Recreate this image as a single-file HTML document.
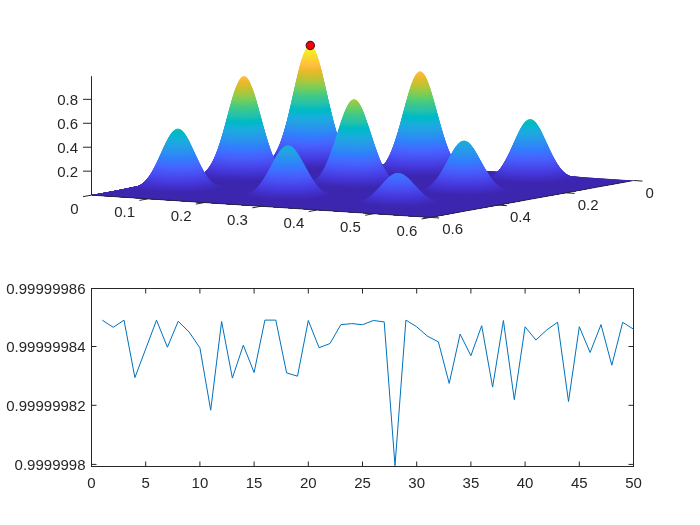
<!DOCTYPE html>
<html><head><meta charset="utf-8"><style>
html,body{margin:0;padding:0;background:#fff;}
svg{display:block;will-change:transform;}
text{font-family:"Liberation Sans",sans-serif;font-size:15px;fill:#262626;}
</style></head><body>
<svg width="700" height="525" viewBox="0 0 700 525">
<defs><linearGradient id="pg" gradientUnits="userSpaceOnUse" x1="0" y1="0" x2="7.842" y2="-119.101"><stop offset="0.0078" stop-color="#3c26b0"/><stop offset="0.0234" stop-color="#3e2abb"/><stop offset="0.0391" stop-color="#402ec5"/><stop offset="0.0547" stop-color="#4232cf"/><stop offset="0.0703" stop-color="#4437d8"/><stop offset="0.0859" stop-color="#463cdf"/><stop offset="0.1016" stop-color="#4741e5"/><stop offset="0.1172" stop-color="#4747eb"/><stop offset="0.1328" stop-color="#484df0"/><stop offset="0.1484" stop-color="#4852f4"/><stop offset="0.1641" stop-color="#4758f8"/><stop offset="0.1797" stop-color="#465efb"/><stop offset="0.1953" stop-color="#4563fd"/><stop offset="0.2109" stop-color="#4269fe"/><stop offset="0.2266" stop-color="#3e6fff"/><stop offset="0.2422" stop-color="#3875fe"/><stop offset="0.2578" stop-color="#327cfc"/><stop offset="0.2734" stop-color="#2f81fa"/><stop offset="0.2891" stop-color="#2e87f7"/><stop offset="0.3047" stop-color="#2d8cf3"/><stop offset="0.3203" stop-color="#2b91ef"/><stop offset="0.3359" stop-color="#2797eb"/><stop offset="0.3516" stop-color="#259be8"/><stop offset="0.3672" stop-color="#23a0e5"/><stop offset="0.3828" stop-color="#20a5e3"/><stop offset="0.3984" stop-color="#1ca9df"/><stop offset="0.4141" stop-color="#18addb"/><stop offset="0.4297" stop-color="#12b1d6"/><stop offset="0.4453" stop-color="#08b5d0"/><stop offset="0.4609" stop-color="#01b8ca"/><stop offset="0.4766" stop-color="#02bac3"/><stop offset="0.4922" stop-color="#0bbdbb"/><stop offset="0.5078" stop-color="#19bfb4"/><stop offset="0.5234" stop-color="#24c1ac"/><stop offset="0.5391" stop-color="#2cc3a3"/><stop offset="0.5547" stop-color="#31c59a"/><stop offset="0.5703" stop-color="#37c791"/><stop offset="0.5859" stop-color="#3fc987"/><stop offset="0.6016" stop-color="#4acb7d"/><stop offset="0.6172" stop-color="#57cc72"/><stop offset="0.6328" stop-color="#64cd68"/><stop offset="0.6484" stop-color="#72cd5e"/><stop offset="0.6641" stop-color="#81cc55"/><stop offset="0.6797" stop-color="#8fcb4d"/><stop offset="0.6953" stop-color="#9dc945"/><stop offset="0.7109" stop-color="#abc73e"/><stop offset="0.7266" stop-color="#b9c437"/><stop offset="0.7422" stop-color="#c5c231"/><stop offset="0.7578" stop-color="#d1bf2d"/><stop offset="0.7734" stop-color="#dcbd2a"/><stop offset="0.7891" stop-color="#e6bb29"/><stop offset="0.8047" stop-color="#f0ba2d"/><stop offset="0.8203" stop-color="#f8ba3d"/><stop offset="0.8359" stop-color="#febe3c"/><stop offset="0.8516" stop-color="#fec338"/><stop offset="0.8672" stop-color="#fec934"/><stop offset="0.8828" stop-color="#fccf30"/><stop offset="0.8984" stop-color="#fad62d"/><stop offset="0.9141" stop-color="#f7dc2a"/><stop offset="0.9297" stop-color="#f5e327"/><stop offset="0.9453" stop-color="#f5e924"/><stop offset="0.9609" stop-color="#f6ef20"/><stop offset="0.9766" stop-color="#f7f51b"/><stop offset="0.9922" stop-color="#f9fb15"/></linearGradient></defs>
<rect width="700" height="525" fill="#fff"/>
<g fill="url(#pg)" stroke="none"><path transform="translate(295,158.2)" d="M0,0 11.3,0.5 31,0.8 38.1,1.1 45.2,1.7 63.5,3.9 76.2,5 117.1,7.6 141.1,8.2 148.2,8.6 155.2,9.2 173.6,11.2 184.9,12.2 227.2,14.9 258.3,16.3 289.3,19 338.7,22.3L318.4,26 -20.3,3.7Z"/><path transform="translate(294.15,158.35)" d="M0,0 11.3,0.4 31,0.1 38.1,0.3 45.2,1.1 63.5,3.8 76.2,5 117.1,7.6 125.6,7.8 141.1,7.7 148.2,7.9 155.2,8.6 173.6,11.1 184.9,12.1 227.2,14.9 251.2,15.6 258.3,15.9 289.3,19 338.7,22.3L318.4,26 -20.3,3.7Z"/><path transform="translate(293.31,158.51)" d="M0,0 11.3,0.3 31,-0.8 38.1,-0.7 45.2,0.2 63.5,3.6 76.2,5 107.3,7.1 117.1,7.5 125.6,7.5 141.1,6.9 148.2,7.1 155.2,7.9 173.6,11 184.9,12.1 227.2,14.9 235.7,15.1 251.2,15.1 258.3,15.4 265.3,16.1 280.8,18.1 289.3,18.9 338.7,22.2L318.4,26 -20.3,3.7Z"/><path transform="translate(292.46,158.66)" d="M0,-0.1 5.6,0.1 11.3,0.1 16.9,-0.4 31,-2 35.3,-2.2 38.1,-2 45.2,-1 57.9,2.2 63.5,3.4 69.2,4.3 76.2,5 107.3,7 117.1,7.4 125.6,7.2 141.1,5.9 148.2,5.9 155.2,6.9 167.9,9.7 173.6,10.8 184.9,12.1 215.9,14.2 227.2,14.8 235.7,14.9 251.2,14.5 258.3,14.7 265.3,15.5 280.8,17.9 289.3,18.9 302,19.9 338.7,22.2L318.4,26 -20.3,3.7Z"/><path transform="translate(291.61,158.82)" d="M0,-0.1 5.6,0 11.3,-0.2 16.9,-0.9 31,-3.6 35.3,-3.9 38.1,-3.8 40.9,-3.4 45.2,-2.5 57.9,1.6 63.5,3.1 69.2,4.2 76.2,5 107.3,7 117.1,7.3 125.6,6.8 141.1,4.5 145.4,4.4 148.2,4.5 151,4.8 155.2,5.6 167.9,9.2 173.6,10.5 179.2,11.5 184.9,12.1 215.9,14.2 227.2,14.7 235.7,14.7 251.2,13.7 258.3,13.9 265.3,14.7 280.8,17.7 289.3,18.8 302,19.9 338.7,22.2L318.4,26 -20.3,3.7Z"/><path transform="translate(290.76,158.97)" d="M0,-0.1 5.6,-0.1 11.3,-0.5 16.9,-1.7 26.8,-4.5 31,-5.5 35.3,-6 38.1,-5.9 40.9,-5.6 45.2,-4.4 57.9,0.8 63.5,2.8 69.2,4 76.2,4.9 107.3,7 117.1,7.2 121.4,6.9 125.6,6.3 136.9,3.7 141.1,2.9 145.4,2.5 148.2,2.6 151,3 155.2,4 167.9,8.5 173.6,10.2 179.2,11.4 184.9,12.1 215.9,14.2 227.2,14.7 235.7,14.4 251.2,12.7 258.3,12.8 265.3,13.8 280.8,17.4 289.3,18.8 302,19.9 338.7,22.1L318.4,26 -20.3,3.7Z"/><path transform="translate(289.92,159.12)" d="M0,-0.1 5.6,-0.2 11.3,-0.9 16.9,-2.5 26.8,-6.5 31,-7.9 35.3,-8.7 38.1,-8.6 40.9,-8.2 45.2,-6.8 49.4,-4.7 57.9,-0.1 63.5,2.3 69.2,3.9 76.2,4.9 107.3,7 112.9,7.2 117.1,7.1 121.4,6.6 125.6,5.7 136.9,2 141.1,0.9 145.4,0.3 148.2,0.4 151,0.8 155.2,2 167.9,7.7 173.6,9.8 179.2,11.2 184.9,12 215.9,14.2 227.2,14.6 231.4,14.4 235.7,14 251.2,11.5 255.4,11.3 258.3,11.4 261.1,11.7 265.3,12.6 280.8,17.1 289.3,18.7 302,19.9 328.8,21.6 338.7,22.1L318.4,26 -20.3,3.7Z"/><path transform="translate(289.07,159.28)" d="M0,-0.2 5.6,-0.4 8.5,-0.8 11.3,-1.4 14.1,-2.4 16.9,-3.6 26.8,-8.9 31,-10.8 35.3,-11.8 38.1,-11.8 40.9,-11.3 45.2,-9.6 49.4,-7 57.9,-1.2 63.5,1.8 66.3,2.9 69.2,3.7 76.2,4.9 107.3,7 112.9,7.1 117.1,6.9 121.4,6.2 125.6,5 129.8,3.2 136.9,0 141.1,-1.6 145.4,-2.3 148.2,-2.3 151,-1.8 155.2,-0.3 159.5,1.9 167.9,6.8 173.6,9.4 179.2,11 184.9,12 191.9,12.6 215.9,14.2 223,14.5 227.2,14.5 231.4,14.2 235.7,13.6 247,10.9 251.2,10.1 255.4,9.7 258.3,9.8 261.1,10.2 265.3,11.2 280.8,16.7 285.1,17.8 289.3,18.6 295,19.3 302,19.9 328.8,21.6 338.7,22L318.4,26 -20.3,3.7Z"/><path transform="translate(288.22,159.43)" d="M0,-0.2 5.6,-0.6 8.5,-1.1 11.3,-2 14.1,-3.2 16.9,-4.8 26.8,-11.8 31,-14.2 33.9,-15.3 35.3,-15.6 38.1,-15.6 40.9,-15 42.3,-14.4 45.2,-12.9 49.4,-9.7 57.9,-2.6 60.7,-0.6 63.5,1.1 66.3,2.5 69.2,3.5 72,4.2 76.2,4.8 83.3,5.5 107.3,7 112.9,7 117.1,6.7 121.4,5.7 125.6,4.1 129.8,1.8 136.9,-2.4 141.1,-4.4 143.9,-5.3 145.4,-5.5 148.2,-5.5 151,-5 155.2,-3.1 159.5,-0.4 167.9,5.7 170.8,7.4 173.6,8.8 176.4,10 179.2,10.8 184.9,11.9 191.9,12.6 215.9,14.2 223,14.5 227.2,14.4 231.4,13.9 235.7,13 247,9.5 251.2,8.4 255.4,7.8 258.3,7.9 261.1,8.3 265.3,9.5 280.8,16.2 285.1,17.5 289.3,18.5 295,19.3 302,19.9 328.8,21.6 338.7,22L318.4,26 -20.3,3.7Z"/><path transform="translate(287.37,159.58)" d="M0,-0.3 2.8,-0.4 5.6,-0.8 8.5,-1.5 11.3,-2.7 14.1,-4.3 16.9,-6.3 26.8,-15 31,-18.2 33.9,-19.5 35.3,-19.9 38.1,-20 40.9,-19.3 42.3,-18.6 45.2,-16.7 49.4,-12.8 57.9,-4.1 60.7,-1.7 63.5,0.4 66.3,2 69.2,3.2 72,4 76.2,4.8 83.3,5.5 107.3,7 112.9,7 117.1,6.4 121.4,5.2 125.6,3.1 129.8,0.2 136.9,-5.1 141.1,-7.7 143.9,-8.8 145.4,-9.1 148.2,-9.2 151,-8.6 152.4,-8 155.2,-6.3 159.5,-3 167.9,4.4 170.8,6.5 173.6,8.2 176.4,9.6 179.2,10.6 184.9,11.9 191.9,12.6 215.9,14.2 223,14.4 227.2,14.2 231.4,13.6 235.7,12.4 239.9,10.8 247,7.8 251.2,6.4 255.4,5.7 258.3,5.7 261.1,6.2 265.3,7.6 269.5,9.7 276.6,13.6 280.8,15.6 285.1,17.2 289.3,18.3 295,19.2 302,19.9 328.8,21.6 338.7,21.9L318.4,26 -20.3,3.7Z"/><path transform="translate(286.53,159.74)" d="M0,-0.3 2.8,-0.5 5.6,-1.1 8.5,-2 11.3,-3.4 14.1,-5.4 16.9,-7.9 19.8,-10.8 26.8,-18.7 31,-22.6 33.9,-24.3 35.3,-24.8 36.7,-25 38.1,-25 39.5,-24.7 40.9,-24.1 42.3,-23.3 45.2,-21.1 49.4,-16.4 57.9,-5.9 60.7,-2.9 63.5,-0.4 66.3,1.5 69.2,2.9 72,3.9 76.2,4.8 83.3,5.5 107.3,7 112.9,6.8 117.1,6.1 121.4,4.5 125.6,1.9 129.8,-1.6 136.9,-8.3 141.1,-11.5 143.9,-12.9 145.4,-13.3 148.2,-13.4 151,-12.6 152.4,-11.9 155.2,-10 159.5,-6 167.9,2.9 170.8,5.4 173.6,7.5 176.4,9.1 179.2,10.4 182.1,11.2 184.9,11.8 191.9,12.6 215.9,14.2 223,14.4 227.2,14 231.4,13.2 235.7,11.8 239.9,9.8 247,6 251.2,4.1 255.4,3.2 258.3,3.2 261.1,3.7 265.3,5.4 269.5,7.9 276.6,12.5 280.8,15 285.1,16.9 289.3,18.2 295,19.2 302,19.9 328.8,21.6 338.7,21.8L318.4,26 -20.3,3.7Z"/><path transform="translate(285.68,159.89)" d="M0,-0.4 2.8,-0.7 5.6,-1.4 8.5,-2.5 11.3,-4.3 14.1,-6.7 16.9,-9.7 19.8,-13.2 26.8,-22.9 29.6,-26.2 31,-27.6 33.9,-29.7 35.3,-30.3 36.7,-30.6 38.1,-30.5 39.5,-30.2 40.9,-29.6 42.3,-28.6 45.2,-25.9 49.4,-20.3 57.9,-7.8 60.7,-4.3 63.5,-1.4 66.3,0.9 69.2,2.6 72,3.7 76.2,4.7 83.3,5.5 107.3,6.9 112.9,6.7 117.1,5.8 120,4.6 121.4,3.8 125.6,0.6 129.8,-3.7 136.9,-11.7 141.1,-15.7 143.9,-17.4 145.4,-17.9 146.8,-18.1 148.2,-18.1 149.6,-17.8 151,-17.2 152.4,-16.4 155.2,-14.1 159.5,-9.4 167.9,1.2 170.8,4.2 173.6,6.7 176.4,8.6 179.2,10.1 182.1,11.1 184.9,11.7 191.9,12.6 215.9,14.2 223,14.3 227.2,13.9 231.4,12.8 235.7,11 239.9,8.5 247,3.9 251.2,1.6 254,0.7 255.4,0.4 258.3,0.4 261.1,1 265.3,3 269.5,5.9 276.6,11.4 280.8,14.3 285.1,16.5 289.3,18 295,19.1 302,19.9 328.8,21.6 334.5,21.8 338.7,21.7L318.4,26 -20.3,3.7Z"/><path transform="translate(284.83,160.05)" d="M0,-0.5 2.8,-0.9 5.6,-1.7 8.5,-3.1 11.3,-5.2 14.1,-8.1 16.9,-11.7 19.8,-15.9 26.8,-27.4 29.6,-31.4 31,-33.1 33.9,-35.5 35.3,-36.3 36.7,-36.6 38.1,-36.6 39.5,-36.2 40.9,-35.5 42.3,-34.4 45.2,-31.2 49.4,-24.7 57.9,-10 60.7,-5.8 63.5,-2.4 66.3,0.3 69.2,2.2 72,3.5 76.2,4.7 83.3,5.5 107.3,6.9 112.9,6.6 117.1,5.4 120,4 121.4,3.1 122.8,2 125.6,-0.8 129.8,-5.9 136.9,-15.6 139.7,-18.9 141.1,-20.3 143.9,-22.3 145.4,-22.9 146.8,-23.2 148.2,-23.2 149.6,-22.8 151,-22.2 152.4,-21.2 155.2,-18.5 159.5,-13 167.9,-0.6 170.8,2.9 173.6,5.8 176.4,8.1 179.2,9.7 182.1,10.9 184.9,11.7 191.9,12.6 215.9,14.2 223,14.2 227.2,13.7 231.4,12.4 235.7,10.2 239.9,7.2 247,1.6 251.2,-1.1 254,-2.3 255.4,-2.6 258.3,-2.6 261.1,-2 262.5,-1.4 265.3,0.3 269.5,3.7 276.6,10.1 280.8,13.5 285.1,16.1 289.3,17.8 295,19.1 302,19.9 328.8,21.6 334.5,21.7 338.7,21.6L318.4,26 -20.3,3.7Z"/><path transform="translate(283.98,160.2)" d="M0,-0.5 2.8,-1 5.6,-2 8.5,-3.7 11.3,-6.2 14.1,-9.6 16.9,-13.8 19.8,-18.8 26.8,-32.3 29.6,-37 31,-38.9 32.5,-40.6 33.9,-41.8 35.3,-42.7 36.7,-43.2 38.1,-43.2 39.5,-42.7 40.9,-41.9 42.3,-40.6 45.2,-36.9 49.4,-29.4 57.9,-12.3 60.7,-7.5 63.5,-3.5 66.3,-0.4 69.2,1.8 72,3.3 76.2,4.6 83.3,5.5 107.3,6.9 110.1,6.8 112.9,6.5 115.7,5.7 117.1,5.1 120,3.4 121.4,2.2 122.8,0.9 125.6,-2.3 129.8,-8.3 136.9,-19.7 139.7,-23.6 141.1,-25.2 143.9,-27.6 145.4,-28.4 146.8,-28.7 148.2,-28.7 149.6,-28.3 151,-27.6 152.4,-26.5 155.2,-23.3 159.5,-16.9 167.9,-2.5 170.8,1.5 173.6,4.9 176.4,7.5 179.2,9.4 182.1,10.7 184.9,11.6 187.7,12.1 191.9,12.6 215.9,14.2 223,14.1 227.2,13.4 231.4,11.9 235.7,9.3 239.9,5.8 247,-0.9 251.2,-4.1 254,-5.4 255.4,-5.8 258.3,-5.9 261.1,-5.2 262.5,-4.5 265.3,-2.5 269.5,1.4 276.6,8.8 280.8,12.7 285.1,15.6 289.3,17.6 292.1,18.4 295,19 302,19.9 328.8,21.6 334.5,21.7 338.7,21.5L318.4,26 -20.3,3.7Z"/><path transform="translate(283.14,160.35)" d="M0,-0.6 2.8,-1.2 5.6,-2.4 8.5,-4.3 11.3,-7.2 14.1,-11.2 16.9,-16.1 19.8,-21.9 26.8,-37.5 29.6,-42.9 31,-45.2 32.5,-47.1 33.9,-48.5 35.3,-49.6 36.7,-50.1 38.1,-50.1 39.5,-49.6 40.9,-48.7 42.3,-47.2 45.2,-43 49.4,-34.3 57.9,-14.7 60.7,-9.2 63.5,-4.7 66.3,-1.2 69.2,1.4 72,3.1 76.2,4.5 79,5 83.3,5.5 101.6,6.7 107.3,6.9 110.1,6.8 112.9,6.3 115.7,5.4 117.1,4.7 120,2.7 121.4,1.4 122.8,-0.2 125.6,-3.9 129.8,-10.9 136.9,-24 139.7,-28.6 141.1,-30.5 142.5,-32.1 143.9,-33.3 145.4,-34.1 146.8,-34.6 148.2,-34.5 149.6,-34.1 151,-33.3 152.4,-32 155.2,-28.5 159.5,-21.1 167.9,-4.6 170.8,0 173.6,3.9 176.4,6.9 179.2,9 182.1,10.5 184.9,11.5 187.7,12.1 191.9,12.6 215.9,14.2 220.2,14.2 223,14 227.2,13.2 231.4,11.4 235.7,8.3 239.9,4.2 247,-3.5 251.2,-7.2 254,-8.8 255.4,-9.3 256.8,-9.5 258.3,-9.4 261.1,-8.6 262.5,-7.8 265.3,-5.6 269.5,-1.1 276.6,7.4 280.8,11.8 285.1,15.1 289.3,17.4 292.1,18.3 295,19 302,19.9 328.8,21.6 334.5,21.7 338.7,21.3L318.4,26 -20.3,3.7Z"/><path transform="translate(282.29,160.51)" d="M0,-0.7 2.8,-1.4 5.6,-2.8 8.5,-5 11.3,-8.3 14.1,-12.8 16.9,-18.5 19.8,-25 26.8,-42.9 29.6,-49.1 31,-51.7 32.5,-53.8 33.9,-55.5 35.3,-56.7 36.7,-57.3 38.1,-57.4 39.5,-56.8 40.9,-55.7 42.3,-54.1 45.2,-49.3 49.4,-39.5 57.9,-17.3 60.7,-11 63.5,-5.9 66.3,-1.9 69.2,0.9 72,2.9 73.4,3.5 76.2,4.5 79,5 83.3,5.5 101.6,6.7 107.3,6.9 110.1,6.7 112.9,6.2 115.7,5.1 117.1,4.3 120,2 121.4,0.5 122.8,-1.3 125.6,-5.6 129.8,-13.6 136.9,-28.6 139.7,-33.8 141.1,-36 142.5,-37.8 143.9,-39.2 145.4,-40.1 146.8,-40.6 148.2,-40.6 149.6,-40.2 151,-39.2 152.4,-37.8 155.2,-33.8 159.5,-25.5 167.9,-6.8 170.8,-1.5 173.6,2.9 176.4,6.2 179.2,8.7 182.1,10.3 184.9,11.4 187.7,12 191.9,12.6 215.9,14.2 220.2,14.2 223,14 227.2,13 230,11.7 231.4,10.8 235.7,7.3 239.9,2.6 247,-6.2 249.8,-9.2 251.2,-10.5 254,-12.3 255.4,-12.9 256.8,-13.1 258.3,-13.1 259.7,-12.7 261.1,-12.1 262.5,-11.2 265.3,-8.8 269.5,-3.7 276.6,5.9 280.8,10.8 285.1,14.6 289.3,17.1 292.1,18.2 295,18.9 302,19.8 328.8,21.6 334.5,21.6 338.7,21.2L318.4,26 -20.3,3.7Z"/><path transform="translate(281.44,160.66)" d="M0,-0.8 2.8,-1.6 5.6,-3.2 8.5,-5.7 11.3,-9.5 14.1,-14.5 16.9,-20.9 19.8,-28.3 26.8,-48.4 29.6,-55.4 31,-58.3 32.5,-60.8 33.9,-62.7 35.3,-64 36.7,-64.7 38.1,-64.8 39.5,-64.2 40.9,-63 42.3,-61.1 45.2,-55.8 49.4,-44.8 57.9,-19.9 60.7,-12.9 63.5,-7.1 66.3,-2.7 69.2,0.5 72,2.6 73.4,3.4 76.2,4.4 79,5 83.3,5.5 101.6,6.7 107.3,6.8 110.1,6.6 112.9,6 115.7,4.8 117.1,3.8 120,1.2 121.4,-0.5 122.8,-2.5 125.6,-7.3 129.8,-16.3 136.9,-33.2 139.7,-39.1 141.1,-41.6 142.5,-43.6 143.9,-45.2 145.4,-46.3 146.8,-46.9 148.2,-46.9 149.6,-46.4 151,-45.3 152.4,-43.7 155.2,-39.2 159.5,-29.9 167.9,-9 170.8,-3.1 173.6,1.8 176.4,5.5 179.2,8.3 182.1,10.1 184.9,11.3 187.7,12 191.9,12.6 215.9,14.2 220.2,14.2 223,13.9 227.2,12.7 230,11.2 231.4,10.3 232.9,9.1 235.7,6.3 239.9,1 247,-9 249.8,-12.4 251.2,-13.8 254,-15.9 255.4,-16.5 256.8,-16.8 258.3,-16.8 259.7,-16.4 261.1,-15.8 262.5,-14.8 265.3,-12 269.5,-6.3 276.6,4.3 280.8,9.9 285.1,14.1 286.5,15.2 289.3,16.9 292.1,18.1 295,18.9 302,19.8 328.8,21.6 334.5,21.5 338.7,21.1L318.4,26 -20.3,3.7Z"/><path transform="translate(280.59,160.81)" d="M0,-0.9 2.8,-1.8 5.6,-3.5 8.5,-6.4 11.3,-10.6 14.1,-16.3 16.9,-23.3 19.8,-31.6 26.8,-53.9 29.6,-61.7 31,-65 32.5,-67.7 33.9,-69.9 35.3,-71.4 36.7,-72.2 38.1,-72.2 39.5,-71.6 40.9,-70.2 42.3,-68.2 43.7,-65.5 45.2,-62.3 46.6,-58.6 49.4,-50.1 57.9,-22.5 60.7,-14.8 63.5,-8.4 66.3,-3.5 69.2,0 72,2.4 73.4,3.2 76.2,4.3 79,5 83.3,5.5 101.6,6.7 107.3,6.8 110.1,6.6 112.9,5.8 115.7,4.4 117.1,3.4 120,0.5 121.4,-1.4 122.8,-3.6 125.6,-9 129.8,-19.1 136.9,-37.9 139.7,-44.5 141.1,-47.2 142.5,-49.5 143.9,-51.3 145.4,-52.5 146.8,-53.1 148.2,-53.2 149.6,-52.6 151,-51.4 152.4,-49.7 155.2,-44.7 159.5,-34.4 167.9,-11.2 170.8,-4.7 173.6,0.7 176.4,4.9 179.2,7.9 182.1,9.9 184.9,11.2 187.7,12 191.9,12.6 215.9,14.1 220.2,14.1 223,13.8 225.8,13 227.2,12.5 230,10.8 231.4,9.7 232.9,8.4 235.7,5.3 239.9,-0.6 247,-11.8 249.8,-15.6 251.2,-17.2 254,-19.5 255.4,-20.2 256.8,-20.6 258.3,-20.5 259.7,-20.1 261.1,-19.4 262.5,-18.3 265.3,-15.3 269.5,-9 276.6,2.8 280.8,8.9 283.7,12.2 285.1,13.6 286.5,14.8 289.3,16.6 292.1,17.9 295,18.8 297.8,19.3 302,19.8 328.8,21.6 334.5,21.5 338.7,20.9L318.4,26 -20.3,3.7Z"/><path transform="translate(279.75,160.97)" d="M0,-1 2.8,-2 5.6,-3.9 8.5,-7.1 11.3,-11.7 14.1,-17.9 16.9,-25.7 19.8,-34.8 26.8,-59.4 29.6,-68 31,-71.6 32.5,-74.6 33.9,-77 35.3,-78.6 36.7,-79.5 38.1,-79.6 39.5,-78.9 40.9,-77.4 42.3,-75.2 43.7,-72.3 45.2,-68.7 46.6,-64.7 49.4,-55.4 57.9,-25.1 60.7,-16.6 63.5,-9.6 66.3,-4.3 69.2,-0.4 72,2.1 73.4,3 76.2,4.3 79,4.9 83.3,5.4 101.6,6.7 107.3,6.8 110.1,6.5 112.9,5.7 115.7,4.1 117.1,3 120,-0.2 121.4,-2.3 122.8,-4.8 125.6,-10.7 129.8,-21.8 136.9,-42.5 139.7,-49.7 141.1,-52.7 142.5,-55.3 143.9,-57.2 145.4,-58.6 146.8,-59.3 148.2,-59.3 149.6,-58.7 151,-57.4 152.4,-55.5 155.2,-50.1 159.5,-38.8 167.9,-13.4 170.8,-6.2 173.6,-0.3 176.4,4.2 179.2,7.5 182.1,9.7 184.9,11.1 187.7,11.9 191.9,12.6 215.9,14.1 220.2,14.1 223,13.7 225.8,12.9 227.2,12.2 230,10.4 231.4,9.2 232.9,7.8 235.7,4.3 239.9,-2.2 247,-14.5 249.8,-18.7 251.2,-20.5 252.6,-22 254,-23.1 255.4,-23.9 256.8,-24.2 258.3,-24.2 259.7,-23.8 261.1,-23 262.5,-21.8 265.3,-18.5 269.5,-11.6 276.6,1.3 280.8,8 283.7,11.6 285.1,13.1 286.5,14.4 289.3,16.4 292.1,17.8 295,18.7 297.8,19.3 302,19.8 328.8,21.6 334.5,21.4 338.7,20.8L318.4,26 -20.3,3.7Z"/><path transform="translate(278.9,161.12)" d="M0,-1.1 2.8,-2.2 5.6,-4.3 8.5,-7.7 11.3,-12.8 14.1,-19.6 16.9,-28.1 19.8,-37.9 26.8,-64.7 29.6,-74 31,-77.9 32.5,-81.2 33.9,-83.8 35.3,-85.6 36.7,-86.5 38.1,-86.7 39.5,-85.9 40.9,-84.3 42.3,-81.9 43.7,-78.7 45.2,-74.9 46.6,-70.5 49.4,-60.4 57.9,-27.6 60.7,-18.4 63.5,-10.8 66.3,-5 69.2,-0.8 72,1.9 73.4,2.9 76.2,4.2 79,4.9 83.3,5.4 101.6,6.7 107.3,6.8 110.1,6.4 112.9,5.5 115.7,3.8 117.1,2.6 120,-0.9 121.4,-3.2 122.8,-5.9 125.6,-12.3 129.8,-24.4 136.9,-47 139.7,-54.8 141.1,-58.1 142.5,-60.8 143.9,-63 145.4,-64.5 146.8,-65.2 148.2,-65.3 149.6,-64.6 151,-63.3 152.4,-61.2 153.8,-58.5 155.2,-55.3 159.5,-43.1 167.9,-15.5 170.8,-7.7 173.6,-1.3 176.4,3.6 179.2,7.1 182.1,9.5 184.9,11 187.7,11.9 191.9,12.6 215.9,14.1 220.2,14 223,13.6 225.8,12.7 227.2,12 230,10 231.4,8.7 232.9,7.1 235.7,3.3 239.9,-3.8 247,-17.2 249.8,-21.8 251.2,-23.7 252.6,-25.3 254,-26.5 255.4,-27.4 256.8,-27.8 258.3,-27.8 259.7,-27.3 261.1,-26.5 262.5,-25.2 265.3,-21.6 269.5,-14.2 276.6,-0.2 280.8,7.1 283.7,11 285.1,12.6 286.5,14 289.3,16.2 292.1,17.7 295,18.7 297.8,19.3 302,19.8 328.8,21.5 334.5,21.4 338.7,20.7L318.4,26 -20.3,3.7Z"/><path transform="translate(278.05,161.28)" d="M0,-1.1 2.8,-2.4 4.2,-3.4 5.6,-4.7 7.1,-6.3 8.5,-8.4 11.3,-13.8 14.1,-21.1 16.9,-30.2 19.8,-40.9 26.8,-69.7 29.6,-79.7 31,-83.9 32.5,-87.4 33.9,-90.2 35.3,-92.1 36.7,-93.2 38.1,-93.3 39.5,-92.5 40.9,-90.8 42.3,-88.2 43.7,-84.8 45.2,-80.7 46.6,-76 49.4,-65.2 57.9,-29.9 60.7,-20 63.5,-11.9 66.3,-5.7 69.2,-1.2 72,1.7 73.4,2.7 76.2,4.1 79,4.9 83.3,5.4 101.6,6.7 107.3,6.7 110.1,6.4 112.9,5.4 115.7,3.5 117.1,2.2 120,-1.6 121.4,-4.1 122.8,-6.9 125.6,-13.9 129.8,-26.9 136.9,-51.1 139.7,-59.6 141.1,-63.1 142.5,-66.1 143.9,-68.4 145.4,-70 146.8,-70.8 148.2,-70.9 149.6,-70.2 151,-68.7 152.4,-66.5 153.8,-63.7 155.2,-60.2 159.5,-47.1 167.9,-17.5 170.8,-9.1 173.6,-2.3 176.4,3 179.2,6.8 182.1,9.3 184.9,10.9 187.7,11.9 191.9,12.5 215.9,14.1 220.2,14 223,13.5 225.8,12.5 227.2,11.8 230,9.6 231.4,8.2 232.9,6.5 235.7,2.4 239.9,-5.3 247,-19.7 249.8,-24.6 251.2,-26.7 252.6,-28.4 254,-29.8 255.4,-30.7 256.8,-31.1 258.3,-31.1 259.7,-30.7 261.1,-29.7 262.5,-28.4 265.3,-24.5 269.5,-16.6 276.6,-1.5 280.8,6.3 283.7,10.4 285.1,12.1 286.5,13.6 289.3,16 292.1,17.6 295,18.6 297.8,19.3 302,19.8 328.8,21.5 334.5,21.3 338.7,20.5L318.4,26 -20.3,3.7Z"/><path transform="translate(277.2,161.43)" d="M0,-1.2 2.8,-2.5 4.2,-3.6 5.6,-5 7.1,-6.7 8.5,-8.9 11.3,-14.7 14.1,-22.5 16.9,-32.2 19.8,-43.5 26.8,-74.2 29.6,-84.9 31,-89.4 32.5,-93.1 33.9,-96.1 35.3,-98.2 36.7,-99.3 38.1,-99.4 39.5,-98.6 40.9,-96.7 42.3,-94 43.7,-90.4 45.2,-86.1 46.6,-81.1 49.4,-69.5 57.9,-32.1 60.7,-21.6 63.5,-13 66.3,-6.3 69.2,-1.6 72,1.5 73.4,2.6 76.2,4.1 79,4.9 83.3,5.4 101.6,6.7 107.3,6.7 110.1,6.3 112.9,5.3 115.7,3.3 117.1,1.8 120,-2.2 121.4,-4.8 122.8,-7.9 125.6,-15.3 129.8,-29.1 136.9,-55 139.7,-64 141.1,-67.7 142.5,-70.9 143.9,-73.3 145.4,-75 146.8,-75.9 148.2,-76 149.6,-75.3 151,-73.7 152.4,-71.4 153.8,-68.3 155.2,-64.7 156.6,-60.4 159.5,-50.7 167.9,-19.3 170.8,-10.4 173.6,-3.2 176.4,2.4 179.2,6.5 182.1,9.2 184.9,10.8 187.7,11.8 191.9,12.5 215.9,14.1 220.2,14 223,13.5 225.8,12.4 227.2,11.6 230,9.2 231.4,7.7 232.9,5.9 235.7,1.6 239.9,-6.6 247,-21.9 249.8,-27.2 251.2,-29.5 252.6,-31.3 254,-32.7 255.4,-33.7 256.8,-34.2 258.3,-34.2 259.7,-33.7 261.1,-32.7 262.5,-31.3 265.3,-27.2 269.5,-18.7 276.6,-2.8 280.8,5.5 283.7,9.9 285.1,11.7 286.5,13.3 289.3,15.8 292.1,17.5 295,18.6 297.8,19.3 302,19.8 328.8,21.5 334.5,21.3 338.7,20.4L318.4,26 -20.3,3.7Z"/><path transform="translate(276.36,161.58)" d="M0,-1.3 2.8,-2.7 4.2,-3.8 5.6,-5.3 7.1,-7.1 8.5,-9.4 11.3,-15.5 14.1,-23.7 16.9,-34 19.8,-45.9 26.8,-78.2 29.6,-89.5 31,-94.2 32.5,-98.2 33.9,-101.3 35.3,-103.5 36.7,-104.6 38.1,-104.8 39.5,-103.9 40.9,-102 42.3,-99.1 43.7,-95.3 45.2,-90.8 46.6,-85.5 49.4,-73.4 57.9,-34 60.7,-22.9 63.5,-13.9 66.3,-6.9 69.2,-1.9 70.6,-0.1 72,1.4 73.4,2.5 76.2,4 79,4.8 83.3,5.4 101.6,6.7 107.3,6.7 110.1,6.3 112.9,5.1 115.7,3 117.1,1.5 120,-2.7 121.4,-5.5 122.8,-8.7 125.6,-16.5 129.8,-31.1 136.9,-58.4 139.7,-67.8 141.1,-71.8 142.5,-75.1 143.9,-77.7 145.4,-79.5 146.8,-80.5 148.2,-80.6 149.6,-79.8 151,-78.1 152.4,-75.7 153.8,-72.5 155.2,-68.6 156.6,-64.2 159.5,-53.9 167.9,-20.9 170.8,-11.6 173.6,-3.9 176.4,1.9 179.2,6.2 182.1,9 184.9,10.8 187.7,11.8 191.9,12.5 215.9,14.1 220.2,13.9 223,13.4 225.8,12.2 227.2,11.4 230,8.9 231.4,7.3 232.9,5.4 235.7,0.9 239.9,-7.8 247,-24 249.8,-29.5 251.2,-31.9 252.6,-33.8 254,-35.3 255.4,-36.4 256.8,-36.9 258.3,-36.9 259.7,-36.4 261.1,-35.3 262.5,-33.8 265.3,-29.5 269.5,-20.7 276.6,-3.9 280.8,4.8 283.7,9.4 285.1,11.3 286.5,13 289.3,15.6 292.1,17.4 295,18.5 297.8,19.2 302,19.8 328.8,21.5 334.5,21.3 338.7,20.3L318.4,26 -20.3,3.7Z"/><path transform="translate(275.51,161.74)" d="M0,-1.3 2.8,-2.8 4.2,-4 5.6,-5.5 7.1,-7.4 8.5,-9.9 11.3,-16.2 14.1,-24.8 16.9,-35.5 19.8,-47.9 26.8,-81.6 29.6,-93.3 31,-98.3 32.5,-102.4 33.9,-105.7 35.3,-107.9 36.7,-109.2 38.1,-109.3 39.5,-108.4 40.9,-106.4 42.3,-103.4 43.7,-99.5 45.2,-94.7 46.6,-89.2 49.4,-76.6 57.9,-35.6 60.7,-24.1 63.5,-14.6 66.3,-7.4 69.2,-2.2 70.6,-0.3 72,1.2 73.4,2.4 76.2,4 79,4.8 83.3,5.4 101.6,6.7 107.3,6.7 110.1,6.2 112.9,5.1 114.3,4.1 115.7,2.9 117.1,1.2 120,-3.2 121.4,-6.1 122.8,-9.4 125.6,-17.6 129.8,-32.8 136.9,-61.2 139.7,-71.1 141.1,-75.2 142.5,-78.7 143.9,-81.4 145.4,-83.3 146.8,-84.3 148.2,-84.4 149.6,-83.6 151,-81.9 152.4,-79.3 153.8,-76 155.2,-71.9 156.6,-67.3 159.5,-56.7 167.9,-22.2 170.8,-12.5 173.6,-4.6 176.4,1.5 179.2,5.9 182.1,8.9 184.9,10.7 187.7,11.8 191.9,12.5 215.9,14.1 220.2,13.9 223,13.3 225.8,12.1 227.2,11.2 230,8.7 231.4,7 232.9,5 235.7,0.2 239.9,-8.8 247,-25.7 249.8,-31.5 251.2,-33.9 252.6,-36 254,-37.5 255.4,-38.6 256.8,-39.2 258.3,-39.2 259.7,-38.6 261.1,-37.6 262.5,-36 265.3,-31.5 269.5,-22.3 276.6,-4.8 280.8,4.2 283.7,9 285.1,11 286.5,12.7 289.3,15.5 292.1,17.3 295,18.5 297.8,19.2 302,19.8 328.8,21.5 334.5,21.2 338.7,20.3L318.4,26 -20.3,3.7Z"/><path transform="translate(274.66,161.89)" d="M0,-1.4 2.8,-2.9 4.2,-4.1 5.6,-5.7 7.1,-7.7 8.5,-10.2 11.3,-16.8 14.1,-25.6 16.9,-36.6 19.8,-49.5 26.8,-84.3 29.6,-96.4 31,-101.5 32.5,-105.7 33.9,-109.1 35.3,-111.5 36.7,-112.7 38.1,-112.9 39.5,-111.9 40.9,-109.9 42.3,-106.8 43.7,-102.8 45.2,-97.9 46.6,-92.2 49.4,-79.2 57.9,-36.8 60.7,-25 63.5,-15.2 66.3,-7.8 69.2,-2.4 70.6,-0.5 72,1.1 73.4,2.3 76.2,3.9 79,4.8 83.3,5.4 101.6,6.7 107.3,6.7 110.1,6.2 112.9,5 114.3,4 115.7,2.7 117.1,1 120,-3.5 121.4,-6.5 122.8,-10 125.6,-18.4 129.8,-34.1 136.9,-63.4 139.7,-73.6 141.1,-77.9 142.5,-81.5 143.9,-84.3 145.4,-86.2 146.8,-87.3 148.2,-87.4 149.6,-86.5 151,-84.8 152.4,-82.2 153.8,-78.7 155.2,-74.6 156.6,-69.8 159.5,-58.8 167.9,-23.3 170.8,-13.3 173.6,-5.1 176.4,1.2 179.2,5.8 182.1,8.8 184.9,10.7 187.7,11.7 191.9,12.5 215.9,14.1 220.2,13.9 223,13.3 225.8,12 227.2,11.1 230,8.5 231.4,6.7 232.9,4.7 235.7,-0.3 239.9,-9.6 247,-27 249.8,-33 251.2,-35.5 252.6,-37.6 254,-39.3 255.4,-40.4 256.8,-40.9 258.3,-41 259.7,-40.4 261.1,-39.3 262.5,-37.7 265.3,-33.1 269.5,-23.6 276.6,-5.6 280.8,3.7 283.7,8.7 285.1,10.8 286.5,12.5 289.3,15.3 292.1,17.2 295,18.5 297.8,19.2 302,19.8 328.8,21.5 334.5,21.2 338.7,20.2L318.4,26 -20.3,3.7Z"/><path transform="translate(273.81,162.04)" d="M0,-1.4 2.8,-3 4.2,-4.2 5.6,-5.8 7.1,-7.9 8.5,-10.4 11.3,-17.1 14.1,-26.2 16.9,-37.5 19.8,-50.6 26.8,-86.1 29.6,-98.5 31,-103.7 32.5,-108.1 33.9,-111.5 35.3,-113.9 36.7,-115.2 38.1,-115.4 39.5,-114.5 40.9,-112.4 42.3,-109.2 43.7,-105.1 45.2,-100.1 46.6,-94.3 49.4,-81 57.9,-37.7 60.7,-25.6 63.5,-15.6 66.3,-8 69.2,-2.6 70.6,-0.6 72,1 73.4,2.3 76.2,3.9 79,4.8 83.3,5.4 101.6,6.7 107.3,6.7 110.1,6.2 112.9,4.9 114.3,3.9 115.7,2.6 117.1,0.9 120,-3.8 121.4,-6.8 122.8,-10.4 125.6,-19 129.8,-35 136.9,-65 139.7,-75.5 141.1,-79.8 142.5,-83.5 143.9,-86.4 145.4,-88.3 146.8,-89.4 148.2,-89.5 149.6,-88.7 151,-86.9 152.4,-84.2 153.8,-80.7 155.2,-76.4 156.6,-71.5 159.5,-60.3 167.9,-24 170.8,-13.8 173.6,-5.5 176.4,1 179.2,5.6 182.1,8.7 184.9,10.6 187.7,11.7 191.9,12.5 215.9,14.1 220.2,13.9 223,13.3 225.8,12 227.2,11 230,8.3 231.4,6.5 232.9,4.5 235.7,-0.6 239.9,-10.1 247,-27.9 249.8,-34.1 251.2,-36.7 252.6,-38.8 254,-40.5 255.4,-41.6 256.8,-42.2 258.3,-42.2 259.7,-41.7 261.1,-40.6 262.5,-38.9 265.3,-34.2 269.5,-24.5 276.6,-6.1 280.8,3.4 283.7,8.5 285.1,10.6 286.5,12.4 289.3,15.3 292.1,17.2 295,18.4 297.8,19.2 302,19.8 328.8,21.5 334.5,21.2 338.7,20.1L318.4,26 -20.3,3.7Z"/><path transform="translate(272.97,162.2)" d="M0,-1.4 2.8,-3 4.2,-4.2 5.6,-5.9 7.1,-8 8.5,-10.6 11.3,-17.4 14.1,-26.5 16.9,-37.9 19.8,-51.2 26.8,-87.2 29.6,-99.7 31,-105 32.5,-109.4 33.9,-112.9 35.3,-115.3 36.7,-116.7 38.1,-116.8 39.5,-115.9 40.9,-113.8 42.3,-110.6 43.7,-106.4 45.2,-101.3 46.6,-95.4 49.4,-82 57.9,-38.2 60.7,-25.9 63.5,-15.9 66.3,-8.2 69.2,-2.7 70.6,-0.6 72,1 73.4,2.2 76.2,3.9 79,4.8 83.3,5.4 101.6,6.7 107.3,6.7 110.1,6.1 112.9,4.9 114.3,3.9 115.7,2.5 117.1,0.8 120,-3.9 121.4,-7 122.8,-10.6 125.6,-19.3 129.8,-35.6 136.9,-65.9 139.7,-76.5 141.1,-80.9 142.5,-84.6 143.9,-87.5 145.4,-89.5 146.8,-90.6 148.2,-90.7 149.6,-89.8 151,-88 152.4,-85.3 153.8,-81.8 155.2,-77.5 156.6,-72.5 159.5,-61.2 167.9,-24.5 170.8,-14.1 173.6,-5.7 176.4,0.9 179.2,5.5 182.1,8.7 184.9,10.6 187.7,11.7 191.9,12.5 215.9,14.1 220.2,13.9 223,13.2 225.8,11.9 227.2,11 230,8.2 231.4,6.4 232.9,4.3 235.7,-0.8 239.9,-10.4 247,-28.5 249.8,-34.7 251.2,-37.3 252.6,-39.5 254,-41.2 255.4,-42.3 256.8,-42.9 258.3,-42.9 259.7,-42.4 261.1,-41.2 262.5,-39.6 265.3,-34.8 269.5,-25 276.6,-6.4 280.8,3.2 283.7,8.4 285.1,10.5 286.5,12.3 289.3,15.2 292.1,17.2 295,18.4 297.8,19.2 302,19.8 321.8,21.2 328.8,21.5 334.5,21.2 338.7,20.1L318.4,26 -20.3,3.7Z"/><path transform="translate(272.12,162.35)" d="M0,-1.4 2.8,-3 4.2,-4.3 5.6,-5.9 7.1,-8 8.5,-10.6 11.3,-17.4 14.1,-26.6 16.9,-38 19.8,-51.3 26.8,-87.4 29.6,-100 31,-105.2 32.5,-109.7 33.9,-113.2 35.3,-115.6 36.7,-116.9 38.1,-117.1 39.5,-116.1 40.9,-114 42.3,-110.8 43.7,-106.6 45.2,-101.5 46.6,-95.7 49.4,-82.2 57.9,-38.3 60.7,-26 63.5,-15.9 66.3,-8.2 69.2,-2.7 70.6,-0.6 72,1 73.4,2.2 76.2,3.9 79,4.8 83.3,5.4 101.6,6.7 107.3,6.7 110.1,6.1 112.9,4.9 114.3,3.9 115.7,2.5 117.1,0.8 120,-4 121.4,-7.1 122.8,-10.7 125.6,-19.4 129.8,-35.7 136.9,-66.1 139.7,-76.7 141.1,-81.1 142.5,-84.8 143.9,-87.7 145.4,-89.7 146.8,-90.8 148.2,-90.9 149.6,-90.1 151,-88.3 152.4,-85.5 153.8,-82 155.2,-77.7 156.6,-72.7 159.5,-61.3 167.9,-24.5 170.8,-14.2 173.6,-5.7 176.4,0.8 179.2,5.5 182.1,8.7 184.9,10.6 187.7,11.7 191.9,12.5 215.9,14.1 220.2,13.9 223,13.2 225.8,11.9 227.2,11 230,8.2 231.4,6.4 232.9,4.3 235.7,-0.8 239.9,-10.5 247,-28.6 249.8,-34.8 251.2,-37.4 252.6,-39.6 254,-41.3 255.4,-42.5 256.8,-43.1 258.3,-43.1 259.7,-42.5 261.1,-41.4 262.5,-39.7 265.3,-34.9 269.5,-25.1 276.6,-6.4 280.8,3.2 283.7,8.3 285.1,10.5 286.5,12.3 289.3,15.2 292.1,17.2 295,18.4 297.8,19.2 302,19.8 321.8,21.2 328.8,21.5 334.5,21.2 338.7,20.1L318.4,26 -20.3,3.7Z"/><path transform="translate(271.27,162.51)" d="M0,-1.4 2.8,-3 4.2,-4.2 5.6,-5.9 7.1,-7.9 8.5,-10.5 11.3,-17.3 14.1,-26.4 16.9,-37.7 19.8,-50.9 26.8,-86.7 29.6,-99.2 31,-104.5 32.5,-108.9 33.9,-112.3 35.3,-114.7 36.7,-116 38.1,-116.2 39.5,-115.3 40.9,-113.2 42.3,-110 43.7,-105.8 45.2,-100.8 46.6,-94.9 49.4,-81.5 57.9,-38 60.7,-25.8 63.5,-15.8 66.3,-8.1 69.2,-2.6 70.6,-0.6 72,1 73.4,2.2 76.2,3.9 79,4.8 83.3,5.4 101.6,6.7 107.3,6.7 110.1,6.1 112.9,4.9 114.3,3.9 115.7,2.6 117.1,0.8 120,-3.9 121.4,-6.9 122.8,-10.5 125.6,-19.1 129.8,-35.3 136.9,-65.5 139.7,-76 141.1,-80.4 142.5,-84.1 143.9,-87 145.4,-89 146.8,-90.1 148.2,-90.2 149.6,-89.3 151,-87.5 152.4,-84.8 153.8,-81.3 155.2,-77 156.6,-72.1 159.5,-60.8 167.9,-24.3 170.8,-14 173.6,-5.6 176.4,0.9 179.2,5.6 182.1,8.7 184.9,10.6 187.7,11.7 191.9,12.5 215.9,14.1 220.2,13.9 223,13.3 225.8,12 227.2,11 230,8.3 231.4,6.5 232.9,4.4 235.7,-0.7 239.9,-10.3 247,-28.2 249.8,-34.5 251.2,-37 252.6,-39.2 254,-40.9 255.4,-42 256.8,-42.6 258.3,-42.6 259.7,-42.1 261.1,-40.9 262.5,-39.3 265.3,-34.5 269.5,-24.8 276.6,-6.3 280.8,3.3 283.7,8.4 285.1,10.5 286.5,12.4 289.3,15.2 292.1,17.2 295,18.4 297.8,19.2 302,19.8 328.8,21.5 334.5,21.2 338.7,20.1L318.4,26 -20.3,3.7Z"/><path transform="translate(270.42,162.66)" d="M0,-1.4 2.8,-2.9 4.2,-4.1 5.6,-5.8 7.1,-7.8 8.5,-10.3 11.3,-17 14.1,-25.9 16.9,-37.1 19.8,-50.1 26.8,-85.2 29.6,-97.5 31,-102.6 32.5,-107 33.9,-110.4 35.3,-112.7 36.7,-114 38.1,-114.2 39.5,-113.2 40.9,-111.2 42.3,-108.1 43.7,-104 45.2,-99 46.6,-93.3 49.4,-80.1 57.9,-37.3 60.7,-25.3 63.5,-15.4 66.3,-7.9 69.2,-2.5 70.6,-0.5 72,1.1 73.4,2.3 76.2,3.9 79,4.8 83.3,5.4 101.6,6.7 107.3,6.7 110.1,6.2 112.9,4.9 114.3,4 115.7,2.6 117.1,1 120,-3.7 121.4,-6.7 122.8,-10.2 125.6,-18.7 129.8,-34.6 136.9,-64.3 139.7,-74.6 141.1,-78.9 142.5,-82.5 143.9,-85.4 145.4,-87.3 146.8,-88.4 148.2,-88.5 149.6,-87.6 151,-85.9 152.4,-83.2 153.8,-79.7 155.2,-75.5 156.6,-70.7 159.5,-59.6 167.9,-23.7 170.8,-13.6 173.6,-5.3 176.4,1.1 179.2,5.7 182.1,8.7 184.9,10.6 187.7,11.7 191.9,12.5 215.9,14.1 220.2,13.9 223,13.3 225.8,12 227.2,11.1 230,8.4 231.4,6.6 232.9,4.6 235.7,-0.4 239.9,-9.9 247,-27.5 249.8,-33.6 251.2,-36.1 252.6,-38.3 254,-39.9 255.4,-41 256.8,-41.6 258.3,-41.6 259.7,-41.1 261.1,-40 262.5,-38.3 265.3,-33.7 269.5,-24 276.6,-5.8 280.8,3.6 283.7,8.6 285.1,10.7 286.5,12.5 289.3,15.3 292.1,17.2 295,18.5 297.8,19.2 302,19.8 328.8,21.5 334.5,21.2 338.7,20.2L318.4,26 -20.3,3.7Z"/><path transform="translate(269.58,162.81)" d="M0,-1.4 2.8,-2.8 4.2,-4 5.6,-5.6 7.1,-7.6 8.5,-10 11.3,-16.5 14.1,-25.2 16.9,-36.1 19.8,-48.7 26.8,-82.9 29.6,-94.8 31,-99.9 32.5,-104.1 33.9,-107.4 35.3,-109.7 36.7,-110.9 38.1,-111.1 39.5,-110.2 40.9,-108.2 42.3,-105.1 43.7,-101.1 45.2,-96.3 46.6,-90.7 49.4,-77.9 57.9,-36.2 60.7,-24.5 63.5,-14.9 66.3,-7.6 69.2,-2.3 70.6,-0.4 72,1.2 73.4,2.4 76.2,4 79,4.8 83.3,5.4 101.6,6.7 107.3,6.7 110.1,6.2 112.9,5 114.3,4 115.7,2.8 117.1,1.1 120,-3.4 121.4,-6.3 122.8,-9.7 125.6,-18 129.8,-33.4 136.9,-62.3 139.7,-72.4 141.1,-76.6 142.5,-80.1 143.9,-82.8 145.4,-84.8 146.8,-85.8 148.2,-85.9 149.6,-85.1 151,-83.3 152.4,-80.7 153.8,-77.4 155.2,-73.3 156.6,-68.6 159.5,-57.7 167.9,-22.7 170.8,-12.9 173.6,-4.8 176.4,1.4 179.2,5.8 182.1,8.8 184.9,10.7 187.7,11.8 191.9,12.5 215.9,14.1 220.2,13.9 223,13.3 225.8,12.1 227.2,11.2 230,8.6 231.4,6.9 232.9,4.9 235.7,0 239.9,-9.2 247,-26.3 249.8,-32.3 251.2,-34.7 252.6,-36.8 254,-38.4 255.4,-39.5 256.8,-40.1 258.3,-40.1 259.7,-39.5 261.1,-38.4 262.5,-36.8 265.3,-32.3 269.5,-22.9 276.6,-5.2 280.8,4 283.7,8.9 285.1,10.9 286.5,12.6 289.3,15.4 292.1,17.3 295,18.5 297.8,19.2 302,19.8 328.8,21.5 334.5,21.2 338.7,20.2L318.4,26 -20.3,3.7Z"/><path transform="translate(268.73,162.97)" d="M0,-1.3 2.8,-2.7 4.2,-3.9 5.6,-5.4 7.1,-7.3 8.5,-9.6 11.3,-15.9 14.1,-24.2 16.9,-34.7 19.8,-46.9 26.8,-79.9 29.6,-91.4 31,-96.2 32.5,-100.2 33.9,-103.4 35.3,-105.6 36.7,-106.9 38.1,-107 39.5,-106.1 40.9,-104.2 42.3,-101.2 43.7,-97.4 45.2,-92.7 46.6,-87.3 49.4,-74.9 57.9,-34.8 60.7,-23.5 63.5,-14.2 66.3,-7.1 69.2,-2.1 70.6,-0.2 72,1.3 73.4,2.4 76.2,4 79,4.8 83.3,5.4 101.6,6.7 107.3,6.7 110.1,6.2 112.9,5.1 115.7,3 117.1,1.4 120,-3 121.4,-5.8 122.8,-9.1 125.6,-17 129.8,-31.9 136.9,-59.7 139.7,-69.4 141.1,-73.5 142.5,-76.9 143.9,-79.5 145.4,-81.4 146.8,-82.3 148.2,-82.4 149.6,-81.6 151,-80 152.4,-77.5 153.8,-74.2 155.2,-70.2 156.6,-65.7 159.5,-55.3 167.9,-21.5 170.8,-12.1 173.6,-4.3 176.4,1.7 179.2,6.1 182.1,8.9 184.9,10.7 187.7,11.8 191.9,12.5 215.9,14.1 220.2,13.9 223,13.4 225.8,12.2 227.2,11.3 230,8.8 231.4,7.2 232.9,5.2 235.7,0.5 239.9,-8.3 247,-24.8 249.8,-30.5 251.2,-32.9 252.6,-34.9 254,-36.4 255.4,-37.5 256.8,-38 258.3,-38 259.7,-37.5 261.1,-36.4 262.5,-34.9 265.3,-30.5 269.5,-21.5 276.6,-4.4 280.8,4.5 283.7,9.2 285.1,11.2 286.5,12.9 289.3,15.5 292.1,17.3 295,18.5 297.8,19.2 302,19.8 328.8,21.5 334.5,21.3 338.7,20.3L318.4,26 -20.3,3.7Z"/><path transform="translate(267.88,163.12)" d="M0,-1.2 2.8,-2.6 4.2,-3.7 5.6,-5.1 7.1,-6.9 8.5,-9.2 11.3,-15.1 14.1,-23.1 16.9,-33.1 19.8,-44.7 26.8,-76.1 29.6,-87.1 31,-91.7 32.5,-95.6 33.9,-98.6 35.3,-100.7 36.7,-101.9 38.1,-102 39.5,-101.1 40.9,-99.3 42.3,-96.5 43.7,-92.8 45.2,-88.3 46.6,-83.2 49.4,-71.4 57.9,-33 60.7,-22.2 63.5,-13.4 66.3,-6.6 69.2,-1.8 72,1.4 73.4,2.6 76.2,4 79,4.9 83.3,5.4 101.6,6.7 107.3,6.7 110.1,6.3 112.9,5.2 115.7,3.2 117.1,1.7 120,-2.5 121.4,-5.2 122.8,-8.3 125.6,-15.9 129.8,-30.1 136.9,-56.6 139.7,-65.8 141.1,-69.7 142.5,-72.9 143.9,-75.4 145.4,-77.2 146.8,-78.1 148.2,-78.2 149.6,-77.5 151,-75.9 152.4,-73.5 153.8,-70.3 155.2,-66.6 156.6,-62.2 159.5,-52.3 167.9,-20 170.8,-11 173.6,-3.5 176.4,2.2 179.2,6.3 182.1,9.1 184.9,10.8 187.7,11.8 191.9,12.5 215.9,14.1 220.2,14 223,13.4 225.8,12.3 227.2,11.5 230,9.1 231.4,7.5 232.9,5.7 235.7,1.2 239.9,-7.2 247,-22.9 249.8,-28.4 251.2,-30.6 252.6,-32.5 254,-34 255.4,-35 256.8,-35.5 258.3,-35.5 259.7,-35 261.1,-34 262.5,-32.5 265.3,-28.3 269.5,-19.7 276.6,-3.3 280.8,5.1 283.7,9.6 285.1,11.5 286.5,13.1 289.3,15.7 292.1,17.4 295,18.6 297.8,19.2 302,19.8 328.8,21.5 334.5,21.3 338.7,20.4L318.4,26 -20.3,3.7Z"/><path transform="translate(267.03,163.27)" d="M0,-1.2 2.8,-2.4 4.2,-3.5 5.6,-4.8 7.1,-6.5 8.5,-8.6 11.3,-14.2 14.1,-21.8 16.9,-31.2 19.8,-42.1 26.8,-71.8 29.6,-82.2 31,-86.5 32.5,-90.2 33.9,-93 35.3,-95 36.7,-96.1 38.1,-96.2 39.5,-95.4 40.9,-93.6 42.3,-91 43.7,-87.5 45.2,-83.3 46.6,-78.4 49.4,-67.3 57.9,-31 60.7,-20.8 63.5,-12.4 66.3,-6 69.2,-1.4 72,1.6 73.4,2.7 76.2,4.1 79,4.9 83.3,5.4 101.6,6.7 107.3,6.7 110.1,6.3 112.9,5.3 115.7,3.4 117.1,2 120,-1.9 121.4,-4.4 122.8,-7.4 125.6,-14.5 129.8,-27.9 136.9,-53 139.7,-61.7 141.1,-65.3 142.5,-68.4 143.9,-70.8 145.4,-72.4 146.8,-73.3 148.2,-73.4 149.6,-72.6 151,-71.1 152.4,-68.9 153.8,-65.9 155.2,-62.3 156.6,-58.2 159.5,-48.8 167.9,-18.3 170.8,-9.8 173.6,-2.7 176.4,2.7 179.2,6.6 182.1,9.2 184.9,10.9 187.7,11.8 191.9,12.5 215.9,14.1 220.2,14 223,13.5 225.8,12.4 227.2,11.7 230,9.4 231.4,8 232.9,6.2 235.7,2 239.9,-5.9 247,-20.7 249.8,-25.9 251.2,-28 252.6,-29.8 254,-31.2 255.4,-32.1 256.8,-32.6 258.3,-32.6 259.7,-32.1 261.1,-31.2 262.5,-29.8 265.3,-25.8 269.5,-17.6 276.6,-2.1 280.8,5.9 283.7,10.1 285.1,11.9 286.5,13.5 289.3,15.9 292.1,17.5 295,18.6 297.8,19.3 302,19.8 328.8,21.5 334.5,21.3 338.7,20.5L318.4,26 -20.3,3.7Z"/><path transform="translate(266.19,163.43)" d="M0,-1.1 2.8,-2.3 5.6,-4.5 8.5,-8 11.3,-13.3 14.1,-20.3 16.9,-29.1 19.8,-39.3 26.8,-67 29.6,-76.7 31,-80.8 32.5,-84.2 33.9,-86.8 35.3,-88.7 36.7,-89.7 38.1,-89.8 39.5,-89 40.9,-87.4 42.3,-84.9 43.7,-81.6 45.2,-77.7 46.6,-73.1 49.4,-62.7 57.9,-28.7 60.7,-19.2 63.5,-11.3 66.3,-5.3 69.2,-1 72,1.8 73.4,2.8 76.2,4.2 79,4.9 83.3,5.4 101.6,6.7 107.3,6.7 110.1,6.4 112.9,5.5 115.7,3.7 117.1,2.4 120,-1.3 121.4,-3.6 122.8,-6.4 125.6,-13 129.8,-25.6 136.9,-49 139.7,-57.1 141.1,-60.5 142.5,-63.3 143.9,-65.5 145.4,-67.1 146.8,-67.9 148.2,-68 149.6,-67.3 151,-65.8 152.4,-63.7 153.8,-61 155.2,-57.6 159.5,-45 167.9,-16.4 170.8,-8.4 173.6,-1.8 176.4,3.3 179.2,7 182.1,9.4 184.9,11 187.7,11.9 191.9,12.6 215.9,14.1 220.2,14 223,13.6 225.8,12.6 227.2,11.9 230,9.8 231.4,8.4 232.9,6.8 235.7,2.9 239.9,-4.5 247,-18.3 249.8,-23.1 251.2,-25.1 252.6,-26.8 254,-28.1 255.4,-28.9 256.8,-29.4 258.3,-29.4 259.7,-28.9 261.1,-28 262.5,-26.7 265.3,-23 269.5,-15.3 276.6,-0.8 280.8,6.7 283.7,10.7 285.1,12.4 286.5,13.8 289.3,16.1 292.1,17.6 295,18.7 297.8,19.3 302,19.8 328.8,21.5 334.5,21.4 338.7,20.6L318.4,26 -20.3,3.7Z"/><path transform="translate(265.34,163.58)" d="M0,-1 2.8,-2.1 5.6,-4.1 8.5,-7.4 11.3,-12.2 14.1,-18.7 16.9,-26.8 19.8,-36.3 26.8,-61.9 29.6,-70.8 31,-74.6 32.5,-77.7 33.9,-80.2 35.3,-81.9 36.7,-82.8 38.1,-82.9 39.5,-82.2 40.9,-80.6 42.3,-78.3 43.7,-75.3 45.2,-71.7 46.6,-67.4 49.4,-57.7 57.9,-26.3 60.7,-17.4 63.5,-10.2 66.3,-4.6 69.2,-0.6 72,2 73.4,3 76.2,4.2 79,4.9 83.3,5.4 101.6,6.7 107.3,6.8 110.1,6.5 112.9,5.6 115.7,4 117.1,2.8 120,-0.6 121.4,-2.8 122.8,-5.3 125.6,-11.5 129.8,-23 136.9,-44.6 139.7,-52.1 141.1,-55.3 142.5,-57.9 143.9,-59.9 145.4,-61.3 146.8,-62.1 148.2,-62.1 149.6,-61.5 151,-60.2 152.4,-58.2 155.2,-52.5 159.5,-40.8 167.9,-14.4 170.8,-6.9 173.6,-0.8 176.4,3.9 179.2,7.3 182.1,9.6 184.9,11.1 187.7,11.9 191.9,12.6 215.9,14.1 220.2,14.1 223,13.7 225.8,12.8 227.2,12.1 230,10.2 231.4,8.9 232.9,7.5 235.7,3.8 239.9,-3 247,-15.8 249.8,-20.2 251.2,-22 252.6,-23.5 254,-24.7 255.4,-25.5 256.8,-25.9 258.3,-25.9 259.7,-25.5 261.1,-24.6 262.5,-23.4 265.3,-19.9 269.5,-12.8 276.6,0.6 280.8,7.6 283.7,11.3 285.1,12.8 286.5,14.2 289.3,16.3 292.1,17.8 295,18.7 297.8,19.3 302,19.8 328.8,21.5 334.5,21.4 338.7,20.7L318.4,26 -20.3,3.7Z"/><path transform="translate(264.49,163.74)" d="M0,-0.9 2.8,-1.9 5.6,-3.7 8.5,-6.7 11.3,-11.1 14.1,-17 16.9,-24.5 19.8,-33.1 26.8,-56.5 29.6,-64.7 31,-68.1 32.5,-70.9 33.9,-73.2 35.3,-74.8 36.7,-75.6 38.1,-75.7 39.5,-75 40.9,-73.6 42.3,-71.5 43.7,-68.7 45.2,-65.3 46.6,-61.5 49.4,-52.6 57.9,-23.7 60.7,-15.6 63.5,-9 66.3,-3.8 69.2,-0.2 72,2.3 73.4,3.1 76.2,4.3 79,4.9 83.3,5.4 101.6,6.7 107.3,6.8 110.1,6.5 112.9,5.8 115.7,4.3 117.1,3.2 120,0.1 121.4,-1.8 122.8,-4.2 125.6,-9.8 129.8,-20.3 136.9,-40.1 139.7,-46.9 141.1,-49.8 142.5,-52.2 143.9,-54 145.4,-55.3 146.8,-56 148.2,-56 149.6,-55.5 151,-54.2 152.4,-52.4 155.2,-47.2 159.5,-36.5 167.9,-12.2 170.8,-5.4 173.6,0.2 176.4,4.6 179.2,7.7 182.1,9.8 184.9,11.2 187.7,11.9 191.9,12.6 215.9,14.1 220.2,14.1 223,13.7 225.8,13 227.2,12.3 230,10.6 231.4,9.5 232.9,8.1 235.7,4.8 239.9,-1.4 247,-13 249.8,-17.1 251.2,-18.7 252.6,-20.1 254,-21.2 255.4,-21.9 256.8,-22.3 258.3,-22.3 259.7,-21.9 261.1,-21.1 262.5,-20 265.3,-16.8 269.5,-10.2 276.6,2.1 280.8,8.5 283.7,11.9 285.1,13.3 286.5,14.6 289.3,16.5 292.1,17.9 295,18.8 297.8,19.3 302,19.8 328.8,21.6 334.5,21.5 338.7,20.9L318.4,26 -20.3,3.7Z"/><path transform="translate(263.64,163.89)" d="M0,-0.8 2.8,-1.7 5.6,-3.3 8.5,-6 11.3,-10 14.1,-15.3 16.9,-22 19.8,-29.8 26.8,-51 29.6,-58.3 31,-61.4 32.5,-64 33.9,-66 35.3,-67.4 36.7,-68.2 38.1,-68.3 39.5,-67.6 40.9,-66.3 42.3,-64.4 43.7,-61.9 45.2,-58.9 49.4,-47.3 57.9,-21.1 60.7,-13.8 63.5,-7.7 66.3,-3.1 69.2,0.3 72,2.5 73.4,3.3 76.2,4.4 79,5 83.3,5.5 101.6,6.7 107.3,6.8 110.1,6.6 112.9,5.9 115.7,4.6 117.1,3.6 120,0.9 121.4,-0.9 122.8,-3 125.6,-8.1 129.8,-17.6 136.9,-35.4 139.7,-41.6 141.1,-44.2 142.5,-46.3 143.9,-48 145.4,-49.2 146.8,-49.8 148.2,-49.8 149.6,-49.3 151,-48.1 152.4,-46.5 155.2,-41.8 159.5,-32 167.9,-10 170.8,-3.8 173.6,1.3 176.4,5.2 179.2,8.1 182.1,10 184.9,11.2 187.7,12 191.9,12.6 215.9,14.1 220.2,14.1 223,13.8 225.8,13.1 227.2,12.6 230,11 231.4,10 232.9,8.8 235.7,5.8 239.9,0.2 247,-10.3 249.8,-13.9 251.2,-15.4 254,-17.6 255.4,-18.3 256.8,-18.6 258.3,-18.5 259.7,-18.2 261.1,-17.5 262.5,-16.4 265.3,-13.5 269.5,-7.6 276.6,3.6 280.8,9.5 285.1,13.9 286.5,15 289.3,16.8 292.1,18 295,18.8 297.8,19.4 302,19.8 328.8,21.6 334.5,21.5 338.7,21L318.4,26 -20.3,3.7Z"/><path transform="translate(262.8,164.04)" d="M0,-0.8 2.8,-1.5 5.6,-2.9 8.5,-5.3 11.3,-8.9 14.1,-13.6 16.9,-19.6 19.8,-26.6 26.8,-45.4 29.6,-52 31,-54.7 32.5,-57.1 33.9,-58.9 35.3,-60.1 36.7,-60.8 38.1,-60.8 39.5,-60.2 40.9,-59.1 42.3,-57.3 45.2,-52.3 49.4,-42 57.9,-18.5 60.7,-11.9 63.5,-6.5 66.3,-2.3 69.2,0.7 72,2.7 73.4,3.5 76.2,4.4 79,5 83.3,5.5 101.6,6.7 107.3,6.8 110.1,6.7 112.9,6.1 115.7,4.9 117.1,4.1 120,1.6 121.4,0 122.8,-1.8 125.6,-6.4 129.8,-14.8 136.9,-30.7 139.7,-36.2 141.1,-38.6 142.5,-40.5 143.9,-42 145.4,-43 146.8,-43.5 148.2,-43.5 149.6,-43 151,-42 152.4,-40.5 155.2,-36.3 159.5,-27.5 167.9,-7.8 170.8,-2.2 173.6,2.4 176.4,5.9 179.2,8.5 182.1,10.2 184.9,11.3 187.7,12 191.9,12.6 215.9,14.2 220.2,14.2 223,13.9 227.2,12.8 230,11.5 231.4,10.6 232.9,9.5 235.7,6.9 239.9,1.9 247,-7.5 249.8,-10.7 251.2,-12 254,-14 255.4,-14.6 256.8,-14.8 258.3,-14.8 259.7,-14.5 261.1,-13.8 262.5,-12.9 265.3,-10.3 269.5,-4.9 276.6,5.2 280.8,10.4 285.1,14.4 289.3,17 292.1,18.1 295,18.9 302,19.8 328.8,21.6 334.5,21.6 338.7,21.1L318.4,26 -20.3,3.7Z"/><path transform="translate(261.95,164.2)" d="M0,-0.7 2.8,-1.3 5.6,-2.6 8.5,-4.7 11.3,-7.7 14.1,-11.9 16.9,-17.2 19.8,-23.3 26.8,-40 29.6,-45.7 31,-48.2 32.5,-50.2 33.9,-51.8 35.3,-52.9 36.7,-53.4 38.1,-53.5 39.5,-53 40.9,-51.9 42.3,-50.4 45.2,-45.9 49.4,-36.7 57.9,-15.9 60.7,-10 63.5,-5.2 66.3,-1.5 69.2,1.2 72,3 73.4,3.6 76.2,4.5 79,5 83.3,5.5 101.6,6.7 107.3,6.9 110.1,6.7 112.9,6.2 115.7,5.2 117.1,4.5 120,2.4 121.4,1 122.8,-0.7 125.6,-4.7 129.8,-12.1 136.9,-26.1 139.7,-31 141.1,-33 142.5,-34.7 143.9,-36 145.4,-36.9 146.8,-37.4 148.2,-37.4 149.6,-36.9 151,-36 152.4,-34.7 155.2,-30.9 159.5,-23.1 167.9,-5.6 170.8,-0.7 173.6,3.4 176.4,6.6 179.2,8.9 182.1,10.4 184.9,11.4 187.7,12.1 191.9,12.6 215.9,14.2 220.2,14.2 223,14 227.2,13.1 230,11.9 231.4,11.1 235.7,7.9 239.9,3.5 247,-4.7 251.2,-8.7 254,-10.4 255.4,-10.9 256.8,-11.2 258.3,-11.1 259.7,-10.8 261.1,-10.2 262.5,-9.4 265.3,-7.1 269.5,-2.3 276.6,6.7 280.8,11.3 285.1,14.9 289.3,17.2 292.1,18.3 295,19 302,19.8 328.8,21.6 334.5,21.6 338.7,21.3L318.4,26 -20.3,3.7Z"/><path transform="translate(261.1,164.35)" d="M0,-0.6 2.8,-1.1 5.6,-2.2 8.5,-4 11.3,-6.7 14.1,-10.3 16.9,-14.9 19.8,-20.2 26.8,-34.7 29.6,-39.7 31,-41.8 32.5,-43.6 33.9,-44.9 35.3,-45.9 36.7,-46.3 38.1,-46.4 39.5,-45.9 40.9,-45 42.3,-43.6 45.2,-39.7 49.4,-31.6 57.9,-13.4 60.7,-8.3 63.5,-4 66.3,-0.8 69.2,1.6 72,3.2 76.2,4.6 83.3,5.5 101.6,6.7 107.3,6.9 110.1,6.8 112.9,6.4 115.7,5.5 117.1,4.9 120,3.1 121.4,1.8 122.8,0.4 125.6,-3 129.8,-9.5 136.9,-21.7 139.7,-25.9 141.1,-27.6 142.5,-29.1 143.9,-30.2 145.4,-31 146.8,-31.4 148.2,-31.4 149.6,-31 151,-30.2 152.4,-29 155.2,-25.7 159.5,-18.9 167.9,-3.5 170.8,0.8 173.6,4.4 176.4,7.2 179.2,9.2 182.1,10.6 184.9,11.5 187.7,12.1 191.9,12.6 215.9,14.2 220.2,14.2 223,14.1 227.2,13.3 231.4,11.6 235.7,8.8 239.9,5.1 247,-2.1 251.2,-5.5 254,-7 255.4,-7.4 258.3,-7.5 261.1,-6.7 262.5,-6 265.3,-3.9 269.5,0.2 276.6,8.1 280.8,12.2 285.1,15.4 289.3,17.5 292.1,18.4 295,19 302,19.9 328.8,21.6 334.5,21.7 338.7,21.4L318.4,26 -20.3,3.7Z"/><path transform="translate(260.25,164.5)" d="M0,-0.5 2.8,-0.9 5.6,-1.8 8.5,-3.4 11.3,-5.6 14.1,-8.8 16.9,-12.7 19.8,-17.2 26.8,-29.6 29.6,-33.9 31,-35.7 32.5,-37.2 33.9,-38.4 35.3,-39.2 36.7,-39.6 38.1,-39.6 39.5,-39.2 40.9,-38.4 42.3,-37.2 45.2,-33.8 49.4,-26.8 57.9,-11 60.7,-6.6 63.5,-2.9 66.3,-0.1 69.2,2 72,3.4 76.2,4.6 83.3,5.5 107.3,6.9 110.1,6.9 112.9,6.5 115.7,5.8 117.1,5.3 120,3.7 121.4,2.7 122.8,1.5 125.6,-1.5 129.8,-7 136.9,-17.4 139.7,-21 141.1,-22.5 143.9,-24.8 145.4,-25.4 146.8,-25.7 148.2,-25.7 149.6,-25.3 151,-24.6 152.4,-23.6 155.2,-20.7 159.5,-14.8 167.9,-1.5 170.8,2.3 173.6,5.4 176.4,7.8 179.2,9.6 182.1,10.8 184.9,11.6 187.7,12.1 191.9,12.6 215.9,14.2 223,14.2 227.2,13.6 231.4,12.1 235.7,9.8 239.9,6.5 247,0.5 251.2,-2.5 254,-3.7 255.4,-4.1 258.3,-4.2 261.1,-3.4 262.5,-2.8 265.3,-1 269.5,2.7 276.6,9.5 280.8,13.1 285.1,15.8 289.3,17.7 292.1,18.5 295,19.1 302,19.9 328.8,21.6 334.5,21.7 338.7,21.5L318.4,26 -20.3,3.7Z"/><path transform="translate(259.41,164.66)" d="M0,-0.4 2.8,-0.8 5.6,-1.5 8.5,-2.8 11.3,-4.7 14.1,-7.3 16.9,-10.6 19.8,-14.5 26.8,-24.9 29.6,-28.6 31,-30.1 33.9,-32.3 35.3,-33 36.7,-33.3 38.1,-33.3 39.5,-32.9 40.9,-32.3 42.3,-31.2 45.2,-28.3 49.4,-22.3 57.9,-8.8 60.7,-5 63.5,-1.8 66.3,0.6 69.2,2.4 72,3.6 76.2,4.7 83.3,5.5 107.3,6.9 112.9,6.7 117.1,5.6 120,4.3 121.4,3.5 125.6,0 129.8,-4.7 136.9,-13.5 141.1,-17.8 143.9,-19.6 145.4,-20.2 146.8,-20.4 148.2,-20.4 149.6,-20.1 151,-19.5 152.4,-18.6 155.2,-16.1 159.5,-11 167.9,0.4 170.8,3.6 173.6,6.3 176.4,8.4 179.2,9.9 182.1,11 184.9,11.7 191.9,12.6 215.9,14.2 223,14.3 227.2,13.8 231.4,12.6 235.7,10.6 239.9,7.9 247,2.8 251.2,0.4 254,-0.7 255.4,-0.9 258.3,-1 261.1,-0.3 262.5,0.2 265.3,1.8 269.5,4.9 276.6,10.8 280.8,13.9 285.1,16.3 289.3,17.9 295,19.1 302,19.9 328.8,21.6 334.5,21.8 338.7,21.6L318.4,26 -20.3,3.7Z"/><path transform="translate(258.56,164.81)" d="M0,-0.4 2.8,-0.6 5.6,-1.2 8.5,-2.2 11.3,-3.8 14.1,-6 16.9,-8.7 19.8,-11.9 26.8,-20.6 31,-24.9 33.9,-26.7 35.3,-27.3 36.7,-27.5 38.1,-27.5 39.5,-27.2 40.9,-26.6 42.3,-25.7 45.2,-23.2 49.4,-18.2 57.9,-6.8 60.7,-3.5 63.5,-0.9 66.3,1.2 69.2,2.7 72,3.8 76.2,4.7 83.3,5.5 107.3,7 112.9,6.8 117.1,6 121.4,4.2 125.6,1.3 129.8,-2.5 136.9,-9.8 141.1,-13.4 143.9,-14.9 145.4,-15.3 146.8,-15.5 148.2,-15.5 151,-14.7 152.4,-13.9 155.2,-11.8 159.5,-7.5 167.9,2.1 170.8,4.9 173.6,7.1 176.4,8.9 179.2,10.2 182.1,11.2 184.9,11.8 191.9,12.6 215.9,14.2 223,14.3 227.2,14 231.4,13 235.7,11.4 239.9,9.2 247,5 251.2,3 254,2.2 255.4,1.9 258.3,1.9 261.1,2.5 265.3,4.3 269.5,7 276.6,12 280.8,14.7 285.1,16.7 289.3,18.1 295,19.2 302,19.9 328.8,21.6 338.7,21.8L318.4,26 -20.3,3.7Z"/><path transform="translate(257.71,164.97)" d="M0,-0.3 2.8,-0.5 5.6,-0.9 8.5,-1.7 11.3,-3 14.1,-4.8 16.9,-7 26.8,-16.7 31,-20.2 33.9,-21.7 35.3,-22.1 38.1,-22.3 40.9,-21.5 42.3,-20.7 45.2,-18.7 49.4,-14.4 57.9,-4.9 60.7,-2.2 63.5,0 66.3,1.8 69.2,3.1 72,4 76.2,4.8 83.3,5.5 107.3,7 112.9,6.9 117.1,6.3 121.4,4.9 125.6,2.5 129.8,-0.6 136.9,-6.5 141.1,-9.4 143.9,-10.6 145.4,-11 148.2,-11.1 151,-10.4 152.4,-9.8 155.2,-8 159.5,-4.4 167.9,3.7 170.8,6 173.6,7.9 176.4,9.4 179.2,10.5 182.1,11.3 184.9,11.8 191.9,12.6 215.9,14.2 223,14.4 227.2,14.1 231.4,13.4 235.7,12.1 239.9,10.4 247,7 251.2,5.4 255.4,4.5 258.3,4.6 261.1,5.1 265.3,6.6 269.5,8.9 276.6,13.1 280.8,15.3 285.1,17.1 289.3,18.3 295,19.2 302,19.9 328.8,21.6 338.7,21.8L318.4,26 -20.3,3.7Z"/><path transform="translate(256.86,165.12)" d="M0,-0.2 5.6,-0.7 8.5,-1.3 11.3,-2.3 14.1,-3.7 16.9,-5.5 26.8,-13.2 31,-16 33.9,-17.2 35.3,-17.5 38.1,-17.6 40.9,-16.9 42.3,-16.3 45.2,-14.6 49.4,-11.1 57.9,-3.3 60.7,-1.1 63.5,0.8 66.3,2.3 69.2,3.3 72,4.1 76.2,4.8 83.3,5.5 107.3,7 112.9,7 117.1,6.5 121.4,5.5 125.6,3.6 129.8,1.1 136.9,-3.6 141.1,-5.9 143.9,-6.9 145.4,-7.1 148.2,-7.2 151,-6.6 152.4,-6 155.2,-4.6 159.5,-1.6 167.9,5.1 170.8,7 173.6,8.5 176.4,9.8 179.2,10.7 184.9,11.9 191.9,12.6 215.9,14.2 223,14.4 227.2,14.3 231.4,13.8 235.7,12.8 247,8.7 251.2,7.5 255.4,6.9 258.3,6.9 261.1,7.3 265.3,8.7 280.8,15.9 285.1,17.4 289.3,18.4 295,19.3 302,19.9 328.8,21.6 338.7,21.9L318.4,26 -20.3,3.7Z"/><path transform="translate(256.02,165.27)" d="M0,-0.2 5.6,-0.5 8.5,-0.9 11.3,-1.7 14.1,-2.8 16.9,-4.1 26.8,-10.2 31,-12.3 33.9,-13.3 35.3,-13.5 38.1,-13.5 40.9,-13 45.2,-11 49.4,-8.2 57.9,-1.8 60.7,0 63.5,1.5 66.3,2.7 69.2,3.6 72,4.2 76.2,4.9 83.3,5.5 107.3,7 112.9,7.1 117.1,6.8 121.4,6 125.6,4.6 129.8,2.6 136.9,-1.1 141.1,-2.8 145.4,-3.8 148.2,-3.8 151,-3.2 155.2,-1.6 159.5,0.9 167.9,6.3 173.6,9.1 179.2,11 184.9,12 191.9,12.6 215.9,14.2 223,14.5 227.2,14.4 231.4,14.1 235.7,13.3 247,10.2 251.2,9.3 255.4,8.9 258.3,8.9 261.1,9.3 265.3,10.4 280.8,16.4 285.1,17.7 289.3,18.5 295,19.3 302,19.9 328.8,21.6 338.7,22L318.4,26 -20.3,3.7Z"/><path transform="translate(255.17,165.43)" d="M0,-0.1 5.6,-0.3 11.3,-1.2 16.9,-3 26.8,-7.6 31,-9.2 35.3,-10.1 38.1,-10.1 40.9,-9.6 45.2,-8 49.4,-5.7 57.9,-0.6 63.5,2.1 69.2,3.8 76.2,4.9 107.3,7 112.9,7.2 117.1,7 121.4,6.4 125.6,5.4 129.8,3.9 136.9,1.1 141.1,-0.2 145.4,-0.9 148.2,-0.8 151,-0.4 155.2,1 159.5,3 167.9,7.3 173.6,9.6 179.2,11.1 184.9,12 215.9,14.2 227.2,14.5 231.4,14.3 235.7,13.8 251.2,10.9 255.4,10.6 258.3,10.7 261.1,11 265.3,12 280.8,16.9 285.1,17.9 289.3,18.6 295,19.3 302,19.9 328.8,21.6 338.7,22.1L318.4,26 -20.3,3.7Z"/><path transform="translate(254.32,165.58)" d="M0,-0.1 5.6,-0.1 11.3,-0.7 16.9,-2 26.8,-5.4 31,-6.6 35.3,-7.2 38.1,-7.1 40.9,-6.7 45.2,-5.4 49.4,-3.6 57.9,0.4 63.5,2.6 69.2,4 76.2,4.9 107.3,7 112.9,7.2 117.1,7.2 121.4,6.8 125.6,6 136.9,3 141.1,2 145.4,1.6 148.2,1.6 151,2 155.2,3.1 167.9,8.2 173.6,10 179.2,11.3 184.9,12 215.9,14.2 227.2,14.6 235.7,14.2 251.2,12.2 255.4,12 258.3,12.2 261.1,12.5 265.3,13.2 280.8,17.3 289.3,18.7 302,19.9 338.7,22.1L318.4,26 -20.3,3.7Z"/><path transform="translate(253.47,165.73)" d="M0,-0.1 5.6,0 11.3,-0.4 16.9,-1.3 26.8,-3.6 31,-4.4 35.3,-4.8 38.1,-4.7 40.9,-4.4 45.2,-3.3 57.9,1.3 63.5,3 69.2,4.1 76.2,4.9 107.3,7 117.1,7.3 121.4,7.1 125.6,6.6 141.1,3.8 145.4,3.6 148.2,3.7 151,4 155.2,4.9 167.9,8.9 173.6,10.4 179.2,11.4 184.9,12.1 215.9,14.2 227.2,14.7 235.7,14.5 251.2,13.3 258.3,13.4 265.3,14.3 280.8,17.6 289.3,18.8 302,19.9 338.7,22.2L318.4,26 -20.3,3.7Z"/><path transform="translate(252.63,165.89)" d="M0,-0.1 5.6,0.1 11.3,-0.1 16.9,-0.6 31,-2.7 35.3,-2.9 38.1,-2.8 40.9,-2.5 45.2,-1.7 57.9,1.9 63.5,3.3 69.2,4.2 76.2,5 107.3,7 117.1,7.4 125.6,7 141.1,5.3 145.4,5.2 148.2,5.3 155.2,6.3 167.9,9.5 173.6,10.7 179.2,11.5 184.9,12.1 215.9,14.2 227.2,14.8 235.7,14.8 251.2,14.1 258.3,14.3 265.3,15.1 280.8,17.8 289.3,18.9 302,19.9 338.7,22.2L318.4,26 -20.3,3.7Z"/><path transform="translate(251.78,166.04)" d="M0,0 11.3,0.2 16.9,-0.1 31,-1.3 38.1,-1.3 45.2,-0.3 57.9,2.5 63.5,3.5 69.2,4.3 76.2,5 107.3,7 117.1,7.5 125.6,7.4 141.1,6.4 148.2,6.6 155.2,7.4 173.6,10.9 184.9,12.1 227.2,14.8 235.7,15 251.2,14.8 258.3,15.1 265.3,15.8 280.8,18 289.3,18.9 338.7,22.2L318.4,26 -20.3,3.7Z"/><path transform="translate(250.93,166.2)" d="M0,0 11.3,0.3 31,-0.3 38.1,-0.1 45.2,0.7 63.5,3.7 76.2,5 117.1,7.6 125.6,7.7 141.1,7.3 148.2,7.6 155.2,8.3 173.6,11.1 184.9,12.1 227.2,14.9 251.2,15.4 258.3,15.7 289.3,19 338.7,22.3L318.4,26 -20.3,3.7Z"/><path transform="translate(250.08,166.35)" d="M0,0 11.3,0.5 31,0.5 38.1,0.8 45.2,1.5 63.5,3.9 76.2,5 117.1,7.6 125.6,7.9 141.1,8 148.2,8.3 155.2,8.9 173.6,11.2 184.9,12.1 227.2,14.9 258.3,16.1 289.3,19 338.7,22.3L318.4,26 -20.3,3.7Z"/><path transform="translate(249.24,166.5)" d="M0,0 11.3,0.6 31,1 38.1,1.4 63.5,4 76.2,5 117.1,7.6 148.2,8.8 173.6,11.3 184.9,12.2 227.2,14.9 258.3,16.4 289.3,19 338.7,22.3L318.4,26 -20.3,3.7Z"/><path transform="translate(248.39,166.66)" d="M0,0 38.1,1.8 76.2,5 117.1,7.7 148.2,9.2 184.9,12.2 227.2,14.9 258.3,16.7 289.3,19 338.7,22.3L318.4,26 -20.3,3.7Z"/><path transform="translate(247.54,166.81)" d="M0,0 38.1,2.1 76.2,5 117.1,7.7 148.2,9.4 184.9,12.2 258.3,16.8 338.7,22.3L318.4,26 -20.3,3.7Z"/><path transform="translate(246.69,166.96)" d="M0,0 38.1,2.3 76.2,5 148.2,9.6 184.9,12.2 338.7,22.3L318.4,26 -20.3,3.7Z"/><path transform="translate(245.85,167.12)" d="M0,0 338.7,22.3L318.4,26 -20.3,3.7Z"/><path transform="translate(245,167.27)" d="M0,0 338.7,22.3L318.4,26 -20.3,3.7Z"/><path transform="translate(244.15,167.43)" d="M0,0 338.7,22.3L318.4,26 -20.3,3.7Z"/><path transform="translate(243.3,167.58)" d="M0,0 338.7,22.3L318.4,26 -20.3,3.7Z"/><path transform="translate(242.46,167.73)" d="M0,0 338.7,22.3L318.4,26 -20.3,3.7Z"/><path transform="translate(241.61,167.89)" d="M0,0 338.7,22.3L318.4,26 -20.3,3.7Z"/><path transform="translate(240.76,168.04)" d="M0,0 338.7,22.3L318.4,26 -20.3,3.7Z"/><path transform="translate(239.91,168.19)" d="M0,0 338.7,22.3L318.4,26 -20.3,3.7Z"/><path transform="translate(239.07,168.35)" d="M0,0 338.7,22.3L318.4,26 -20.3,3.7Z"/><path transform="translate(238.22,168.5)" d="M0,0 338.7,22.3L318.4,26 -20.3,3.7Z"/><path transform="translate(237.37,168.66)" d="M0,0 338.7,22.3L318.4,26 -20.3,3.7Z"/><path transform="translate(236.52,168.81)" d="M0,0 338.7,22.3L318.4,26 -20.3,3.7Z"/><path transform="translate(235.68,168.96)" d="M0,0 338.7,22.3L318.4,26 -20.3,3.7Z"/><path transform="translate(234.83,169.12)" d="M0,0 338.7,22.3L318.4,26 -20.3,3.7Z"/><path transform="translate(233.98,169.27)" d="M0,0 338.7,22.3L318.4,26 -20.3,3.7Z"/><path transform="translate(233.13,169.42)" d="M0,0 338.7,22.3L318.4,26 -20.3,3.7Z"/><path transform="translate(232.29,169.58)" d="M0,0 338.7,22.3L318.4,26 -20.3,3.7Z"/><path transform="translate(231.44,169.73)" d="M0,0 38.1,2.3 76.2,5 148.2,9.6 184.9,12.2 338.7,22.3L318.4,26 -20.3,3.7Z"/><path transform="translate(230.59,169.89)" d="M0,0 38.1,2.1 76.2,5 117.1,7.7 148.2,9.4 184.9,12.2 258.3,16.8 338.7,22.3L318.4,26 -20.3,3.7Z"/><path transform="translate(229.74,170.04)" d="M0,0 38.1,1.8 76.2,5 117.1,7.7 148.2,9.2 184.9,12.2 227.2,14.9 258.3,16.7 289.3,19 338.7,22.3L318.4,26 -20.3,3.7Z"/><path transform="translate(228.9,170.19)" d="M0,0 11.3,0.6 31,1 38.1,1.4 63.5,4 76.2,5 117.1,7.6 148.2,8.8 173.6,11.3 184.9,12.2 227.2,14.9 258.3,16.4 289.3,19 338.7,22.3L318.4,26 -20.3,3.7Z"/><path transform="translate(228.05,170.35)" d="M0,0 11.3,0.5 31,0.5 38.1,0.8 45.2,1.5 63.5,3.9 76.2,5 117.1,7.6 125.6,7.9 141.1,8 148.2,8.3 155.2,9 173.6,11.2 184.9,12.1 227.2,14.9 258.3,16.1 289.3,19 338.7,22.3L318.4,26 -20.3,3.7Z"/><path transform="translate(227.2,170.5)" d="M0,0 11.3,0.4 31,-0.2 38.1,0 45.2,0.7 63.5,3.8 76.2,5 117.1,7.6 125.6,7.7 141.1,7.4 148.2,7.6 155.2,8.3 173.6,11.1 184.9,12.1 227.2,14.9 251.2,15.4 258.3,15.7 289.3,19 338.7,22.3L318.4,26 -20.3,3.7Z"/><path transform="translate(226.35,170.65)" d="M0,0 11.3,0.2 16.9,-0.1 31,-1.2 38.1,-1.2 45.2,-0.2 63.5,3.6 69.2,4.3 76.2,5 107.3,7 117.1,7.5 125.6,7.4 141.1,6.5 148.2,6.7 155.2,7.5 173.6,10.9 184.9,12.1 227.2,14.8 235.7,15 251.2,14.9 258.3,15.2 265.3,15.9 280.8,18 289.3,18.9 338.7,22.2L318.4,26 -20.3,3.7Z"/><path transform="translate(225.51,170.81)" d="M0,-0.1 5.6,0.1 11.3,0 16.9,-0.6 31,-2.5 35.3,-2.7 38.1,-2.6 40.9,-2.3 45.2,-1.5 57.9,2 63.5,3.3 69.2,4.2 76.2,5 107.3,7 117.1,7.4 125.6,7.1 141.1,5.4 148.2,5.5 155.2,6.5 167.9,9.5 173.6,10.7 179.2,11.5 184.9,12.1 215.9,14.2 227.2,14.8 235.7,14.8 251.2,14.2 258.3,14.4 265.3,15.2 280.8,17.8 289.3,18.9 302,19.9 338.7,22.2L318.4,26 -20.3,3.7Z"/><path transform="translate(224.66,170.96)" d="M0,-0.1 5.6,0 11.3,-0.3 16.9,-1.1 26.8,-3.4 31,-4.2 35.3,-4.5 38.1,-4.4 40.9,-4.1 45.2,-3.1 57.9,1.4 63.5,3 69.2,4.1 76.2,5 107.3,7 117.1,7.3 121.4,7.1 125.6,6.7 141.1,4.1 145.4,3.8 148.2,3.9 151,4.3 155.2,5.1 167.9,9 173.6,10.4 179.2,11.4 184.9,12.1 215.9,14.2 227.2,14.7 235.7,14.6 251.2,13.4 258.3,13.5 265.3,14.4 280.8,17.6 289.3,18.8 302,19.9 338.7,22.2L318.4,26 -20.3,3.7Z"/><path transform="translate(223.81,171.12)" d="M0,-0.1 5.6,-0.1 11.3,-0.6 16.9,-1.9 26.8,-5.1 31,-6.2 35.3,-6.7 38.1,-6.6 40.9,-6.2 45.2,-5 57.9,0.6 63.5,2.6 69.2,4 76.2,4.9 107.3,7 112.9,7.2 117.1,7.2 121.4,6.8 125.6,6.2 136.9,3.3 141.1,2.4 145.4,2 148.2,2 151,2.4 155.2,3.5 167.9,8.3 173.6,10.1 179.2,11.3 184.9,12.1 215.9,14.2 227.2,14.7 235.7,14.3 251.2,12.4 255.4,12.3 258.3,12.4 265.3,13.5 280.8,17.3 289.3,18.8 302,19.9 338.7,22.1L318.4,26 -20.3,3.7Z"/><path transform="translate(222.96,171.27)" d="M0,-0.1 5.6,-0.3 11.3,-1.1 16.9,-2.8 26.8,-7.1 31,-8.6 35.3,-9.4 38.1,-9.3 40.9,-8.9 45.2,-7.4 49.4,-5.2 57.9,-0.4 63.5,2.2 69.2,3.8 76.2,4.9 107.3,7 112.9,7.2 117.1,7 121.4,6.5 125.6,5.5 136.9,1.6 141.1,0.3 145.4,-0.3 148.2,-0.2 151,0.2 155.2,1.5 159.5,3.4 167.9,7.5 173.6,9.7 179.2,11.2 184.9,12 215.9,14.2 227.2,14.6 231.4,14.4 235.7,13.9 251.2,11.2 255.4,10.9 258.3,11 261.1,11.4 265.3,12.3 280.8,17 285.1,17.9 289.3,18.7 302,19.9 328.8,21.6 338.7,22.1L318.4,26 -20.3,3.7Z"/><path transform="translate(222.12,171.42)" d="M0,-0.2 5.6,-0.4 8.5,-0.8 11.3,-1.5 14.1,-2.5 16.9,-3.8 26.8,-9.4 31,-11.4 33.9,-12.3 35.3,-12.5 38.1,-12.5 40.9,-12 45.2,-10.2 49.4,-7.5 57.9,-1.5 60.7,0.2 63.5,1.7 66.3,2.8 69.2,3.6 72,4.3 76.2,4.9 107.3,7 112.9,7.1 117.1,6.8 121.4,6.1 125.6,4.8 129.8,3 136.9,-0.4 141.1,-2.1 145.4,-2.9 148.2,-2.9 151,-2.4 155.2,-0.8 159.5,1.5 167.9,6.6 173.6,9.3 179.2,11 184.9,12 191.9,12.6 215.9,14.2 223,14.5 227.2,14.5 231.4,14.1 235.7,13.5 247,10.6 251.2,9.8 255.4,9.4 258.3,9.4 261.1,9.8 265.3,10.9 280.8,16.6 285.1,17.7 289.3,18.6 295,19.3 302,19.9 328.8,21.6 338.7,22L318.4,26 -20.3,3.7Z"/><path transform="translate(221.27,171.58)" d="M0,-0.2 5.6,-0.6 8.5,-1.2 11.3,-2.1 14.1,-3.4 16.9,-5 26.8,-12.2 31,-14.8 33.9,-15.8 35.3,-16.1 38.1,-16.2 40.9,-15.6 42.3,-15 45.2,-13.4 49.4,-10.1 57.9,-2.8 60.7,-0.7 63.5,1 66.3,2.4 69.2,3.4 72,4.1 76.2,4.8 83.3,5.5 107.3,7 112.9,7 117.1,6.6 121.4,5.6 125.6,3.9 129.8,1.6 136.9,-2.8 141.1,-4.9 143.9,-5.7 145.4,-6 148.2,-6 151,-5.4 155.2,-3.5 159.5,-0.8 167.9,5.5 170.8,7.3 173.6,8.7 176.4,9.9 179.2,10.8 184.9,11.9 191.9,12.6 215.9,14.2 223,14.5 227.2,14.3 231.4,13.9 235.7,13 247,9.2 251.2,8.1 255.4,7.5 258.3,7.6 261.1,8 265.3,9.3 280.8,16.1 285.1,17.5 289.3,18.4 295,19.3 302,19.9 328.8,21.6 338.7,22L318.4,26 -20.3,3.7Z"/><path transform="translate(220.42,171.73)" d="M0,-0.3 2.8,-0.4 5.6,-0.8 8.5,-1.6 11.3,-2.7 14.1,-4.3 16.9,-6.4 26.8,-15.3 31,-18.5 33.9,-19.9 35.3,-20.3 38.1,-20.4 40.9,-19.7 42.3,-19 45.2,-17.1 49.4,-13.1 57.9,-4.3 60.7,-1.8 63.5,0.3 66.3,2 69.2,3.2 72,4 76.2,4.8 83.3,5.5 107.3,7 112.9,6.9 117.1,6.4 121.4,5.1 125.6,3 129.8,0.1 136.9,-5.4 141.1,-8 143.9,-9.2 145.4,-9.5 148.2,-9.5 151,-8.9 152.4,-8.3 155.2,-6.6 159.5,-3.3 167.9,4.2 170.8,6.4 173.6,8.1 176.4,9.5 179.2,10.6 184.9,11.9 191.9,12.6 215.9,14.2 223,14.4 227.2,14.2 231.4,13.5 235.7,12.4 239.9,10.8 247,7.7 251.2,6.2 255.4,5.5 258.3,5.5 261.1,6 265.3,7.4 269.5,9.5 276.6,13.5 280.8,15.6 285.1,17.2 289.3,18.3 295,19.2 302,19.9 328.8,21.6 338.7,21.9L318.4,26 -20.3,3.7Z"/><path transform="translate(219.57,171.88)" d="M0,-0.3 2.8,-0.6 5.6,-1.1 8.5,-2 11.3,-3.4 14.1,-5.4 16.9,-7.9 19.8,-10.9 26.8,-18.8 31,-22.7 33.9,-24.4 35.3,-24.9 36.7,-25.1 38.1,-25.1 39.5,-24.8 40.9,-24.3 42.3,-23.4 45.2,-21.2 49.4,-16.5 57.9,-5.9 60.7,-2.9 63.5,-0.5 66.3,1.5 69.2,2.9 72,3.9 76.2,4.8 83.3,5.5 107.3,7 112.9,6.8 117.1,6.1 121.4,4.5 125.6,1.9 129.8,-1.7 136.9,-8.3 141.1,-11.6 143.9,-13 145.4,-13.4 148.2,-13.5 151,-12.7 152.4,-12 155.2,-10.1 159.5,-6.1 167.9,2.8 170.8,5.4 173.6,7.5 176.4,9.1 179.2,10.4 182.1,11.2 184.9,11.8 191.9,12.6 215.9,14.2 223,14.3 227.2,14 231.4,13.2 235.7,11.7 239.9,9.7 247,5.9 251.2,4.1 255.4,3.1 258.3,3.1 261.1,3.7 265.3,5.4 269.5,7.9 276.6,12.5 280.8,15 285.1,16.9 289.3,18.2 295,19.2 302,19.9 328.8,21.6 338.7,21.8L318.4,26 -20.3,3.7Z"/><path transform="translate(218.73,172.04)" d="M0,-0.4 2.8,-0.7 5.6,-1.3 8.5,-2.5 11.3,-4.2 14.1,-6.6 16.9,-9.6 19.8,-13.1 26.8,-22.7 29.6,-26 31,-27.3 33.9,-29.4 35.3,-30 36.7,-30.3 38.1,-30.3 39.5,-29.9 40.9,-29.3 42.3,-28.3 45.2,-25.7 49.4,-20.1 57.9,-7.7 60.7,-4.2 63.5,-1.3 66.3,0.9 69.2,2.6 72,3.7 76.2,4.7 83.3,5.5 107.3,7 112.9,6.7 117.1,5.8 121.4,3.9 125.6,0.7 129.8,-3.6 136.9,-11.6 141.1,-15.5 143.9,-17.1 145.4,-17.6 146.8,-17.9 148.2,-17.8 149.6,-17.5 151,-17 152.4,-16.1 155.2,-13.9 159.5,-9.2 167.9,1.3 170.8,4.3 173.6,6.7 176.4,8.7 179.2,10.1 182.1,11.1 184.9,11.7 191.9,12.6 215.9,14.2 223,14.3 227.2,13.9 231.4,12.8 235.7,11 239.9,8.6 247,4 251.2,1.8 254,0.8 255.4,0.6 258.3,0.5 261.1,1.1 265.3,3.1 269.5,6 276.6,11.5 280.8,14.3 285.1,16.5 289.3,18 295,19.1 302,19.9 328.8,21.6 334.5,21.8 338.7,21.7L318.4,26 -20.3,3.7Z"/><path transform="translate(217.88,172.19)" d="M0,-0.5 2.8,-0.8 5.6,-1.6 8.5,-3 11.3,-5.1 14.1,-7.9 16.9,-11.4 19.8,-15.6 26.8,-26.8 29.6,-30.7 31,-32.3 33.9,-34.7 35.3,-35.5 36.7,-35.8 38.1,-35.8 39.5,-35.4 40.9,-34.7 42.3,-33.6 45.2,-30.5 49.4,-24.1 57.9,-9.7 60.7,-5.6 63.5,-2.3 66.3,0.3 69.2,2.2 72,3.5 76.2,4.7 83.3,5.5 107.3,6.9 112.9,6.6 117.1,5.5 120,4.1 121.4,3.2 125.6,-0.6 129.8,-5.6 136.9,-15 139.7,-18.3 141.1,-19.7 143.9,-21.7 145.4,-22.2 146.8,-22.5 148.2,-22.5 149.6,-22.2 151,-21.5 152.4,-20.6 155.2,-17.9 159.5,-12.5 167.9,-0.3 170.8,3.1 173.6,5.9 176.4,8.2 179.2,9.8 182.1,10.9 184.9,11.7 191.9,12.6 215.9,14.2 223,14.2 227.2,13.7 231.4,12.4 235.7,10.3 239.9,7.4 247,1.9 251.2,-0.8 254,-1.9 255.4,-2.2 258.3,-2.2 261.1,-1.6 262.5,-1 265.3,0.7 269.5,4 276.6,10.3 280.8,13.6 285.1,16.1 289.3,17.8 295,19.1 302,19.9 328.8,21.6 334.5,21.8 338.7,21.6L318.4,26 -20.3,3.7Z"/><path transform="translate(217.03,172.34)" d="M0,-0.5 2.8,-1 5.6,-1.9 8.5,-3.6 11.3,-6 14.1,-9.2 16.9,-13.3 19.8,-18.1 26.8,-31.2 29.6,-35.7 31,-37.6 32.5,-39.2 33.9,-40.4 35.3,-41.3 36.7,-41.7 38.1,-41.7 39.5,-41.3 40.9,-40.4 42.3,-39.2 45.2,-35.6 49.4,-28.3 57.9,-11.8 60.7,-7.1 63.5,-3.3 66.3,-0.3 69.2,1.9 72,3.3 76.2,4.6 83.3,5.5 107.3,6.9 110.1,6.8 112.9,6.5 115.7,5.7 117.1,5.2 120,3.5 121.4,2.4 122.8,1.2 125.6,-1.9 129.8,-7.8 136.9,-18.7 139.7,-22.5 141.1,-24.1 143.9,-26.4 145.4,-27.1 146.8,-27.5 148.2,-27.4 149.6,-27.1 151,-26.3 152.4,-25.3 155.2,-22.3 159.5,-16 167.9,-2.1 170.8,1.8 173.6,5.1 176.4,7.6 179.2,9.5 182.1,10.8 184.9,11.6 187.7,12.1 191.9,12.6 215.9,14.2 223,14.1 227.2,13.5 231.4,12 235.7,9.5 239.9,6.1 247,-0.3 251.2,-3.4 254,-4.7 255.4,-5.1 258.3,-5.2 261.1,-4.5 262.5,-3.8 265.3,-1.9 269.5,1.9 276.6,9.1 280.8,12.8 285.1,15.7 289.3,17.6 292.1,18.5 295,19.1 302,19.9 328.8,21.6 334.5,21.7 338.7,21.5L318.4,26 -20.3,3.7Z"/><path transform="translate(216.18,172.5)" d="M0,-0.6 2.8,-1.2 5.6,-2.3 8.5,-4.1 11.3,-6.9 14.1,-10.6 16.9,-15.3 19.8,-20.8 26.8,-35.7 29.6,-40.9 31,-43.1 32.5,-44.9 33.9,-46.3 35.3,-47.3 36.7,-47.8 38.1,-47.8 39.5,-47.4 40.9,-46.4 42.3,-45 45.2,-41 49.4,-32.7 57.9,-13.9 60.7,-8.6 63.5,-4.3 66.3,-0.9 69.2,1.5 72,3.2 76.2,4.5 79,5 83.3,5.5 101.6,6.7 107.3,6.9 110.1,6.8 112.9,6.4 115.7,5.5 117.1,4.8 120,2.9 121.4,1.7 122.8,0.2 125.6,-3.4 129.8,-10 136.9,-22.6 139.7,-26.9 141.1,-28.7 142.5,-30.3 143.9,-31.4 145.4,-32.2 146.8,-32.6 148.2,-32.6 149.6,-32.2 151,-31.4 152.4,-30.2 155.2,-26.8 159.5,-19.7 167.9,-3.9 170.8,0.5 173.6,4.2 176.4,7.1 179.2,9.2 182.1,10.6 184.9,11.5 187.7,12.1 191.9,12.6 215.9,14.2 220.2,14.2 223,14.1 227.2,13.3 231.4,11.5 235.7,8.6 239.9,4.7 247,-2.6 251.2,-6.2 254,-7.7 255.4,-8.1 256.8,-8.3 258.3,-8.3 261.1,-7.5 262.5,-6.7 265.3,-4.6 269.5,-0.3 276.6,7.8 280.8,12.1 285.1,15.3 289.3,17.4 292.1,18.4 295,19 302,19.9 328.8,21.6 334.5,21.7 338.7,21.4L318.4,26 -20.3,3.7Z"/><path transform="translate(215.34,172.65)" d="M0,-0.7 2.8,-1.3 5.6,-2.6 8.5,-4.7 11.3,-7.8 14.1,-12.1 16.9,-17.4 19.8,-23.6 26.8,-40.4 29.6,-46.3 31,-48.7 32.5,-50.8 33.9,-52.4 35.3,-53.5 36.7,-54.1 38.1,-54.1 39.5,-53.6 40.9,-52.5 42.3,-51 45.2,-46.5 49.4,-37.2 57.9,-16.1 60.7,-10.2 63.5,-5.3 66.3,-1.6 69.2,1.1 72,3 73.4,3.6 76.2,4.5 79,5 83.3,5.5 101.6,6.7 107.3,6.9 110.1,6.7 112.9,6.2 115.7,5.2 117.1,4.4 120,2.3 121.4,0.9 122.8,-0.8 125.6,-4.8 129.8,-12.4 136.9,-26.5 139.7,-31.4 141.1,-33.5 142.5,-35.2 143.9,-36.5 145.4,-37.4 146.8,-37.9 148.2,-37.9 149.6,-37.4 151,-36.5 152.4,-35.2 155.2,-31.4 159.5,-23.5 167.9,-5.8 170.8,-0.8 173.6,3.3 176.4,6.5 179.2,8.8 182.1,10.4 184.9,11.4 187.7,12.1 191.9,12.6 215.9,14.2 220.2,14.2 223,14 227.2,13.1 230,11.9 231.4,11.1 235.7,7.8 239.9,3.4 247,-5 251.2,-9 254,-10.7 255.4,-11.2 256.8,-11.5 258.3,-11.4 259.7,-11.1 261.1,-10.5 262.5,-9.7 265.3,-7.3 269.5,-2.5 276.6,6.5 280.8,11.3 285.1,14.8 289.3,17.2 292.1,18.3 295,19 302,19.8 328.8,21.6 334.5,21.6 338.7,21.3L318.4,26 -20.3,3.7Z"/><path transform="translate(214.49,172.81)" d="M0,-0.7 2.8,-1.5 5.6,-2.9 8.5,-5.3 11.3,-8.8 14.1,-13.5 16.9,-19.5 19.8,-26.4 26.8,-45.1 29.6,-51.6 31,-54.4 32.5,-56.7 33.9,-58.5 35.3,-59.7 36.7,-60.4 38.1,-60.4 39.5,-59.8 40.9,-58.7 42.3,-57 45.2,-52 49.4,-41.7 57.9,-18.3 60.7,-11.8 63.5,-6.4 66.3,-2.2 69.2,0.7 72,2.8 73.4,3.5 76.2,4.4 79,5 83.3,5.5 101.6,6.7 107.3,6.8 110.1,6.7 112.9,6.1 115.7,4.9 117.1,4.1 120,1.7 121.4,0.1 122.8,-1.8 125.6,-6.3 129.8,-14.7 136.9,-30.5 139.7,-36 141.1,-38.2 142.5,-40.2 143.9,-41.6 145.4,-42.7 146.8,-43.2 148.2,-43.2 149.6,-42.7 151,-41.7 152.4,-40.2 155.2,-36 159.5,-27.3 167.9,-7.7 170.8,-2.1 173.6,2.4 176.4,5.9 179.2,8.5 182.1,10.2 184.9,11.4 187.7,12 191.9,12.6 215.9,14.2 220.2,14.2 223,13.9 227.2,12.9 230,11.5 231.4,10.6 232.9,9.5 235.7,6.9 239.9,2 247,-7.3 249.8,-10.5 251.2,-11.9 254,-13.8 255.4,-14.4 256.8,-14.6 258.3,-14.6 259.7,-14.3 261.1,-13.6 262.5,-12.7 265.3,-10.1 269.5,-4.8 276.6,5.2 280.8,10.5 285.1,14.4 289.3,17 292.1,18.2 295,18.9 302,19.8 328.8,21.6 334.5,21.6 338.7,21.1L318.4,26 -20.3,3.7Z"/><path transform="translate(213.64,172.96)" d="M0,-0.8 2.8,-1.7 5.6,-3.3 8.5,-5.9 11.3,-9.7 14.1,-15 16.9,-21.5 19.8,-29.1 26.8,-49.8 29.6,-56.9 31,-60 32.5,-62.5 33.9,-64.5 35.3,-65.8 36.7,-66.5 38.1,-66.6 39.5,-66 40.9,-64.7 42.3,-62.9 45.2,-57.4 49.4,-46.1 57.9,-20.5 60.7,-13.3 63.5,-7.4 66.3,-2.9 69.2,0.4 72,2.6 73.4,3.3 76.2,4.4 79,5 83.3,5.5 101.6,6.7 107.3,6.8 110.1,6.6 112.9,6 115.7,4.7 117.1,3.7 120,1 121.4,-0.7 122.8,-2.7 125.6,-7.7 129.8,-17 136.9,-34.4 139.7,-40.4 141.1,-42.9 142.5,-45 143.9,-46.7 145.4,-47.8 146.8,-48.4 148.2,-48.4 149.6,-47.9 151,-46.8 152.4,-45.2 155.2,-40.6 159.5,-31 167.9,-9.5 170.8,-3.5 173.6,1.5 176.4,5.4 179.2,8.2 182.1,10.1 184.9,11.3 187.7,12 191.9,12.6 215.9,14.1 220.2,14.1 223,13.8 225.8,13.2 227.2,12.6 230,11.1 231.4,10.1 232.9,9 235.7,6.1 239.9,0.6 247,-9.6 249.8,-13.2 251.2,-14.7 254,-16.8 255.4,-17.4 256.8,-17.7 258.3,-17.7 259.7,-17.3 261.1,-16.7 262.5,-15.6 265.3,-12.8 269.5,-7 276.6,4 280.8,9.7 285.1,14 286.5,15.1 289.3,16.8 292.1,18 295,18.8 297.8,19.4 302,19.8 328.8,21.6 334.5,21.5 338.7,21L318.4,26 -20.3,3.7Z"/><path transform="translate(212.79,173.11)" d="M0,-0.9 2.8,-1.8 5.6,-3.6 8.5,-6.4 11.3,-10.6 14.1,-16.3 16.9,-23.5 19.8,-31.7 26.8,-54.2 29.6,-62 31,-65.3 32.5,-68.1 33.9,-70.2 35.3,-71.7 36.7,-72.5 38.1,-72.6 39.5,-71.9 40.9,-70.6 42.3,-68.5 43.7,-65.9 45.2,-62.6 46.6,-58.9 49.4,-50.4 57.9,-22.6 60.7,-14.8 63.5,-8.4 66.3,-3.5 69.2,0 72,2.4 73.4,3.2 76.2,4.3 79,5 83.3,5.5 101.6,6.7 107.3,6.8 110.1,6.5 112.9,5.8 115.7,4.4 117.1,3.4 120,0.5 121.4,-1.5 122.8,-3.7 125.6,-9.1 129.8,-19.2 136.9,-38.1 139.7,-44.7 141.1,-47.5 142.5,-49.8 143.9,-51.5 145.4,-52.8 146.8,-53.4 148.2,-53.5 149.6,-52.9 151,-51.7 152.4,-50 155.2,-45 159.5,-34.6 167.9,-11.3 170.8,-4.7 173.6,0.7 176.4,4.8 179.2,7.9 182.1,9.9 184.9,11.2 187.7,12 191.9,12.6 215.9,14.1 220.2,14.1 223,13.8 225.8,13 227.2,12.4 230,10.8 231.4,9.7 232.9,8.4 235.7,5.3 239.9,-0.7 247,-11.9 249.8,-15.7 251.2,-17.4 254,-19.7 255.4,-20.4 256.8,-20.7 258.3,-20.7 259.7,-20.3 261.1,-19.6 262.5,-18.5 265.3,-15.4 269.5,-9.1 276.6,2.7 280.8,8.9 283.7,12.2 285.1,13.6 286.5,14.8 289.3,16.6 292.1,17.9 295,18.8 297.8,19.3 302,19.8 328.8,21.6 334.5,21.5 338.7,20.9L318.4,26 -20.3,3.7Z"/><path transform="translate(211.95,173.27)" d="M0,-1 2.8,-2 5.6,-3.9 8.5,-7 11.3,-11.5 14.1,-17.6 16.9,-25.3 19.8,-34.2 26.8,-58.4 29.6,-66.8 31,-70.4 32.5,-73.3 33.9,-75.7 35.3,-77.3 36.7,-78.1 38.1,-78.2 39.5,-77.5 40.9,-76.1 42.3,-73.9 43.7,-71 45.2,-67.6 46.6,-63.6 49.4,-54.4 57.9,-24.6 60.7,-16.3 63.5,-9.4 66.3,-4.1 69.2,-0.3 72,2.2 73.4,3.1 76.2,4.3 79,4.9 83.3,5.4 101.6,6.7 107.3,6.8 110.1,6.5 112.9,5.7 115.7,4.2 117.1,3 120,-0.1 121.4,-2.2 122.8,-4.6 125.6,-10.4 129.8,-21.3 136.9,-41.7 139.7,-48.7 141.1,-51.7 142.5,-54.2 143.9,-56.1 145.4,-57.5 146.8,-58.1 148.2,-58.2 149.6,-57.6 151,-56.3 152.4,-54.5 155.2,-49.1 159.5,-38 167.9,-13 170.8,-5.9 173.6,-0.1 176.4,4.3 179.2,7.6 182.1,9.7 184.9,11.1 187.7,11.9 191.9,12.6 215.9,14.1 220.2,14.1 223,13.7 225.8,12.9 227.2,12.3 230,10.5 231.4,9.3 232.9,7.9 235.7,4.5 239.9,-2 247,-14 249.8,-18.2 251.2,-19.9 252.6,-21.3 254,-22.4 255.4,-23.2 256.8,-23.6 258.3,-23.5 259.7,-23.1 261.1,-22.3 262.5,-21.2 265.3,-17.9 269.5,-11.2 276.6,1.6 280.8,8.2 283.7,11.7 285.1,13.2 286.5,14.4 289.3,16.5 292.1,17.8 295,18.8 297.8,19.3 302,19.8 328.8,21.6 334.5,21.5 338.7,20.8L318.4,26 -20.3,3.7Z"/><path transform="translate(211.1,173.42)" d="M0,-1 2.8,-2.1 5.6,-4.1 8.5,-7.4 11.3,-12.3 14.1,-18.8 16.9,-27 19.8,-36.5 26.8,-62.2 29.6,-71.2 31,-75 32.5,-78.1 33.9,-80.6 35.3,-82.3 36.7,-83.3 38.1,-83.4 39.5,-82.6 40.9,-81.1 42.3,-78.8 43.7,-75.7 45.2,-72 46.6,-67.8 49.4,-58.1 57.9,-26.4 60.7,-17.5 63.5,-10.3 66.3,-4.7 69.2,-0.6 72,2 73.4,3 76.2,4.2 79,4.9 83.3,5.4 101.6,6.7 107.3,6.8 110.1,6.4 112.9,5.6 115.7,4 117.1,2.7 120,-0.6 121.4,-2.8 122.8,-5.4 125.6,-11.6 129.8,-23.2 136.9,-44.9 139.7,-52.4 141.1,-55.6 142.5,-58.2 143.9,-60.3 145.4,-61.7 146.8,-62.5 148.2,-62.5 149.6,-61.9 151,-60.5 152.4,-58.6 155.2,-52.9 159.5,-41.1 167.9,-14.5 170.8,-7 173.6,-0.9 176.4,3.9 179.2,7.3 182.1,9.6 184.9,11.1 187.7,11.9 191.9,12.6 215.9,14.1 220.2,14.1 223,13.6 225.8,12.8 227.2,12.1 230,10.2 231.4,8.9 232.9,7.4 235.7,3.8 239.9,-3.1 247,-15.9 249.8,-20.4 251.2,-22.2 252.6,-23.7 254,-24.9 255.4,-25.7 256.8,-26.1 258.3,-26.1 259.7,-25.7 261.1,-24.9 262.5,-23.6 265.3,-20.1 269.5,-13 276.6,0.5 280.8,7.5 283.7,11.3 285.1,12.8 286.5,14.2 289.3,16.3 292.1,17.8 295,18.7 297.8,19.3 302,19.8 328.8,21.5 334.5,21.4 338.7,20.7L318.4,26 -20.3,3.7Z"/><path transform="translate(210.25,173.58)" d="M0,-1.1 2.8,-2.2 5.6,-4.4 8.5,-7.9 11.3,-13 14.1,-19.9 16.9,-28.5 19.8,-38.5 26.8,-65.6 29.6,-75.1 31,-79 32.5,-82.4 33.9,-85 35.3,-86.8 36.7,-87.8 38.1,-87.9 39.5,-87.1 40.9,-85.5 42.3,-83.1 43.7,-79.9 45.2,-76 46.6,-71.5 49.4,-61.3 57.9,-28 60.7,-18.7 63.5,-11 66.3,-5.1 69.2,-0.9 72,1.9 73.4,2.9 76.2,4.2 79,4.9 83.3,5.4 101.6,6.7 107.3,6.8 110.1,6.4 112.9,5.5 115.7,3.8 117.1,2.5 120,-1.1 121.4,-3.4 122.8,-6.1 125.6,-12.6 129.8,-24.9 136.9,-47.7 139.7,-55.7 141.1,-59 142.5,-61.8 143.9,-64 145.4,-65.5 146.8,-66.3 148.2,-66.3 149.6,-65.7 151,-64.3 152.4,-62.2 153.8,-59.5 155.2,-56.2 159.5,-43.8 167.9,-15.8 170.8,-8 173.6,-1.5 176.4,3.5 179.2,7.1 182.1,9.5 184.9,11 187.7,11.9 191.9,12.6 215.9,14.1 220.2,14 223,13.6 225.8,12.7 227.2,11.9 230,9.9 231.4,8.6 232.9,7 235.7,3.2 239.9,-4.1 247,-17.6 249.8,-22.3 251.2,-24.3 252.6,-25.9 254,-27.1 255.4,-28 256.8,-28.4 258.3,-28.4 259.7,-27.9 261.1,-27.1 262.5,-25.8 265.3,-22.1 269.5,-14.6 276.6,-0.4 280.8,6.9 283.7,10.9 285.1,12.5 286.5,13.9 289.3,16.1 292.1,17.7 295,18.7 297.8,19.3 302,19.8 328.8,21.5 334.5,21.4 338.7,20.6L318.4,26 -20.3,3.7Z"/><path transform="translate(209.4,173.73)" d="M0,-1.1 2.8,-2.3 5.6,-4.6 8.5,-8.2 11.3,-13.5 14.1,-20.7 16.9,-29.7 19.8,-40.2 26.8,-68.5 29.6,-78.3 31,-82.5 32.5,-85.9 33.9,-88.7 35.3,-90.6 36.7,-91.6 38.1,-91.7 39.5,-90.9 40.9,-89.2 42.3,-86.7 43.7,-83.4 45.2,-79.3 46.6,-74.7 49.4,-64 57.9,-29.4 60.7,-19.6 63.5,-11.7 66.3,-5.5 69.2,-1.1 72,1.8 73.4,2.8 76.2,4.1 79,4.9 83.3,5.4 101.6,6.7 107.3,6.7 110.1,6.4 112.9,5.4 115.7,3.6 117.1,2.3 120,-1.4 121.4,-3.9 122.8,-6.7 125.6,-13.5 129.8,-26.3 136.9,-50.1 139.7,-58.4 141.1,-61.9 142.5,-64.8 143.9,-67.1 145.4,-68.6 146.8,-69.5 148.2,-69.5 149.6,-68.8 151,-67.4 152.4,-65.2 153.8,-62.4 155.2,-59 159.5,-46.1 167.9,-17 170.8,-8.8 173.6,-2.1 176.4,3.1 179.2,6.9 182.1,9.4 184.9,10.9 187.7,11.9 191.9,12.6 215.9,14.1 220.2,14 223,13.5 225.8,12.6 227.2,11.8 230,9.7 231.4,8.3 232.9,6.6 235.7,2.6 239.9,-4.9 247,-19 249.8,-23.9 251.2,-26 252.6,-27.7 254,-29 255.4,-29.9 256.8,-30.3 258.3,-30.3 259.7,-29.8 261.1,-28.9 262.5,-27.6 265.3,-23.8 269.5,-16 276.6,-1.2 280.8,6.5 283.7,10.5 285.1,12.2 286.5,13.7 289.3,16 292.1,17.6 295,18.6 297.8,19.3 302,19.8 328.8,21.5 334.5,21.4 338.7,20.6L318.4,26 -20.3,3.7Z"/><path transform="translate(208.56,173.88)" d="M0,-1.2 2.8,-2.4 4.2,-3.4 5.6,-4.7 7.1,-6.4 8.5,-8.5 11.3,-14 14.1,-21.4 16.9,-30.7 19.8,-41.5 26.8,-70.7 29.6,-80.9 31,-85.1 32.5,-88.7 33.9,-91.5 35.3,-93.5 36.7,-94.6 38.1,-94.7 39.5,-93.9 40.9,-92.1 42.3,-89.5 43.7,-86.1 45.2,-82 46.6,-77.2 49.4,-66.2 57.9,-30.4 60.7,-20.4 63.5,-12.2 66.3,-5.8 69.2,-1.3 72,1.7 73.4,2.7 76.2,4.1 79,4.9 83.3,5.4 101.6,6.7 107.3,6.7 110.1,6.3 112.9,5.4 115.7,3.5 117.1,2.1 120,-1.7 121.4,-4.2 122.8,-7.1 125.6,-14.2 129.8,-27.4 136.9,-52 139.7,-60.6 141.1,-64.2 142.5,-67.2 143.9,-69.5 145.4,-71.1 146.8,-72 148.2,-72.1 149.6,-71.3 151,-69.9 152.4,-67.6 153.8,-64.7 155.2,-61.2 156.6,-57.2 159.5,-47.9 167.9,-17.9 170.8,-9.4 173.6,-2.5 176.4,2.9 179.2,6.7 182.1,9.3 184.9,10.9 187.7,11.8 191.9,12.5 215.9,14.1 220.2,14 223,13.5 225.8,12.5 227.2,11.7 230,9.5 231.4,8.1 232.9,6.4 235.7,2.2 239.9,-5.6 247,-20.2 249.8,-25.2 251.2,-27.3 252.6,-29.1 254,-30.4 255.4,-31.4 256.8,-31.8 258.3,-31.8 259.7,-31.3 261.1,-30.4 262.5,-29 265.3,-25.1 269.5,-17.1 276.6,-1.8 280.8,6.1 283.7,10.3 285.1,12 286.5,13.5 289.3,15.9 292.1,17.6 295,18.6 297.8,19.3 302,19.8 328.8,21.5 334.5,21.3 338.7,20.5L318.4,26 -20.3,3.7Z"/><path transform="translate(207.71,174.04)" d="M0,-1.2 2.8,-2.5 4.2,-3.5 5.6,-4.8 7.1,-6.6 8.5,-8.7 11.3,-14.3 14.1,-21.9 16.9,-31.4 19.8,-42.4 26.8,-72.3 29.6,-82.7 31,-87 32.5,-90.7 33.9,-93.6 35.3,-95.6 36.7,-96.7 38.1,-96.8 39.5,-96 40.9,-94.2 42.3,-91.5 43.7,-88 45.2,-83.8 46.6,-78.9 49.4,-67.7 57.9,-31.2 60.7,-20.9 63.5,-12.5 66.3,-6.1 69.2,-1.5 72,1.6 73.4,2.7 76.2,4.1 79,4.9 83.3,5.4 101.6,6.7 107.3,6.7 110.1,6.3 112.9,5.3 115.7,3.4 117.1,2 120,-1.9 121.4,-4.5 122.8,-7.5 125.6,-14.7 129.8,-28.1 136.9,-53.3 139.7,-62.1 141.1,-65.8 142.5,-68.8 143.9,-71.2 145.4,-72.9 146.8,-73.8 148.2,-73.8 149.6,-73.1 151,-71.6 152.4,-69.3 153.8,-66.3 155.2,-62.8 156.6,-58.6 159.5,-49.2 167.9,-18.5 170.8,-9.9 173.6,-2.8 176.4,2.7 179.2,6.6 182.1,9.2 184.9,10.9 187.7,11.8 191.9,12.5 215.9,14.1 220.2,14 223,13.5 225.8,12.4 227.2,11.6 230,9.4 231.4,7.9 232.9,6.2 235.7,1.9 239.9,-6 247,-21 249.8,-26.1 251.2,-28.3 252.6,-30.1 254,-31.5 255.4,-32.4 256.8,-32.9 258.3,-32.9 259.7,-32.4 261.1,-31.4 262.5,-30 265.3,-26 269.5,-17.8 276.6,-2.3 280.8,5.8 283.7,10.1 285.1,11.9 286.5,13.4 289.3,15.9 292.1,17.5 295,18.6 297.8,19.3 302,19.8 328.8,21.5 334.5,21.3 338.7,20.5L318.4,26 -20.3,3.7Z"/><path transform="translate(206.86,174.19)" d="M0,-1.2 2.8,-2.5 4.2,-3.5 5.6,-4.9 7.1,-6.6 8.5,-8.8 11.3,-14.5 14.1,-22.2 16.9,-31.8 19.8,-42.9 26.8,-73.1 29.6,-83.7 31,-88.1 32.5,-91.8 33.9,-94.7 35.3,-96.7 36.7,-97.8 38.1,-98 39.5,-97.1 40.9,-95.3 42.3,-92.7 43.7,-89.1 45.2,-84.8 46.6,-79.9 49.4,-68.5 57.9,-31.6 60.7,-21.2 63.5,-12.7 66.3,-6.2 69.2,-1.5 72,1.6 73.4,2.6 76.2,4.1 79,4.9 83.3,5.4 101.6,6.7 107.3,6.7 110.1,6.3 112.9,5.3 115.7,3.3 117.1,1.9 120,-2.1 121.4,-4.6 122.8,-7.7 125.6,-14.9 129.8,-28.6 136.9,-54.1 139.7,-62.9 141.1,-66.6 142.5,-69.7 143.9,-72.2 145.4,-73.9 146.8,-74.7 148.2,-74.8 149.6,-74.1 151,-72.5 152.4,-70.2 153.8,-67.2 155.2,-63.6 156.6,-59.4 159.5,-49.9 167.9,-18.8 170.8,-10.1 173.6,-3 176.4,2.6 179.2,6.5 182.1,9.2 184.9,10.9 187.7,11.8 191.9,12.5 215.9,14.1 220.2,14 223,13.5 225.8,12.4 227.2,11.6 230,9.3 231.4,7.8 232.9,6.1 235.7,1.8 239.9,-6.3 247,-21.4 249.8,-26.6 251.2,-28.8 252.6,-30.6 254,-32 255.4,-33 256.8,-33.5 258.3,-33.5 259.7,-33 261.1,-32 262.5,-30.6 265.3,-26.5 269.5,-18.2 276.6,-2.5 280.8,5.7 283.7,10 285.1,11.8 286.5,13.4 289.3,15.8 292.1,17.5 295,18.6 297.8,19.3 302,19.8 328.8,21.5 334.5,21.3 338.7,20.5L318.4,26 -20.3,3.7Z"/><path transform="translate(206.01,174.34)" d="M0,-1.2 2.8,-2.5 4.2,-3.5 5.6,-4.9 7.1,-6.7 8.5,-8.8 11.3,-14.5 14.1,-22.2 16.9,-31.8 19.8,-43 26.8,-73.3 29.6,-83.8 31,-88.3 32.5,-92 33.9,-94.9 35.3,-96.9 36.7,-98 38.1,-98.2 39.5,-97.3 40.9,-95.5 42.3,-92.8 43.7,-89.3 45.2,-85 46.6,-80 49.4,-68.6 57.9,-31.6 60.7,-21.3 63.5,-12.7 66.3,-6.2 69.2,-1.5 72,1.6 73.4,2.6 76.2,4.1 79,4.9 83.3,5.4 101.6,6.7 107.3,6.7 110.1,6.3 112.9,5.3 115.7,3.3 117.1,1.9 120,-2.1 121.4,-4.7 122.8,-7.7 125.6,-15 129.8,-28.7 136.9,-54.2 139.7,-63.1 141.1,-66.8 142.5,-69.9 143.9,-72.3 145.4,-74 146.8,-74.9 148.2,-75 149.6,-74.3 151,-72.7 152.4,-70.4 153.8,-67.4 155.2,-63.8 156.6,-59.6 159.5,-50 167.9,-18.9 170.8,-10.2 173.6,-3 176.4,2.5 179.2,6.5 182.1,9.2 184.9,10.9 187.7,11.8 191.9,12.5 215.9,14.1 220.2,14 223,13.5 225.8,12.4 227.2,11.6 230,9.3 231.4,7.8 232.9,6 235.7,1.8 239.9,-6.3 247,-21.5 249.8,-26.7 251.2,-28.9 252.6,-30.7 254,-32.1 255.4,-33.1 256.8,-33.6 258.3,-33.6 259.7,-33.1 261.1,-32.1 262.5,-30.7 265.3,-26.6 269.5,-18.3 276.6,-2.5 280.8,5.6 283.7,10 285.1,11.8 286.5,13.3 289.3,15.8 292.1,17.5 295,18.6 297.8,19.3 302,19.8 328.8,21.5 334.5,21.3 338.7,20.5L318.4,26 -20.3,3.7Z"/><path transform="translate(205.17,174.5)" d="M0,-1.2 2.8,-2.5 4.2,-3.5 5.6,-4.9 7.1,-6.6 8.5,-8.7 11.3,-14.4 14.1,-22 16.9,-31.6 19.8,-42.7 26.8,-72.7 29.6,-83.2 31,-87.6 32.5,-91.3 33.9,-94.2 35.3,-96.2 36.7,-97.3 38.1,-97.4 39.5,-96.6 40.9,-94.8 42.3,-92.1 43.7,-88.6 45.2,-84.3 46.6,-79.4 49.4,-68.1 57.9,-31.4 60.7,-21.1 63.5,-12.6 66.3,-6.1 69.2,-1.5 72,1.6 73.4,2.7 76.2,4.1 79,4.9 83.3,5.4 101.6,6.7 107.3,6.7 110.1,6.3 112.9,5.3 115.7,3.4 117.1,1.9 120,-2 121.4,-4.6 122.8,-7.6 125.6,-14.8 129.8,-28.4 136.9,-53.7 139.7,-62.5 141.1,-66.2 142.5,-69.3 143.9,-71.7 145.4,-73.4 146.8,-74.3 148.2,-74.3 149.6,-73.6 151,-72.1 152.4,-69.8 153.8,-66.8 155.2,-63.2 156.6,-59 159.5,-49.5 167.9,-18.7 170.8,-10 173.6,-2.9 176.4,2.6 179.2,6.6 182.1,9.2 184.9,10.9 187.7,11.8 191.9,12.5 215.9,14.1 220.2,14 223,13.5 225.8,12.4 227.2,11.6 230,9.4 231.4,7.9 232.9,6.1 235.7,1.9 239.9,-6.2 247,-21.2 249.8,-26.4 251.2,-28.6 252.6,-30.4 254,-31.8 255.4,-32.7 256.8,-33.2 258.3,-33.2 259.7,-32.7 261.1,-31.7 262.5,-30.3 265.3,-26.3 269.5,-18 276.6,-2.4 280.8,5.7 283.7,10 285.1,11.8 286.5,13.4 289.3,15.8 292.1,17.5 295,18.6 297.8,19.3 302,19.8 328.8,21.5 334.5,21.3 338.7,20.5L318.4,26 -20.3,3.7Z"/><path transform="translate(204.32,174.65)" d="M0,-1.2 2.8,-2.4 4.2,-3.4 5.6,-4.8 7.1,-6.5 8.5,-8.6 11.3,-14.2 14.1,-21.6 16.9,-31 19.8,-41.9 26.8,-71.4 29.6,-81.7 31,-86 32.5,-89.7 33.9,-92.5 35.3,-94.5 36.7,-95.6 38.1,-95.7 39.5,-94.9 40.9,-93.1 42.3,-90.5 43.7,-87 45.2,-82.8 46.6,-78 49.4,-66.9 57.9,-30.8 60.7,-20.6 63.5,-12.3 66.3,-5.9 69.2,-1.4 72,1.6 73.4,2.7 76.2,4.1 79,4.9 83.3,5.4 101.6,6.7 107.3,6.7 110.1,6.3 112.9,5.3 115.7,3.4 117.1,2 120,-1.8 121.4,-4.4 122.8,-7.3 125.6,-14.4 129.8,-27.7 136.9,-52.6 139.7,-61.3 141.1,-64.9 142.5,-67.9 143.9,-70.3 145.4,-72 146.8,-72.8 148.2,-72.9 149.6,-72.2 151,-70.7 152.4,-68.4 153.8,-65.5 155.2,-61.9 156.6,-57.9 159.5,-48.5 167.9,-18.2 170.8,-9.6 173.6,-2.6 176.4,2.8 179.2,6.7 182.1,9.3 184.9,10.9 187.7,11.8 191.9,12.5 215.9,14.1 220.2,14 223,13.5 225.8,12.5 227.2,11.7 230,9.5 231.4,8 232.9,6.3 235.7,2.1 239.9,-5.8 247,-20.5 249.8,-25.6 251.2,-27.8 252.6,-29.5 254,-30.9 255.4,-31.9 256.8,-32.3 258.3,-32.3 259.7,-31.8 261.1,-30.9 262.5,-29.5 265.3,-25.5 269.5,-17.4 276.6,-2 280.8,5.9 283.7,10.2 285.1,12 286.5,13.5 289.3,15.9 292.1,17.5 295,18.6 297.8,19.3 302,19.8 328.8,21.5 334.5,21.3 338.7,20.5L318.4,26 -20.3,3.7Z"/><path transform="translate(203.47,174.81)" d="M0,-1.1 2.8,-2.4 4.2,-3.3 5.6,-4.6 7.1,-6.3 8.5,-8.3 11.3,-13.8 14.1,-21 16.9,-30.1 19.8,-40.8 26.8,-69.5 29.6,-79.5 31,-83.7 32.5,-87.2 33.9,-90 35.3,-91.9 36.7,-92.9 38.1,-93.1 39.5,-92.3 40.9,-90.6 42.3,-88 43.7,-84.6 45.2,-80.5 46.6,-75.8 49.4,-65 57.9,-29.8 60.7,-20 63.5,-11.9 66.3,-5.7 69.2,-1.2 72,1.7 73.4,2.7 76.2,4.1 79,4.9 83.3,5.4 101.6,6.7 107.3,6.7 110.1,6.4 112.9,5.4 115.7,3.5 117.1,2.2 120,-1.6 121.4,-4 122.8,-6.9 125.6,-13.8 129.8,-26.8 136.9,-51 139.7,-59.4 141.1,-62.9 142.5,-65.9 143.9,-68.2 145.4,-69.8 146.8,-70.6 148.2,-70.7 149.6,-70 151,-68.5 152.4,-66.3 153.8,-63.5 155.2,-60 159.5,-46.9 167.9,-17.4 170.8,-9.1 173.6,-2.3 176.4,3 179.2,6.8 182.1,9.3 184.9,10.9 187.7,11.9 191.9,12.5 215.9,14.1 220.2,14 223,13.5 225.8,12.5 227.2,11.8 230,9.6 231.4,8.2 232.9,6.5 235.7,2.5 239.9,-5.2 247,-19.6 249.8,-24.5 251.2,-26.6 252.6,-28.3 254,-29.6 255.4,-30.5 256.8,-31 258.3,-31 259.7,-30.5 261.1,-29.6 262.5,-28.3 265.3,-24.4 269.5,-16.5 276.6,-1.5 280.8,6.3 283.7,10.4 285.1,12.1 286.5,13.6 289.3,16 292.1,17.6 295,18.6 297.8,19.3 302,19.8 328.8,21.5 334.5,21.4 338.7,20.6L318.4,26 -20.3,3.7Z"/><path transform="translate(202.62,174.96)" d="M0,-1.1 2.8,-2.3 5.6,-4.5 8.5,-8 11.3,-13.2 14.1,-20.2 16.9,-29 19.8,-39.2 26.8,-66.9 29.6,-76.5 31,-80.6 32.5,-84 33.9,-86.6 35.3,-88.5 36.7,-89.5 38.1,-89.6 39.5,-88.8 40.9,-87.2 42.3,-84.7 43.7,-81.4 45.2,-77.5 46.6,-73 49.4,-62.5 57.9,-28.6 60.7,-19.1 63.5,-11.3 66.3,-5.3 69.2,-1 72,1.8 73.4,2.8 76.2,4.2 79,4.9 83.3,5.4 101.6,6.7 107.3,6.8 110.1,6.4 112.9,5.5 115.7,3.7 117.1,2.4 120,-1.2 121.4,-3.6 122.8,-6.3 125.6,-13 129.8,-25.5 136.9,-48.8 139.7,-56.9 141.1,-60.3 142.5,-63.2 143.9,-65.4 145.4,-66.9 146.8,-67.7 148.2,-67.8 149.6,-67.1 151,-65.7 152.4,-63.6 153.8,-60.8 155.2,-57.5 159.5,-44.8 167.9,-16.3 170.8,-8.4 173.6,-1.8 176.4,3.3 179.2,7 182.1,9.4 184.9,11 187.7,11.9 191.9,12.6 215.9,14.1 220.2,14 223,13.6 225.8,12.6 227.2,11.9 230,9.8 231.4,8.4 232.9,6.8 235.7,2.9 239.9,-4.5 247,-18.3 249.8,-23 251.2,-25 252.6,-26.7 254,-28 255.4,-28.8 256.8,-29.3 258.3,-29.3 259.7,-28.8 261.1,-27.9 262.5,-26.6 265.3,-22.9 269.5,-15.2 276.6,-0.8 280.8,6.7 283.7,10.7 285.1,12.4 286.5,13.8 289.3,16.1 292.1,17.6 295,18.7 297.8,19.3 302,19.8 328.8,21.5 334.5,21.4 338.7,20.6L318.4,26 -20.3,3.7Z"/><path transform="translate(201.78,175.11)" d="M0,-1 2.8,-2.2 5.6,-4.2 8.5,-7.6 11.3,-12.6 14.1,-19.3 16.9,-27.6 19.8,-37.4 26.8,-63.7 29.6,-72.9 31,-76.8 32.5,-80 33.9,-82.6 35.3,-84.3 36.7,-85.3 38.1,-85.4 39.5,-84.6 40.9,-83.1 42.3,-80.7 43.7,-77.6 45.2,-73.8 46.6,-69.5 49.4,-59.5 57.9,-27.1 60.7,-18.1 63.5,-10.6 66.3,-4.9 69.2,-0.8 72,2 73.4,2.9 76.2,4.2 79,4.9 83.3,5.4 101.6,6.7 107.3,6.8 110.1,6.4 112.9,5.6 115.7,3.9 117.1,2.6 120,-0.8 121.4,-3.1 122.8,-5.7 125.6,-12 129.8,-23.9 136.9,-46.2 139.7,-53.9 141.1,-57.1 142.5,-59.8 143.9,-61.9 145.4,-63.4 146.8,-64.2 148.2,-64.2 149.6,-63.6 151,-62.2 152.4,-60.2 153.8,-57.6 155.2,-54.4 159.5,-42.3 167.9,-15.1 170.8,-7.5 173.6,-1.2 176.4,3.7 179.2,7.2 182.1,9.5 184.9,11 187.7,11.9 191.9,12.6 215.9,14.1 220.2,14 223,13.6 225.8,12.7 227.2,12 230,10.1 231.4,8.8 232.9,7.2 235.7,3.5 239.9,-3.5 247,-16.7 249.8,-21.2 251.2,-23.1 252.6,-24.7 254,-25.9 255.4,-26.7 256.8,-27.2 258.3,-27.1 259.7,-26.7 261.1,-25.8 262.5,-24.6 265.3,-21 269.5,-13.7 276.6,0.1 280.8,7.3 283.7,11.1 285.1,12.7 286.5,14 289.3,16.2 292.1,17.7 295,18.7 297.8,19.3 302,19.8 328.8,21.5 334.5,21.4 338.7,20.7L318.4,26 -20.3,3.7Z"/><path transform="translate(200.93,175.27)" d="M0,-1 2.8,-2 5.6,-4 8.5,-7.2 11.3,-11.9 14.1,-18.2 16.9,-26 19.8,-35.2 26.8,-60.1 29.6,-68.8 31,-72.4 32.5,-75.5 33.9,-77.9 35.3,-79.5 36.7,-80.4 38.1,-80.5 39.5,-79.8 40.9,-78.3 42.3,-76.1 43.7,-73.1 45.2,-69.6 46.6,-65.5 49.4,-56 57.9,-25.4 60.7,-16.8 63.5,-9.8 66.3,-4.4 69.2,-0.5 72,2.1 73.4,3 76.2,4.2 79,4.9 83.3,5.4 101.6,6.7 107.3,6.8 110.1,6.5 112.9,5.7 115.7,4.1 117.1,2.9 120,-0.3 121.4,-2.5 122.8,-4.9 125.6,-10.9 129.8,-22.1 136.9,-43.1 139.7,-50.4 141.1,-53.5 142.5,-56 143.9,-58 145.4,-59.4 146.8,-60.1 148.2,-60.1 149.6,-59.5 151,-58.2 152.4,-56.3 155.2,-50.8 159.5,-39.4 167.9,-13.6 170.8,-6.4 173.6,-0.5 176.4,4.1 179.2,7.4 182.1,9.7 184.9,11.1 187.7,11.9 191.9,12.6 215.9,14.1 220.2,14.1 223,13.7 225.8,12.8 227.2,12.2 230,10.3 231.4,9.1 232.9,7.7 235.7,4.2 239.9,-2.5 247,-14.9 249.8,-19.1 251.2,-20.9 252.6,-22.4 254,-23.6 255.4,-24.3 256.8,-24.7 258.3,-24.7 259.7,-24.3 261.1,-23.5 262.5,-22.3 265.3,-18.9 269.5,-12 276.6,1.1 280.8,7.9 283.7,11.5 285.1,13 286.5,14.3 289.3,16.4 292.1,17.8 295,18.7 297.8,19.3 302,19.8 328.8,21.6 334.5,21.4 338.7,20.8L318.4,26 -20.3,3.7Z"/><path transform="translate(200.08,175.42)" d="M0,-0.9 2.8,-1.9 5.6,-3.7 8.5,-6.7 11.3,-11 14.1,-16.9 16.9,-24.3 19.8,-32.9 26.8,-56.1 29.6,-64.2 31,-67.6 32.5,-70.4 33.9,-72.7 35.3,-74.2 36.7,-75.1 38.1,-75.1 39.5,-74.5 40.9,-73.1 42.3,-71 43.7,-68.2 45.2,-64.9 46.6,-61 49.4,-52.2 57.9,-23.5 60.7,-15.5 63.5,-8.9 66.3,-3.8 69.2,-0.1 72,2.3 73.4,3.1 76.2,4.3 79,4.9 83.3,5.4 101.6,6.7 107.3,6.8 110.1,6.5 112.9,5.8 115.7,4.3 117.1,3.2 120,0.2 121.4,-1.8 122.8,-4.1 125.6,-9.7 129.8,-20.1 136.9,-39.7 139.7,-46.5 141.1,-49.4 142.5,-51.8 143.9,-53.6 145.4,-54.9 146.8,-55.6 148.2,-55.6 149.6,-55 151,-53.8 152.4,-52 155.2,-46.8 159.5,-36.1 167.9,-12 170.8,-5.3 173.6,0.3 176.4,4.6 179.2,7.7 182.1,9.8 184.9,11.2 187.7,11.9 191.9,12.6 215.9,14.1 220.2,14.1 223,13.7 225.8,13 227.2,12.4 230,10.6 231.4,9.5 232.9,8.2 235.7,4.9 239.9,-1.3 247,-12.8 249.8,-16.8 251.2,-18.5 254,-20.9 255.4,-21.7 256.8,-22 258.3,-22 259.7,-21.6 261.1,-20.8 262.5,-19.7 265.3,-16.5 269.5,-10.1 276.6,2.2 280.8,8.6 283.7,12 285.1,13.4 286.5,14.6 289.3,16.6 292.1,17.9 295,18.8 297.8,19.3 302,19.8 328.8,21.6 334.5,21.5 338.7,20.9L318.4,26 -20.3,3.7Z"/><path transform="translate(199.23,175.57)" d="M0,-0.9 2.8,-1.7 5.6,-3.4 8.5,-6.1 11.3,-10.2 14.1,-15.6 16.9,-22.4 19.8,-30.3 26.8,-51.8 29.6,-59.3 31,-62.4 32.5,-65 33.9,-67.1 35.3,-68.5 36.7,-69.3 38.1,-69.3 39.5,-68.7 40.9,-67.4 42.3,-65.5 43.7,-62.9 45.2,-59.8 49.4,-48.1 57.9,-21.5 60.7,-14 63.5,-7.9 66.3,-3.2 69.2,0.2 72,2.5 73.4,3.3 76.2,4.3 79,5 83.3,5.5 101.6,6.7 107.3,6.8 110.1,6.6 112.9,5.9 115.7,4.6 117.1,3.6 120,0.8 121.4,-1 122.8,-3.2 125.6,-8.3 129.8,-18 136.9,-36.1 139.7,-42.4 141.1,-45 142.5,-47.2 143.9,-48.9 145.4,-50.1 146.8,-50.7 148.2,-50.7 149.6,-50.2 151,-49 152.4,-47.4 155.2,-42.6 159.5,-32.7 167.9,-10.3 170.8,-4 173.6,1.1 176.4,5.1 179.2,8 182.1,10 184.9,11.2 187.7,12 191.9,12.6 215.9,14.1 220.2,14.1 223,13.8 225.8,13.1 227.2,12.6 230,11 231.4,9.9 232.9,8.7 235.7,5.7 239.9,0 247,-10.7 249.8,-14.4 251.2,-15.9 254,-18.1 255.4,-18.8 256.8,-19.1 258.3,-19.1 259.7,-18.7 261.1,-18 262.5,-16.9 265.3,-14 269.5,-8 276.6,3.4 280.8,9.3 285.1,13.8 286.5,14.9 289.3,16.7 292.1,18 295,18.8 297.8,19.4 302,19.8 328.8,21.6 334.5,21.5 338.7,21L318.4,26 -20.3,3.7Z"/><path transform="translate(198.39,175.73)" d="M0,-0.8 2.8,-1.6 5.6,-3.1 8.5,-5.6 11.3,-9.2 14.1,-14.2 16.9,-20.4 19.8,-27.6 26.8,-47.3 29.6,-54.1 31,-57 32.5,-59.4 33.9,-61.2 35.3,-62.5 36.7,-63.2 38.1,-63.3 39.5,-62.7 40.9,-61.5 42.3,-59.7 45.2,-54.5 49.4,-43.7 57.9,-19.4 60.7,-12.5 63.5,-6.9 66.3,-2.5 69.2,0.6 72,2.7 73.4,3.4 76.2,4.4 79,5 83.3,5.5 101.6,6.7 107.3,6.8 110.1,6.6 112.9,6 115.7,4.8 117.1,3.9 120,1.4 121.4,-0.3 122.8,-2.2 125.6,-6.9 129.8,-15.8 136.9,-32.3 139.7,-38 141.1,-40.4 142.5,-42.4 143.9,-44 145.4,-45 146.8,-45.6 148.2,-45.6 149.6,-45.1 151,-44.1 152.4,-42.5 155.2,-38.1 159.5,-29 167.9,-8.5 170.8,-2.8 173.6,2 176.4,5.7 179.2,8.4 182.1,10.2 184.9,11.3 187.7,12 191.9,12.6 215.9,14.2 220.2,14.2 223,13.9 227.2,12.8 230,11.3 231.4,10.4 232.9,9.3 235.7,6.5 239.9,1.3 247,-8.4 249.8,-11.8 251.2,-13.1 254,-15.2 255.4,-15.8 256.8,-16.1 258.3,-16 259.7,-15.7 261.1,-15 262.5,-14.1 265.3,-11.3 269.5,-5.8 276.6,4.7 280.8,10.1 285.1,14.2 286.5,15.3 289.3,16.9 292.1,18.1 295,18.9 302,19.8 328.8,21.6 334.5,21.6 338.7,21.1L318.4,26 -20.3,3.7Z"/><path transform="translate(197.54,175.88)" d="M0,-0.7 2.8,-1.4 5.6,-2.8 8.5,-5 11.3,-8.3 14.1,-12.8 16.9,-18.4 19.8,-24.9 26.8,-42.6 29.6,-48.8 31,-51.4 32.5,-53.5 33.9,-55.2 35.3,-56.4 36.7,-57 38.1,-57.1 39.5,-56.5 40.9,-55.4 42.3,-53.8 45.2,-49.1 49.4,-39.3 57.9,-17.2 60.7,-10.9 63.5,-5.8 66.3,-1.9 69.2,1 72,2.9 73.4,3.5 76.2,4.5 79,5 83.3,5.5 101.6,6.7 107.3,6.9 110.1,6.7 112.9,6.2 115.7,5.1 117.1,4.3 120,2 121.4,0.5 122.8,-1.2 125.6,-5.5 129.8,-13.5 136.9,-28.4 139.7,-33.6 141.1,-35.7 142.5,-37.5 143.9,-38.9 145.4,-39.9 146.8,-40.4 148.2,-40.4 149.6,-39.9 151,-39 152.4,-37.6 155.2,-33.5 159.5,-25.3 167.9,-6.7 170.8,-1.4 173.6,2.9 176.4,6.2 179.2,8.7 182.1,10.3 184.9,11.4 187.7,12 191.9,12.6 215.9,14.2 220.2,14.2 223,14 227.2,13 230,11.7 231.4,10.8 235.7,7.4 239.9,2.7 247,-6.1 249.8,-9.1 251.2,-10.3 254,-12.2 255.4,-12.7 256.8,-13 258.3,-12.9 259.7,-12.6 261.1,-12 262.5,-11.1 265.3,-8.6 269.5,-3.6 276.6,5.9 280.8,10.9 285.1,14.6 289.3,17.1 292.1,18.2 295,18.9 302,19.8 328.8,21.6 334.5,21.6 338.7,21.2L318.4,26 -20.3,3.7Z"/><path transform="translate(196.69,176.03)" d="M0,-0.6 2.8,-1.2 5.6,-2.4 8.5,-4.4 11.3,-7.3 14.1,-11.3 16.9,-16.3 19.8,-22.2 26.8,-38 29.6,-43.5 31,-45.8 32.5,-47.7 33.9,-49.2 35.3,-50.3 36.7,-50.8 38.1,-50.8 39.5,-50.3 40.9,-49.3 42.3,-47.9 45.2,-43.6 49.4,-34.8 57.9,-15 60.7,-9.4 63.5,-4.8 66.3,-1.2 69.2,1.3 72,3.1 76.2,4.5 79,5 83.3,5.5 101.6,6.7 107.3,6.9 110.1,6.8 112.9,6.3 115.7,5.3 117.1,4.6 120,2.6 121.4,1.3 122.8,-0.3 125.6,-4 129.8,-11.2 136.9,-24.5 139.7,-29.1 141.1,-31 142.5,-32.6 143.9,-33.9 145.4,-34.7 146.8,-35.1 148.2,-35.1 149.6,-34.7 151,-33.8 152.4,-32.6 155.2,-29 159.5,-21.5 167.9,-4.8 170.8,-0.1 173.6,3.8 176.4,6.8 179.2,9 182.1,10.5 184.9,11.5 187.7,12.1 191.9,12.6 215.9,14.2 220.2,14.2 223,14 227.2,13.2 231.4,11.3 235.7,8.2 239.9,4.1 247,-3.7 251.2,-7.5 254,-9.1 255.4,-9.6 256.8,-9.8 258.3,-9.8 259.7,-9.5 261.1,-8.9 262.5,-8.1 265.3,-5.9 269.5,-1.3 276.6,7.2 280.8,11.7 285.1,15.1 289.3,17.3 292.1,18.3 295,19 302,19.9 328.8,21.6 334.5,21.6 338.7,21.3L318.4,26 -20.3,3.7Z"/><path transform="translate(195.84,176.19)" d="M0,-0.6 2.8,-1.1 5.6,-2.1 8.5,-3.8 11.3,-6.4 14.1,-9.9 16.9,-14.3 19.8,-19.5 26.8,-33.4 29.6,-38.2 31,-40.3 32.5,-42 33.9,-43.3 35.3,-44.2 36.7,-44.7 38.1,-44.7 39.5,-44.2 40.9,-43.3 42.3,-42 45.2,-38.3 49.4,-30.4 57.9,-12.8 60.7,-7.8 63.5,-3.8 66.3,-0.6 69.2,1.7 72,3.3 76.2,4.6 83.3,5.5 107.3,6.9 110.1,6.8 112.9,6.4 115.7,5.6 117.1,5 120,3.2 121.4,2.1 122.8,0.7 125.6,-2.6 129.8,-8.9 136.9,-20.6 139.7,-24.7 141.1,-26.4 143.9,-28.9 145.4,-29.6 146.8,-30 148.2,-30 149.6,-29.6 151,-28.8 152.4,-27.7 155.2,-24.4 159.5,-17.8 167.9,-3 170.8,1.2 173.6,4.7 176.4,7.4 179.2,9.3 182.1,10.7 184.9,11.6 187.7,12.1 191.9,12.6 215.9,14.2 223,14.1 227.2,13.4 231.4,11.8 235.7,9.1 239.9,5.4 247,-1.4 251.2,-4.8 254,-6.2 255.4,-6.6 258.3,-6.7 261.1,-5.9 262.5,-5.2 265.3,-3.2 269.5,0.8 276.6,8.5 280.8,12.5 285.1,15.5 289.3,17.5 292.1,18.4 295,19 302,19.9 328.8,21.6 334.5,21.7 338.7,21.4L318.4,26 -20.3,3.7Z"/><path transform="translate(195,176.34)" d="M0,-0.5 2.8,-0.9 5.6,-1.8 8.5,-3.3 11.3,-5.5 14.1,-8.6 16.9,-12.4 19.8,-16.8 26.8,-29 29.6,-33.2 31,-34.9 32.5,-36.4 33.9,-37.6 35.3,-38.3 36.7,-38.7 38.1,-38.7 39.5,-38.3 40.9,-37.5 42.3,-36.4 45.2,-33.1 49.4,-26.2 57.9,-10.7 60.7,-6.4 63.5,-2.8 66.3,0 69.2,2.1 72,3.4 76.2,4.6 83.3,5.5 107.3,6.9 110.1,6.9 112.9,6.6 117.1,5.3 120,3.8 121.4,2.8 122.8,1.6 125.6,-1.3 129.8,-6.7 136.9,-16.9 139.7,-20.4 141.1,-21.9 143.9,-24 145.4,-24.7 146.8,-25 148.2,-25 149.6,-24.6 151,-23.9 152.4,-22.9 155.2,-20.1 159.5,-14.3 167.9,-1.2 170.8,2.5 173.6,5.5 176.4,7.9 179.2,9.6 182.1,10.8 184.9,11.6 191.9,12.6 215.9,14.2 223,14.2 227.2,13.6 231.4,12.2 235.7,9.9 239.9,6.7 247,0.8 251.2,-2.1 254,-3.3 255.4,-3.6 258.3,-3.7 261.1,-3 262.5,-2.4 265.3,-0.6 269.5,3 276.6,9.7 280.8,13.2 285.1,15.9 289.3,17.7 295,19.1 302,19.9 328.8,21.6 334.5,21.7 338.7,21.5L318.4,26 -20.3,3.7Z"/><path transform="translate(194.15,176.5)" d="M0,-0.4 2.8,-0.8 5.6,-1.5 8.5,-2.8 11.3,-4.7 14.1,-7.3 16.9,-10.5 19.8,-14.4 26.8,-24.8 29.6,-28.4 31,-29.9 33.9,-32.1 35.3,-32.8 36.7,-33.1 38.1,-33.1 39.5,-32.7 40.9,-32 42.3,-31 45.2,-28.1 49.4,-22.2 57.9,-8.7 60.7,-4.9 63.5,-1.8 66.3,0.6 69.2,2.4 72,3.6 76.2,4.7 83.3,5.5 107.3,6.9 112.9,6.7 117.1,5.7 120,4.4 121.4,3.5 125.6,0.1 129.8,-4.6 136.9,-13.3 141.1,-17.6 143.9,-19.4 145.4,-20 146.8,-20.2 148.2,-20.2 149.6,-19.9 151,-19.3 152.4,-18.4 155.2,-15.9 159.5,-10.9 167.9,0.5 170.8,3.7 173.6,6.3 176.4,8.4 179.2,9.9 182.1,11 184.9,11.7 191.9,12.6 215.9,14.2 223,14.3 227.2,13.8 231.4,12.6 235.7,10.7 239.9,8 247,2.9 251.2,0.5 254,-0.5 255.4,-0.8 258.3,-0.9 261.1,-0.2 262.5,0.3 265.3,1.9 269.5,5 276.6,10.9 280.8,13.9 285.1,16.3 289.3,17.9 295,19.1 302,19.9 328.8,21.6 334.5,21.8 338.7,21.6L318.4,26 -20.3,3.7Z"/><path transform="translate(193.3,176.65)" d="M0,-0.4 2.8,-0.6 5.6,-1.2 8.5,-2.3 11.3,-3.9 14.1,-6 16.9,-8.8 19.8,-12 26.8,-20.8 31,-25.1 33.9,-27 35.3,-27.6 36.7,-27.8 38.1,-27.8 39.5,-27.5 40.9,-26.9 42.3,-26 45.2,-23.5 49.4,-18.4 57.9,-6.9 60.7,-3.6 63.5,-0.9 66.3,1.2 69.2,2.7 72,3.8 76.2,4.7 83.3,5.5 107.3,7 112.9,6.8 117.1,6 121.4,4.2 125.6,1.3 129.8,-2.7 136.9,-10 141.1,-13.6 143.9,-15.1 145.4,-15.6 146.8,-15.8 148.2,-15.8 151,-14.9 152.4,-14.2 155.2,-12 159.5,-7.7 167.9,2 170.8,4.8 173.6,7.1 176.4,8.9 179.2,10.2 182.1,11.1 184.9,11.8 191.9,12.6 215.9,14.2 223,14.3 227.2,13.9 231.4,13 235.7,11.4 239.9,9.1 247,4.9 251.2,2.9 254,2 255.4,1.8 258.3,1.8 261.1,2.4 265.3,4.2 269.5,6.9 276.6,12 280.8,14.6 285.1,16.7 289.3,18.1 295,19.2 302,19.9 328.8,21.6 338.7,21.7L318.4,26 -20.3,3.7Z"/><path transform="translate(192.45,176.8)" d="M0,-0.3 2.8,-0.5 5.6,-1 8.5,-1.8 11.3,-3.1 14.1,-4.9 16.9,-7.2 26.8,-17.2 31,-20.8 33.9,-22.3 35.3,-22.8 36.7,-23 38.1,-22.9 40.9,-22.1 42.3,-21.4 45.2,-19.3 49.4,-14.9 57.9,-5.2 60.7,-2.4 63.5,-0.1 66.3,1.7 69.2,3 72,3.9 76.2,4.8 83.3,5.5 107.3,7 112.9,6.9 117.1,6.2 121.4,4.8 125.6,2.4 129.8,-0.9 136.9,-7 141.1,-9.9 143.9,-11.2 145.4,-11.6 148.2,-11.7 151,-10.9 152.4,-10.3 155.2,-8.5 159.5,-4.8 167.9,3.5 170.8,5.8 173.6,7.8 176.4,9.3 179.2,10.5 182.1,11.3 184.9,11.8 191.9,12.6 215.9,14.2 223,14.4 227.2,14.1 231.4,13.4 235.7,12 239.9,10.2 247,6.7 251.2,5.1 255.4,4.2 258.3,4.2 261.1,4.7 265.3,6.3 269.5,8.6 276.6,13 280.8,15.2 285.1,17 289.3,18.2 295,19.2 302,19.9 328.8,21.6 338.7,21.8L318.4,26 -20.3,3.7Z"/><path transform="translate(191.61,176.96)" d="M0,-0.3 5.6,-0.7 8.5,-1.4 11.3,-2.4 14.1,-3.9 16.9,-5.8 26.8,-13.9 31,-16.8 33.9,-18.1 35.3,-18.4 38.1,-18.5 40.9,-17.8 42.3,-17.2 45.2,-15.4 49.4,-11.8 57.9,-3.6 60.7,-1.3 63.5,0.6 66.3,2.2 69.2,3.3 72,4.1 76.2,4.8 83.3,5.5 107.3,7 112.9,7 117.1,6.5 121.4,5.3 125.6,3.4 129.8,0.8 136.9,-4.2 141.1,-6.6 143.9,-7.6 145.4,-7.9 148.2,-8 151,-7.3 152.4,-6.8 155.2,-5.2 159.5,-2.1 167.9,4.8 170.8,6.8 173.6,8.4 176.4,9.7 179.2,10.7 184.9,11.9 191.9,12.6 215.9,14.2 223,14.4 227.2,14.3 231.4,13.7 235.7,12.6 239.9,11.2 247,8.4 251.2,7 255.4,6.4 258.3,6.4 261.1,6.9 265.3,8.2 280.8,15.8 285.1,17.3 289.3,18.4 295,19.2 302,19.9 328.8,21.6 338.7,21.9L318.4,26 -20.3,3.7Z"/><path transform="translate(190.76,177.11)" d="M0,-0.2 5.6,-0.5 8.5,-1 11.3,-1.9 14.1,-3 16.9,-4.5 26.8,-11 31,-13.3 33.9,-14.3 35.3,-14.6 38.1,-14.6 40.9,-14 42.3,-13.5 45.2,-12 49.4,-9 57.9,-2.2 60.7,-0.3 63.5,1.3 66.3,2.6 69.2,3.5 72,4.2 76.2,4.9 83.3,5.5 107.3,7 112.9,7.1 117.1,6.7 121.4,5.8 125.6,4.3 129.8,2.2 136.9,-1.7 141.1,-3.7 143.9,-4.4 145.4,-4.7 148.2,-4.7 151,-4.1 155.2,-2.4 159.5,0.2 167.9,6 173.6,9 176.4,10.1 179.2,10.9 184.9,11.9 191.9,12.6 215.9,14.2 223,14.5 227.2,14.4 231.4,14 235.7,13.2 247,9.8 251.2,8.8 255.4,8.3 258.3,8.4 261.1,8.8 265.3,10 280.8,16.3 285.1,17.6 289.3,18.5 295,19.3 302,19.9 328.8,21.6 338.7,22L318.4,26 -20.3,3.7Z"/><path transform="translate(189.91,177.27)" d="M0,-0.2 5.6,-0.3 8.5,-0.7 11.3,-1.3 14.1,-2.2 16.9,-3.4 26.8,-8.5 31,-10.3 35.3,-11.2 38.1,-11.2 40.9,-10.7 45.2,-9 49.4,-6.5 57.9,-1 63.5,1.9 66.3,2.9 69.2,3.7 76.2,4.9 107.3,7 112.9,7.1 117.1,6.9 121.4,6.3 125.6,5.1 129.8,3.5 136.9,0.4 141.1,-1.1 145.4,-1.8 148.2,-1.8 151,-1.3 155.2,0.1 159.5,2.3 167.9,7 173.6,9.5 179.2,11.1 184.9,12 191.9,12.6 215.9,14.2 223,14.5 227.2,14.5 231.4,14.2 235.7,13.6 247,11.1 251.2,10.3 255.4,10 258.3,10.1 261.1,10.5 265.3,11.5 280.8,16.7 285.1,17.8 289.3,18.6 295,19.3 302,19.9 328.8,21.6 338.7,22L318.4,26 -20.3,3.7Z"/><path transform="translate(189.06,177.42)" d="M0,-0.1 5.6,-0.2 11.3,-0.9 16.9,-2.4 26.8,-6.3 31,-7.6 35.3,-8.3 38.1,-8.3 40.9,-7.8 45.2,-6.4 49.4,-4.4 57.9,0 63.5,2.4 69.2,3.9 76.2,4.9 107.3,7 112.9,7.2 117.1,7.1 121.4,6.6 125.6,5.8 136.9,2.2 141.1,1.1 145.4,0.6 148.2,0.7 151,1.1 155.2,2.3 167.9,7.8 173.6,9.9 179.2,11.2 184.9,12 215.9,14.2 227.2,14.6 231.4,14.4 235.7,14 251.2,11.7 255.4,11.5 258.3,11.6 261.1,11.9 265.3,12.7 280.8,17.1 289.3,18.7 302,19.9 328.8,21.6 338.7,22.1L318.4,26 -20.3,3.7Z"/><path transform="translate(188.22,177.57)" d="M0,-0.1 5.6,-0.1 11.3,-0.5 16.9,-1.6 26.8,-4.4 31,-5.4 35.3,-5.9 38.1,-5.8 40.9,-5.4 45.2,-4.3 57.9,0.9 63.5,2.8 69.2,4.1 76.2,4.9 107.3,7 117.1,7.2 121.4,6.9 125.6,6.4 136.9,3.8 141.1,3 145.4,2.7 148.2,2.8 151,3.1 155.2,4.1 167.9,8.6 173.6,10.2 179.2,11.4 184.9,12.1 215.9,14.2 227.2,14.7 235.7,14.4 251.2,12.8 258.3,12.8 265.3,13.8 280.8,17.4 289.3,18.8 302,19.9 338.7,22.1L318.4,26 -20.3,3.7Z"/><path transform="translate(187.37,177.73)" d="M0,-0.1 5.6,0 11.3,-0.2 16.9,-0.9 31,-3.6 35.3,-3.9 38.1,-3.8 40.9,-3.4 45.2,-2.5 57.9,1.6 63.5,3.1 69.2,4.2 76.2,5 107.3,7 117.1,7.3 125.6,6.8 141.1,4.6 145.4,4.4 148.2,4.5 151,4.8 155.2,5.6 167.9,9.2 173.6,10.5 179.2,11.5 184.9,12.1 215.9,14.2 227.2,14.7 235.7,14.7 251.2,13.7 258.3,13.9 265.3,14.7 280.8,17.7 289.3,18.8 302,19.9 338.7,22.2L318.4,26 -20.3,3.7Z"/><path transform="translate(186.52,177.88)" d="M0,-0.1 5.6,0.1 11.3,0 16.9,-0.4 31,-2.1 35.3,-2.2 38.1,-2.1 45.2,-1.1 57.9,2.2 63.5,3.4 69.2,4.3 76.2,5 107.3,7 117.1,7.4 125.6,7.2 141.1,5.8 148.2,5.9 155.2,6.8 167.9,9.7 173.6,10.8 184.9,12.1 215.9,14.2 227.2,14.8 235.7,14.9 251.2,14.5 258.3,14.7 265.3,15.4 280.8,17.9 289.3,18.9 302,19.9 338.7,22.2L318.4,26 -20.3,3.7Z"/><path transform="translate(185.67,178.03)" d="M0,0 11.3,0.2 16.9,0 31,-0.9 38.1,-0.8 45.2,0.1 63.5,3.6 69.2,4.4 76.2,5 107.3,7.1 117.1,7.5 125.6,7.5 141.1,6.8 148.2,7 155.2,7.8 173.6,11 184.9,12.1 227.2,14.8 235.7,15.1 251.2,15 258.3,15.3 265.3,16 280.8,18.1 289.3,18.9 338.7,22.2L318.4,26 -20.3,3.7Z"/><path transform="translate(184.83,178.19)" d="M0,0 11.3,0.4 31,0 38.1,0.2 45.2,1 63.5,3.8 76.2,5 117.1,7.6 125.6,7.7 141.1,7.5 148.2,7.8 155.2,8.5 173.6,11.1 184.9,12.1 227.2,14.9 251.2,15.5 258.3,15.8 289.3,19 338.7,22.3L318.4,26 -20.3,3.7Z"/><path transform="translate(183.98,178.34)" d="M0,0 11.3,0.5 31,0.6 38.1,0.9 45.2,1.6 63.5,3.9 76.2,5 117.1,7.6 141.1,8.1 148.2,8.4 155.2,9.1 173.6,11.2 184.9,12.2 227.2,14.9 258.3,16.2 289.3,19 338.7,22.3L318.4,26 -20.3,3.7Z"/><path transform="translate(183.13,178.5)" d="M0,0 11.3,0.6 31,1.1 38.1,1.5 63.5,4 76.2,5 117.1,7.7 148.2,8.9 173.6,11.3 184.9,12.2 227.2,14.9 258.3,16.5 289.3,19 338.7,22.3L318.4,26 -20.3,3.7Z"/><path transform="translate(182.28,178.65)" d="M0,0 38.1,1.9 76.2,5 117.1,7.7 148.2,9.2 184.9,12.2 227.2,14.9 258.3,16.7 289.3,19 338.7,22.3L318.4,26 -20.3,3.7Z"/><path transform="translate(181.44,178.8)" d="M0,0 38.1,2.1 76.2,5 117.1,7.7 148.2,9.4 184.9,12.2 258.3,16.8 338.7,22.3L318.4,26 -20.3,3.7Z"/><path transform="translate(180.59,178.96)" d="M0,0 38.1,2.3 76.2,5 148.2,9.6 184.9,12.2 338.7,22.3L318.4,26 -20.3,3.7Z"/><path transform="translate(179.74,179.11)" d="M0,0 338.7,22.3L318.4,26 -20.3,3.7Z"/><path transform="translate(178.89,179.26)" d="M0,0 338.7,22.3L318.4,26 -20.3,3.7Z"/><path transform="translate(178.05,179.42)" d="M0,0 338.7,22.3L318.4,26 -20.3,3.7Z"/><path transform="translate(177.2,179.57)" d="M0,0 338.7,22.3L318.4,26 -20.3,3.7Z"/><path transform="translate(176.35,179.72)" d="M0,0 338.7,22.3L318.4,26 -20.3,3.7Z"/><path transform="translate(175.5,179.88)" d="M0,0 338.7,22.3L318.4,26 -20.3,3.7Z"/><path transform="translate(174.66,180.03)" d="M0,0 338.7,22.3L318.4,26 -20.3,3.7Z"/><path transform="translate(173.81,180.19)" d="M0,0 338.7,22.3L318.4,26 -20.3,3.7Z"/><path transform="translate(172.96,180.34)" d="M0,0 338.7,22.3L318.4,26 -20.3,3.7Z"/><path transform="translate(172.11,180.49)" d="M0,0 338.7,22.3L318.4,26 -20.3,3.7Z"/><path transform="translate(171.27,180.65)" d="M0,0 338.7,22.3L318.4,26 -20.3,3.7Z"/><path transform="translate(170.42,180.8)" d="M0,0 338.7,22.3L318.4,26 -20.3,3.7Z"/><path transform="translate(169.57,180.96)" d="M0,0 338.7,22.3L318.4,26 -20.3,3.7Z"/><path transform="translate(168.72,181.11)" d="M0,0 338.7,22.3L318.4,26 -20.3,3.7Z"/><path transform="translate(167.88,181.26)" d="M0,0 338.7,22.3L318.4,26 -20.3,3.7Z"/><path transform="translate(167.03,181.42)" d="M0,0 338.7,22.3L318.4,26 -20.3,3.7Z"/><path transform="translate(166.18,181.57)" d="M0,0 338.7,22.3L318.4,26 -20.3,3.7Z"/><path transform="translate(165.33,181.72)" d="M0,0 338.7,22.3L318.4,26 -20.3,3.7Z"/><path transform="translate(164.49,181.88)" d="M0,0 38.1,2.3 76.2,5 148.2,9.6 184.9,12.2 338.7,22.3L318.4,26 -20.3,3.7Z"/><path transform="translate(163.64,182.03)" d="M0,0 38.1,2.1 76.2,5 117.1,7.7 148.2,9.4 184.9,12.2 258.3,16.8 338.7,22.3L318.4,26 -20.3,3.7Z"/><path transform="translate(162.79,182.19)" d="M0,0 38.1,1.9 76.2,5 117.1,7.7 148.2,9.2 184.9,12.2 227.2,14.9 258.3,16.7 289.3,19 338.7,22.3L318.4,26 -20.3,3.7Z"/><path transform="translate(161.94,182.34)" d="M0,0 11.3,0.6 38.1,1.6 63.5,4 76.2,5 117.1,7.7 148.2,9 184.9,12.2 227.2,14.9 258.3,16.5 289.3,19 338.7,22.3L318.4,26 -20.3,3.7Z"/><path transform="translate(161.09,182.49)" d="M0,0 11.3,0.5 31,0.8 38.1,1.1 45.2,1.7 63.5,3.9 76.2,5 117.1,7.6 141.1,8.2 148.2,8.5 155.2,9.2 173.6,11.2 184.9,12.2 227.2,14.9 258.3,16.3 289.3,19 338.7,22.3L318.4,26 -20.3,3.7Z"/><path transform="translate(160.25,182.65)" d="M0,0 11.3,0.4 31,0.2 38.1,0.4 45.2,1.2 63.5,3.8 76.2,5 117.1,7.6 125.6,7.8 141.1,7.7 148.2,8 155.2,8.7 173.6,11.1 184.9,12.1 227.2,14.9 258.3,16 289.3,19 338.7,22.3L318.4,26 -20.3,3.7Z"/><path transform="translate(159.4,182.8)" d="M0,0 11.3,0.3 31,-0.6 38.1,-0.4 45.2,0.4 63.5,3.7 76.2,5 107.3,7.1 117.1,7.5 125.6,7.6 141.1,7.1 148.2,7.3 155.2,8.1 173.6,11 184.9,12.1 227.2,14.9 235.7,15.1 251.2,15.2 258.3,15.5 265.3,16.2 280.8,18.1 289.3,19 338.7,22.2L318.4,26 -20.3,3.7Z"/><path transform="translate(158.55,182.95)" d="M0,0 11.3,0.1 16.9,-0.2 31,-1.5 38.1,-1.5 45.2,-0.5 57.9,2.4 63.5,3.5 69.2,4.3 76.2,5 107.3,7 117.1,7.5 125.6,7.3 141.1,6.3 148.2,6.4 155.2,7.3 173.6,10.9 184.9,12.1 227.2,14.8 235.7,15 251.2,14.7 258.3,15 265.3,15.7 280.8,18 289.3,18.9 338.7,22.2L318.4,26 -20.3,3.7Z"/><path transform="translate(157.71,183.11)" d="M0,-0.1 5.6,0.1 11.3,-0.1 16.9,-0.6 31,-2.7 35.3,-2.9 38.1,-2.8 40.9,-2.5 45.2,-1.7 57.9,1.9 63.5,3.3 69.2,4.2 76.2,5 107.3,7 117.1,7.4 125.6,7 141.1,5.3 145.4,5.2 148.2,5.3 155.2,6.3 167.9,9.5 173.6,10.7 179.2,11.5 184.9,12.1 215.9,14.2 227.2,14.8 235.7,14.8 251.2,14.1 258.3,14.3 265.3,15.1 280.8,17.8 289.3,18.9 302,19.9 338.7,22.2L318.4,26 -20.3,3.7Z"/><path transform="translate(156.86,183.26)" d="M0,-0.1 5.6,0 11.3,-0.3 16.9,-1.2 26.8,-3.4 31,-4.2 35.3,-4.5 38.1,-4.4 40.9,-4.1 45.2,-3.1 57.9,1.4 63.5,3 69.2,4.1 76.2,5 107.3,7 117.1,7.3 121.4,7.1 125.6,6.7 141.1,4.1 145.4,3.8 148.2,3.9 151,4.3 155.2,5.1 167.9,9 173.6,10.4 179.2,11.4 184.9,12.1 215.9,14.2 227.2,14.7 235.7,14.6 251.2,13.4 258.3,13.5 265.3,14.4 280.8,17.6 289.3,18.8 302,19.9 338.7,22.2L318.4,26 -20.3,3.7Z"/><path transform="translate(156.01,183.41)" d="M0,-0.1 5.6,-0.1 11.3,-0.6 16.9,-1.8 26.8,-4.8 31,-5.9 35.3,-6.4 38.1,-6.3 40.9,-5.9 45.2,-4.7 57.9,0.7 63.5,2.7 69.2,4 76.2,4.9 107.3,7 117.1,7.2 121.4,6.9 125.6,6.2 136.9,3.5 141.1,2.6 145.4,2.2 148.2,2.3 151,2.7 155.2,3.7 167.9,8.4 173.6,10.2 179.2,11.3 184.9,12.1 215.9,14.2 227.2,14.7 235.7,14.3 251.2,12.6 255.4,12.4 258.3,12.6 265.3,13.6 280.8,17.4 289.3,18.8 302,19.9 338.7,22.1L318.4,26 -20.3,3.7Z"/><path transform="translate(155.16,183.57)" d="M0,-0.1 5.6,-0.2 11.3,-0.9 16.9,-2.5 26.8,-6.5 31,-7.9 35.3,-8.6 38.1,-8.5 40.9,-8.1 45.2,-6.7 49.4,-4.6 57.9,-0.1 63.5,2.3 69.2,3.9 76.2,4.9 107.3,7 112.9,7.2 117.1,7.1 121.4,6.6 125.6,5.7 136.9,2.1 141.1,1 145.4,0.4 148.2,0.5 151,0.9 155.2,2.1 167.9,7.8 173.6,9.8 179.2,11.2 184.9,12 215.9,14.2 227.2,14.6 231.4,14.4 235.7,14 251.2,11.6 255.4,11.4 258.3,11.5 261.1,11.8 265.3,12.6 280.8,17.1 289.3,18.7 302,19.9 328.8,21.6 338.7,22.1L318.4,26 -20.3,3.7Z"/><path transform="translate(154.31,183.72)" d="M0,-0.2 5.6,-0.3 11.3,-1.3 14.1,-2.2 16.9,-3.3 26.8,-8.3 31,-10.1 35.3,-11 38.1,-11 40.9,-10.5 45.2,-8.9 49.4,-6.4 57.9,-1 63.5,1.9 69.2,3.7 76.2,4.9 107.3,7 112.9,7.1 117.1,6.9 121.4,6.3 125.6,5.1 129.8,3.5 136.9,0.5 141.1,-0.9 145.4,-1.7 148.2,-1.6 151,-1.2 155.2,0.3 159.5,2.4 167.9,7 173.6,9.5 179.2,11.1 184.9,12 191.9,12.6 215.9,14.2 223,14.5 227.2,14.5 231.4,14.2 235.7,13.7 247,11.2 251.2,10.4 255.4,10.1 258.3,10.2 261.1,10.6 265.3,11.5 280.8,16.8 285.1,17.8 289.3,18.6 295,19.3 302,19.9 328.8,21.6 338.7,22.1L318.4,26 -20.3,3.7Z"/><path transform="translate(153.47,183.88)" d="M0,-0.2 5.6,-0.5 8.5,-1 11.3,-1.7 14.1,-2.8 16.9,-4.2 26.8,-10.4 31,-12.6 33.9,-13.5 35.3,-13.8 38.1,-13.8 40.9,-13.3 42.3,-12.7 45.2,-11.3 49.4,-8.4 57.9,-1.9 60.7,-0.1 63.5,1.4 66.3,2.6 69.2,3.6 72,4.2 76.2,4.9 83.3,5.5 107.3,7 112.9,7.1 117.1,6.8 121.4,5.9 125.6,4.5 129.8,2.5 136.9,-1.3 141.1,-3.1 145.4,-4 148.2,-4 151,-3.5 155.2,-1.8 159.5,0.7 167.9,6.2 173.6,9.1 179.2,10.9 184.9,12 191.9,12.6 215.9,14.2 223,14.5 227.2,14.4 231.4,14 235.7,13.3 247,10.1 251.2,9.2 255.4,8.7 258.3,8.8 261.1,9.2 265.3,10.3 280.8,16.4 285.1,17.6 289.3,18.5 295,19.3 302,19.9 328.8,21.6 338.7,22L318.4,26 -20.3,3.7Z"/><path transform="translate(152.62,184.03)" d="M0,-0.2 5.6,-0.6 8.5,-1.3 11.3,-2.2 14.1,-3.5 16.9,-5.2 26.8,-12.7 31,-15.4 33.9,-16.5 35.3,-16.8 38.1,-16.9 40.9,-16.3 42.3,-15.7 45.2,-14 49.4,-10.6 57.9,-3 60.7,-0.9 63.5,0.9 66.3,2.3 69.2,3.4 72,4.1 76.2,4.8 83.3,5.5 107.3,7 112.9,7 117.1,6.6 121.4,5.5 125.6,3.8 129.8,1.4 136.9,-3.2 141.1,-5.4 143.9,-6.3 145.4,-6.6 148.2,-6.6 151,-6 155.2,-4.1 159.5,-1.2 167.9,5.3 170.8,7.1 173.6,8.6 176.4,9.9 179.2,10.8 184.9,11.9 191.9,12.6 215.9,14.2 223,14.4 227.2,14.3 231.4,13.8 235.7,12.9 247,9 251.2,7.8 255.4,7.2 258.3,7.2 261.1,7.7 265.3,9 280.8,16 285.1,17.4 289.3,18.4 295,19.3 302,19.9 328.8,21.6 338.7,21.9L318.4,26 -20.3,3.7Z"/><path transform="translate(151.77,184.18)" d="M0,-0.3 2.8,-0.4 5.6,-0.8 8.5,-1.6 11.3,-2.7 14.1,-4.3 16.9,-6.3 26.8,-15.2 31,-18.4 33.9,-19.7 35.3,-20.1 38.1,-20.3 40.9,-19.5 42.3,-18.8 45.2,-16.9 49.4,-13 57.9,-4.2 60.7,-1.7 63.5,0.4 66.3,2 69.2,3.2 72,4 76.2,4.8 83.3,5.5 107.3,7 112.9,6.9 117.1,6.4 121.4,5.1 125.6,3 129.8,0.1 136.9,-5.3 141.1,-7.9 143.9,-9 145.4,-9.3 148.2,-9.4 151,-8.7 152.4,-8.2 155.2,-6.5 159.5,-3.2 167.9,4.3 170.8,6.4 173.6,8.2 176.4,9.6 179.2,10.6 184.9,11.9 191.9,12.6 215.9,14.2 223,14.4 227.2,14.2 231.4,13.6 235.7,12.4 239.9,10.8 247,7.7 251.2,6.3 255.4,5.5 258.3,5.6 261.1,6 265.3,7.5 269.5,9.6 276.6,13.5 280.8,15.6 285.1,17.2 289.3,18.3 295,19.2 302,19.9 328.8,21.6 338.7,21.9L318.4,26 -20.3,3.7Z"/><path transform="translate(150.93,184.34)" d="M0,-0.3 2.8,-0.5 5.6,-1 8.5,-1.9 11.3,-3.2 14.1,-5.1 16.9,-7.5 26.8,-17.8 31,-21.5 33.9,-23.1 35.3,-23.6 36.7,-23.8 38.1,-23.8 40.9,-23 42.3,-22.2 45.2,-20 49.4,-15.5 57.9,-5.5 60.7,-2.6 63.5,-0.2 66.3,1.6 69.2,3 72,3.9 76.2,4.8 83.3,5.5 107.3,7 112.9,6.9 117.1,6.2 121.4,4.7 125.6,2.2 129.8,-1.2 136.9,-7.5 141.1,-10.6 143.9,-11.9 145.4,-12.3 148.2,-12.4 151,-11.6 152.4,-11 155.2,-9.1 159.5,-5.3 167.9,3.2 170.8,5.6 173.6,7.7 176.4,9.2 179.2,10.4 182.1,11.3 184.9,11.8 191.9,12.6 215.9,14.2 223,14.4 227.2,14.1 231.4,13.3 235.7,11.9 239.9,10 247,6.4 251.2,4.7 255.4,3.8 258.3,3.8 261.1,4.3 265.3,5.9 269.5,8.3 276.6,12.8 280.8,15.1 285.1,16.9 289.3,18.2 295,19.2 302,19.9 328.8,21.6 338.7,21.8L318.4,26 -20.3,3.7Z"/><path transform="translate(150.08,184.49)" d="M0,-0.4 2.8,-0.6 5.6,-1.2 8.5,-2.2 11.3,-3.8 14.1,-6 16.9,-8.7 19.8,-11.9 26.8,-20.6 31,-24.8 33.9,-26.7 35.3,-27.2 36.7,-27.5 38.1,-27.5 39.5,-27.2 40.9,-26.6 42.3,-25.7 45.2,-23.2 49.4,-18.2 57.9,-6.7 60.7,-3.5 63.5,-0.9 66.3,1.2 69.2,2.7 72,3.8 76.2,4.7 83.3,5.5 107.3,7 112.9,6.8 117.1,6 121.4,4.2 125.6,1.3 129.8,-2.5 136.9,-9.8 141.1,-13.4 143.9,-14.9 145.4,-15.3 146.8,-15.5 148.2,-15.5 151,-14.7 152.4,-13.9 155.2,-11.8 159.5,-7.5 167.9,2.1 170.8,4.9 173.6,7.1 176.4,8.9 179.2,10.2 182.1,11.2 184.9,11.8 191.9,12.6 215.9,14.2 223,14.3 227.2,14 231.4,13 235.7,11.4 239.9,9.2 247,5 251.2,3 254,2.2 255.4,2 258.3,1.9 261.1,2.5 265.3,4.3 269.5,7 276.6,12 280.8,14.7 285.1,16.7 289.3,18.1 295,19.2 302,19.9 328.8,21.6 338.7,21.8L318.4,26 -20.3,3.7Z"/><path transform="translate(149.23,184.65)" d="M0,-0.4 2.8,-0.7 5.6,-1.4 8.5,-2.6 11.3,-4.4 14.1,-6.8 16.9,-9.9 19.8,-13.5 26.8,-23.4 29.6,-26.8 31,-28.2 33.9,-30.3 35.3,-30.9 36.7,-31.3 38.1,-31.2 39.5,-30.9 40.9,-30.2 42.3,-29.3 45.2,-26.5 49.4,-20.8 57.9,-8.1 60.7,-4.5 63.5,-1.5 66.3,0.8 69.2,2.5 72,3.7 76.2,4.7 83.3,5.5 107.3,6.9 112.9,6.7 117.1,5.8 120,4.6 121.4,3.7 125.6,0.5 129.8,-3.9 136.9,-12.2 141.1,-16.2 143.9,-17.9 145.4,-18.4 146.8,-18.7 148.2,-18.6 149.6,-18.3 151,-17.8 152.4,-16.9 155.2,-14.6 159.5,-9.8 167.9,1 170.8,4.1 173.6,6.6 176.4,8.6 179.2,10 182.1,11.1 184.9,11.7 191.9,12.6 215.9,14.2 223,14.3 227.2,13.8 231.4,12.7 235.7,10.9 239.9,8.4 247,3.6 251.2,1.3 254,0.4 255.4,0.1 258.3,0.1 261.1,0.7 262.5,1.2 265.3,2.7 269.5,5.7 276.6,11.3 280.8,14.2 285.1,16.4 289.3,18 295,19.1 302,19.9 328.8,21.6 334.5,21.8 338.7,21.7L318.4,26 -20.3,3.7Z"/><path transform="translate(148.38,184.8)" d="M0,-0.4 2.8,-0.8 5.6,-1.6 8.5,-2.9 11.3,-4.9 14.1,-7.7 16.9,-11.2 19.8,-15.2 26.8,-26.2 29.6,-30 31,-31.6 33.9,-34 35.3,-34.7 36.7,-35 38.1,-35 39.5,-34.6 40.9,-33.9 42.3,-32.9 45.2,-29.8 49.4,-23.5 57.9,-9.4 60.7,-5.4 63.5,-2.1 66.3,0.4 69.2,2.3 72,3.6 76.2,4.7 83.3,5.5 107.3,6.9 112.9,6.6 117.1,5.5 120,4.2 121.4,3.3 125.6,-0.4 129.8,-5.3 136.9,-14.5 139.7,-17.7 141.1,-19.1 143.9,-21 145.4,-21.6 146.8,-21.9 148.2,-21.8 149.6,-21.5 151,-20.9 152.4,-19.9 155.2,-17.4 159.5,-12 167.9,-0.1 170.8,3.3 173.6,6.1 176.4,8.2 179.2,9.8 182.1,10.9 184.9,11.7 191.9,12.6 215.9,14.2 223,14.2 227.2,13.7 231.4,12.5 235.7,10.4 239.9,7.5 247,2.2 251.2,-0.4 254,-1.5 255.4,-1.8 258.3,-1.8 261.1,-1.2 262.5,-0.6 265.3,1 269.5,4.3 276.6,10.5 280.8,13.7 285.1,16.2 289.3,17.8 295,19.1 302,19.9 328.8,21.6 334.5,21.8 338.7,21.6L318.4,26 -20.3,3.7Z"/><path transform="translate(147.53,184.95)" d="M0,-0.5 2.8,-0.9 5.6,-1.8 8.5,-3.3 11.3,-5.5 14.1,-8.6 16.9,-12.4 19.8,-16.9 26.8,-29 29.6,-33.2 31,-35 32.5,-36.4 33.9,-37.6 35.3,-38.3 36.7,-38.7 38.1,-38.7 39.5,-38.3 40.9,-37.6 42.3,-36.4 45.2,-33.1 49.4,-26.2 57.9,-10.7 60.7,-6.4 63.5,-2.8 66.3,0 69.2,2.1 72,3.4 76.2,4.6 83.3,5.5 107.3,6.9 110.1,6.9 112.9,6.6 117.1,5.3 120,3.8 121.4,2.8 122.8,1.6 125.6,-1.3 129.8,-6.7 136.9,-16.9 139.7,-20.4 141.1,-21.9 143.9,-24 145.4,-24.7 146.8,-25 148.2,-25 149.6,-24.6 151,-23.9 152.4,-22.9 155.2,-20.1 159.5,-14.3 167.9,-1.2 170.8,2.5 173.6,5.5 176.4,7.9 179.2,9.6 182.1,10.8 184.9,11.6 191.9,12.6 215.9,14.2 223,14.2 227.2,13.6 231.4,12.2 235.7,9.9 239.9,6.7 247,0.8 251.2,-2.1 254,-3.3 255.4,-3.6 258.3,-3.7 261.1,-3 262.5,-2.4 265.3,-0.6 269.5,3 276.6,9.7 280.8,13.2 285.1,15.9 289.3,17.7 295,19.1 302,19.9 328.8,21.6 334.5,21.7 338.7,21.5L318.4,26 -20.3,3.7Z"/><path transform="translate(146.69,185.11)" d="M0,-0.5 2.8,-1 5.6,-2 8.5,-3.6 11.3,-6.1 14.1,-9.4 16.9,-13.6 19.8,-18.4 26.8,-31.7 29.6,-36.2 31,-38.2 32.5,-39.8 33.9,-41 35.3,-41.9 36.7,-42.3 38.1,-42.3 39.5,-41.9 40.9,-41.1 42.3,-39.8 45.2,-36.2 49.4,-28.8 57.9,-12 60.7,-7.3 63.5,-3.4 66.3,-0.3 69.2,1.8 72,3.3 76.2,4.6 83.3,5.5 107.3,6.9 110.1,6.8 112.9,6.5 115.7,5.7 117.1,5.1 120,3.5 121.4,2.4 122.8,1.1 125.6,-2.1 129.8,-8 136.9,-19.1 139.7,-23 141.1,-24.6 143.9,-27 145.4,-27.7 146.8,-28 148.2,-28 149.6,-27.6 151,-26.9 152.4,-25.8 155.2,-22.7 159.5,-16.4 167.9,-2.3 170.8,1.7 173.6,5 176.4,7.6 179.2,9.5 182.1,10.7 184.9,11.6 187.7,12.1 191.9,12.6 215.9,14.2 223,14.1 227.2,13.5 231.4,11.9 235.7,9.4 239.9,5.9 247,-0.5 251.2,-3.7 254,-5 255.4,-5.4 258.3,-5.5 261.1,-4.8 262.5,-4.1 265.3,-2.2 269.5,1.7 276.6,9 280.8,12.8 285.1,15.7 289.3,17.6 292.1,18.5 295,19 302,19.9 328.8,21.6 334.5,21.7 338.7,21.5L318.4,26 -20.3,3.7Z"/><path transform="translate(145.84,185.26)" d="M0,-0.6 2.8,-1.1 5.6,-2.2 8.5,-3.9 11.3,-6.6 14.1,-10.2 16.9,-14.7 19.8,-19.9 26.8,-34.2 29.6,-39.1 31,-41.2 32.5,-42.9 33.9,-44.3 35.3,-45.2 36.7,-45.7 38.1,-45.7 39.5,-45.2 40.9,-44.3 42.3,-43 45.2,-39.1 49.4,-31.2 57.9,-13.2 60.7,-8.1 63.5,-3.9 66.3,-0.7 69.2,1.6 72,3.2 76.2,4.6 83.3,5.5 101.6,6.7 107.3,6.9 110.1,6.8 112.9,6.4 115.7,5.6 117.1,4.9 120,3.1 121.4,1.9 122.8,0.5 125.6,-2.9 129.8,-9.3 136.9,-21.3 139.7,-25.4 141.1,-27.1 142.5,-28.6 143.9,-29.7 145.4,-30.5 146.8,-30.8 148.2,-30.8 149.6,-30.4 151,-29.6 152.4,-28.5 155.2,-25.2 159.5,-18.5 167.9,-3.3 170.8,1 173.6,4.5 176.4,7.3 179.2,9.3 182.1,10.6 184.9,11.5 187.7,12.1 191.9,12.6 215.9,14.2 223,14.1 227.2,13.3 231.4,11.7 235.7,8.9 239.9,5.2 247,-1.8 251.2,-5.2 254,-6.7 255.4,-7.1 258.3,-7.2 261.1,-6.4 262.5,-5.7 265.3,-3.6 269.5,0.5 276.6,8.3 280.8,12.3 285.1,15.4 289.3,17.5 292.1,18.4 295,19 302,19.9 328.8,21.6 334.5,21.7 338.7,21.4L318.4,26 -20.3,3.7Z"/><path transform="translate(144.99,185.41)" d="M0,-0.6 2.8,-1.2 5.6,-2.3 8.5,-4.2 11.3,-7 14.1,-10.9 16.9,-15.7 19.8,-21.3 26.8,-36.5 29.6,-41.7 31,-43.9 32.5,-45.8 33.9,-47.2 35.3,-48.2 36.7,-48.7 38.1,-48.8 39.5,-48.3 40.9,-47.3 42.3,-45.9 45.2,-41.8 49.4,-33.4 57.9,-14.2 60.7,-8.9 63.5,-4.4 66.3,-1 69.2,1.5 72,3.1 76.2,4.5 79,5 83.3,5.5 101.6,6.7 107.3,6.9 110.1,6.8 112.9,6.3 115.7,5.4 117.1,4.7 120,2.8 121.4,1.5 122.8,0.1 125.6,-3.6 129.8,-10.4 136.9,-23.2 139.7,-27.6 141.1,-29.5 142.5,-31 143.9,-32.2 145.4,-33 146.8,-33.4 148.2,-33.4 149.6,-33 151,-32.2 152.4,-30.9 155.2,-27.5 159.5,-20.3 167.9,-4.2 170.8,0.3 173.6,4.1 176.4,7 179.2,9.1 182.1,10.6 184.9,11.5 187.7,12.1 191.9,12.6 215.9,14.2 220.2,14.2 223,14.1 227.2,13.2 231.4,11.5 235.7,8.5 239.9,4.5 247,-3 251.2,-6.6 254,-8.2 255.4,-8.6 256.8,-8.8 258.3,-8.8 261.1,-7.9 262.5,-7.1 265.3,-5 269.5,-0.6 276.6,7.6 280.8,11.9 285.1,15.2 289.3,17.4 292.1,18.4 295,19 302,19.9 328.8,21.6 334.5,21.7 338.7,21.4L318.4,26 -20.3,3.7Z"/><path transform="translate(144.15,185.57)" d="M0,-0.6 2.8,-1.3 5.6,-2.5 8.5,-4.5 11.3,-7.4 14.1,-11.5 16.9,-16.5 19.8,-22.5 26.8,-38.5 29.6,-44 31,-46.4 32.5,-48.3 33.9,-49.8 35.3,-50.9 36.7,-51.4 38.1,-51.5 39.5,-51 40.9,-50 42.3,-48.5 45.2,-44.2 49.4,-35.3 57.9,-15.2 60.7,-9.5 63.5,-4.9 66.3,-1.3 69.2,1.3 72,3 76.2,4.5 79,5 83.3,5.5 101.6,6.7 107.3,6.9 110.1,6.7 112.9,6.3 115.7,5.3 117.1,4.6 120,2.5 121.4,1.2 122.8,-0.4 125.6,-4.2 129.8,-11.4 136.9,-24.9 139.7,-29.6 141.1,-31.5 142.5,-33.1 143.9,-34.4 145.4,-35.2 146.8,-35.7 148.2,-35.7 149.6,-35.2 151,-34.4 152.4,-33.1 155.2,-29.4 159.5,-21.9 167.9,-5 170.8,-0.2 173.6,3.7 176.4,6.7 179.2,9 182.1,10.5 184.9,11.5 187.7,12.1 191.9,12.6 215.9,14.2 220.2,14.2 223,14 227.2,13.2 231.4,11.3 235.7,8.1 239.9,3.9 247,-4 251.2,-7.8 254,-9.5 255.4,-9.9 256.8,-10.2 258.3,-10.1 259.7,-9.8 261.1,-9.2 262.5,-8.4 265.3,-6.2 269.5,-1.6 276.6,7.1 280.8,11.6 285.1,15 289.3,17.3 292.1,18.3 295,19 302,19.8 328.8,21.6 334.5,21.6 338.7,21.3L318.4,26 -20.3,3.7Z"/><path transform="translate(143.3,185.72)" d="M0,-0.7 2.8,-1.3 5.6,-2.6 8.5,-4.7 11.3,-7.8 14.1,-12 16.9,-17.3 19.8,-23.5 26.8,-40.2 29.6,-46 31,-48.4 32.5,-50.5 33.9,-52 35.3,-53.1 36.7,-53.7 38.1,-53.7 39.5,-53.2 40.9,-52.2 42.3,-50.6 45.2,-46.2 49.4,-36.9 57.9,-16 60.7,-10.1 63.5,-5.3 66.3,-1.5 69.2,1.2 72,3 73.4,3.6 76.2,4.5 79,5 83.3,5.5 101.6,6.7 107.3,6.9 110.1,6.7 112.9,6.2 115.7,5.2 117.1,4.5 120,2.3 121.4,0.9 122.8,-0.7 125.6,-4.7 129.8,-12.2 136.9,-26.3 139.7,-31.2 141.1,-33.2 142.5,-34.9 143.9,-36.2 145.4,-37.1 146.8,-37.6 148.2,-37.6 149.6,-37.1 151,-36.2 152.4,-34.9 155.2,-31.1 159.5,-23.3 167.9,-5.7 170.8,-0.7 173.6,3.4 176.4,6.5 179.2,8.9 182.1,10.4 184.9,11.4 187.7,12.1 191.9,12.6 215.9,14.2 220.2,14.2 223,14 227.2,13.1 230,11.9 231.4,11.1 235.7,7.8 239.9,3.4 247,-4.8 251.2,-8.8 254,-10.6 255.4,-11.1 256.8,-11.3 258.3,-11.3 259.7,-10.9 261.1,-10.4 262.5,-9.5 265.3,-7.2 269.5,-2.4 276.6,6.6 280.8,11.3 285.1,14.9 289.3,17.2 292.1,18.3 295,19 302,19.8 328.8,21.6 334.5,21.6 338.7,21.3L318.4,26 -20.3,3.7Z"/><path transform="translate(142.45,185.88)" d="M0,-0.7 2.8,-1.4 5.6,-2.7 8.5,-4.8 11.3,-8.1 14.1,-12.4 16.9,-17.9 19.8,-24.2 26.8,-41.5 29.6,-47.5 31,-50 32.5,-52.1 33.9,-53.8 35.3,-54.9 36.7,-55.5 38.1,-55.5 39.5,-55 40.9,-53.9 42.3,-52.3 45.2,-47.7 49.4,-38.2 57.9,-16.6 60.7,-10.6 63.5,-5.6 66.3,-1.7 69.2,1 72,2.9 73.4,3.6 76.2,4.5 79,5 83.3,5.5 101.6,6.7 107.3,6.9 110.1,6.7 112.9,6.2 115.7,5.1 117.1,4.4 120,2.1 121.4,0.7 122.8,-1 125.6,-5.1 129.8,-12.9 136.9,-27.4 139.7,-32.5 141.1,-34.6 142.5,-36.3 143.9,-37.7 145.4,-38.6 146.8,-39.1 148.2,-39.1 149.6,-38.6 151,-37.7 152.4,-36.3 155.2,-32.4 159.5,-24.4 167.9,-6.2 170.8,-1.1 173.6,3.1 176.4,6.4 179.2,8.8 182.1,10.4 184.9,11.4 187.7,12.1 191.9,12.6 215.9,14.2 220.2,14.2 223,14 227.2,13 230,11.8 231.4,11 235.7,7.6 239.9,3 247,-5.5 251.2,-9.7 254,-11.4 255.4,-11.9 256.8,-12.2 258.3,-12.1 259.7,-11.8 261.1,-11.2 262.5,-10.4 265.3,-8 269.5,-3 276.6,6.2 280.8,11.1 285.1,14.7 289.3,17.2 292.1,18.2 295,18.9 302,19.8 328.8,21.6 334.5,21.6 338.7,21.2L318.4,26 -20.3,3.7Z"/><path transform="translate(141.6,186.03)" d="M0,-0.7 2.8,-1.4 5.6,-2.7 8.5,-5 11.3,-8.3 14.1,-12.7 16.9,-18.3 19.8,-24.8 26.8,-42.4 29.6,-48.6 31,-51.1 32.5,-53.3 33.9,-55 35.3,-56.1 36.7,-56.7 38.1,-56.8 39.5,-56.2 40.9,-55.2 42.3,-53.5 45.2,-48.8 49.4,-39.1 57.9,-17.1 60.7,-10.9 63.5,-5.8 66.3,-1.9 69.2,1 72,2.9 73.4,3.5 76.2,4.5 79,5 83.3,5.5 101.6,6.7 107.3,6.9 110.1,6.7 112.9,6.2 115.7,5.1 117.1,4.3 120,2 121.4,0.5 122.8,-1.2 125.6,-5.4 129.8,-13.4 136.9,-28.2 139.7,-33.4 141.1,-35.5 142.5,-37.3 143.9,-38.7 145.4,-39.7 146.8,-40.1 148.2,-40.1 149.6,-39.7 151,-38.7 152.4,-37.3 155.2,-33.3 159.5,-25.1 167.9,-6.6 170.8,-1.4 173.6,2.9 176.4,6.3 179.2,8.7 182.1,10.3 184.9,11.4 187.7,12 191.9,12.6 215.9,14.2 220.2,14.2 223,14 227.2,13 230,11.7 231.4,10.9 235.7,7.4 239.9,2.8 247,-6 249.8,-9 251.2,-10.2 254,-12 255.4,-12.6 256.8,-12.8 258.3,-12.8 259.7,-12.4 261.1,-11.8 262.5,-11 265.3,-8.5 269.5,-3.5 276.6,6 280.8,10.9 285.1,14.7 289.3,17.1 292.1,18.2 295,18.9 302,19.8 328.8,21.6 334.5,21.6 338.7,21.2L318.4,26 -20.3,3.7Z"/><path transform="translate(140.75,186.18)" d="M0,-0.7 2.8,-1.4 5.6,-2.8 8.5,-5 11.3,-8.4 14.1,-12.9 16.9,-18.5 19.8,-25.1 26.8,-42.9 29.6,-49.1 31,-51.7 32.5,-53.9 33.9,-55.6 35.3,-56.8 36.7,-57.4 38.1,-57.5 39.5,-56.9 40.9,-55.8 42.3,-54.2 45.2,-49.4 49.4,-39.6 57.9,-17.3 60.7,-11.1 63.5,-5.9 66.3,-1.9 69.2,0.9 72,2.8 73.4,3.5 76.2,4.5 79,5 83.3,5.5 101.6,6.7 107.3,6.9 110.1,6.7 112.9,6.2 115.7,5.1 117.1,4.2 120,2 121.4,0.4 122.8,-1.3 125.6,-5.6 129.8,-13.6 136.9,-28.6 139.7,-33.9 141.1,-36 142.5,-37.8 143.9,-39.3 145.4,-40.2 146.8,-40.7 148.2,-40.7 149.6,-40.2 151,-39.3 152.4,-37.9 155.2,-33.8 159.5,-25.5 167.9,-6.8 170.8,-1.5 173.6,2.8 176.4,6.2 179.2,8.7 182.1,10.3 184.9,11.4 187.7,12 191.9,12.6 215.9,14.2 220.2,14.2 223,14 227.2,13 230,11.7 231.4,10.8 235.7,7.3 239.9,2.6 247,-6.2 249.8,-9.3 251.2,-10.5 254,-12.4 255.4,-12.9 256.8,-13.2 258.3,-13.1 259.7,-12.8 261.1,-12.2 262.5,-11.3 265.3,-8.8 269.5,-3.7 276.6,5.8 280.8,10.8 285.1,14.6 289.3,17.1 292.1,18.2 295,18.9 302,19.8 328.8,21.6 334.5,21.6 338.7,21.2L318.4,26 -20.3,3.7Z"/><path transform="translate(139.91,186.34)" d="M0,-0.7 2.8,-1.4 5.6,-2.8 8.5,-5 11.3,-8.4 14.1,-12.9 16.9,-18.5 19.8,-25.1 26.8,-43 29.6,-49.2 31,-51.8 32.5,-54 33.9,-55.7 35.3,-56.9 36.7,-57.5 38.1,-57.6 39.5,-57 40.9,-55.9 42.3,-54.3 45.2,-49.5 49.4,-39.6 57.9,-17.3 60.7,-11.1 63.5,-5.9 66.3,-1.9 69.2,0.9 72,2.8 73.4,3.5 76.2,4.5 79,5 83.3,5.5 101.6,6.7 107.3,6.9 110.1,6.7 112.9,6.2 115.7,5.1 117.1,4.2 120,1.9 121.4,0.4 122.8,-1.3 125.6,-5.6 129.8,-13.7 136.9,-28.7 139.7,-33.9 141.1,-36.1 142.5,-37.9 143.9,-39.3 145.4,-40.3 146.8,-40.8 148.2,-40.8 149.6,-40.3 151,-39.4 152.4,-38 155.2,-33.9 159.5,-25.6 167.9,-6.8 170.8,-1.5 173.6,2.8 176.4,6.2 179.2,8.7 182.1,10.3 184.9,11.4 187.7,12 191.9,12.6 215.9,14.2 220.2,14.2 223,14 227.2,13 230,11.7 231.4,10.8 235.7,7.3 239.9,2.6 247,-6.3 249.8,-9.3 251.2,-10.6 254,-12.4 255.4,-13 256.8,-13.2 258.3,-13.2 259.7,-12.8 261.1,-12.2 262.5,-11.3 265.3,-8.8 269.5,-3.8 276.6,5.8 280.8,10.8 285.1,14.6 289.3,17.1 292.1,18.2 295,18.9 302,19.8 328.8,21.6 334.5,21.6 338.7,21.2L318.4,26 -20.3,3.7Z"/><path transform="translate(139.06,186.49)" d="M0,-0.7 2.8,-1.4 5.6,-2.8 8.5,-5 11.3,-8.3 14.1,-12.8 16.9,-18.4 19.8,-24.9 26.8,-42.7 29.6,-48.8 31,-51.4 32.5,-53.6 33.9,-55.3 35.3,-56.4 36.7,-57.1 38.1,-57.1 39.5,-56.6 40.9,-55.5 42.3,-53.8 45.2,-49.1 49.4,-39.3 57.9,-17.2 60.7,-11 63.5,-5.8 66.3,-1.9 69.2,0.9 72,2.9 73.4,3.5 76.2,4.5 79,5 83.3,5.5 101.6,6.7 107.3,6.9 110.1,6.7 112.9,6.2 115.7,5.1 117.1,4.3 120,2 121.4,0.5 122.8,-1.3 125.6,-5.5 129.8,-13.5 136.9,-28.4 139.7,-33.6 141.1,-35.8 142.5,-37.6 143.9,-39 145.4,-39.9 146.8,-40.4 148.2,-40.4 149.6,-39.9 151,-39 152.4,-37.6 155.2,-33.6 159.5,-25.3 167.9,-6.7 170.8,-1.4 173.6,2.9 176.4,6.2 179.2,8.7 182.1,10.3 184.9,11.4 187.7,12 191.9,12.6 215.9,14.2 220.2,14.2 223,14 227.2,13 230,11.7 231.4,10.8 235.7,7.4 239.9,2.7 247,-6.1 249.8,-9.1 251.2,-10.4 254,-12.2 255.4,-12.7 256.8,-13 258.3,-12.9 259.7,-12.6 261.1,-12 262.5,-11.1 265.3,-8.6 269.5,-3.6 276.6,5.9 280.8,10.9 285.1,14.6 289.3,17.1 292.1,18.2 295,18.9 302,19.8 328.8,21.6 334.5,21.6 338.7,21.2L318.4,26 -20.3,3.7Z"/><path transform="translate(138.21,186.64)" d="M0,-0.7 2.8,-1.4 5.6,-2.7 8.5,-4.9 11.3,-8.1 14.1,-12.5 16.9,-18 19.8,-24.5 26.8,-41.9 29.6,-47.9 31,-50.5 32.5,-52.6 33.9,-54.3 35.3,-55.4 36.7,-56 38.1,-56.1 39.5,-55.5 40.9,-54.5 42.3,-52.8 45.2,-48.2 49.4,-38.6 57.9,-16.8 60.7,-10.7 63.5,-5.7 66.3,-1.8 69.2,1 72,2.9 73.4,3.6 76.2,4.5 79,5 83.3,5.5 101.6,6.7 107.3,6.9 110.1,6.7 112.9,6.2 115.7,5.1 117.1,4.3 120,2.1 121.4,0.6 122.8,-1.1 125.6,-5.3 129.8,-13.1 136.9,-27.8 139.7,-32.8 141.1,-35 142.5,-36.7 143.9,-38.1 145.4,-39.1 146.8,-39.5 148.2,-39.5 149.6,-39.1 151,-38.1 152.4,-36.8 155.2,-32.8 159.5,-24.7 167.9,-6.4 170.8,-1.2 173.6,3 176.4,6.3 179.2,8.7 182.1,10.4 184.9,11.4 187.7,12 191.9,12.6 215.9,14.2 220.2,14.2 223,14 227.2,13 230,11.8 231.4,10.9 235.7,7.5 239.9,2.9 247,-5.7 251.2,-9.9 254,-11.7 255.4,-12.2 256.8,-12.5 258.3,-12.4 259.7,-12.1 261.1,-11.5 262.5,-10.6 265.3,-8.2 269.5,-3.2 276.6,6.1 280.8,11 285.1,14.7 289.3,17.2 292.1,18.2 295,18.9 302,19.8 328.8,21.6 334.5,21.6 338.7,21.2L318.4,26 -20.3,3.7Z"/><path transform="translate(137.37,186.8)" d="M0,-0.7 2.8,-1.3 5.6,-2.6 8.5,-4.7 11.3,-7.9 14.1,-12.2 16.9,-17.5 19.8,-23.8 26.8,-40.7 29.6,-46.6 31,-49.1 32.5,-51.1 33.9,-52.8 35.3,-53.9 36.7,-54.4 38.1,-54.5 39.5,-54 40.9,-52.9 42.3,-51.3 45.2,-46.8 49.4,-37.4 57.9,-16.3 60.7,-10.3 63.5,-5.4 66.3,-1.6 69.2,1.1 72,2.9 73.4,3.6 76.2,4.5 79,5 83.3,5.5 101.6,6.7 107.3,6.9 110.1,6.7 112.9,6.2 115.7,5.2 117.1,4.4 120,2.2 121.4,0.8 122.8,-0.8 125.6,-4.9 129.8,-12.5 136.9,-26.8 139.7,-31.7 141.1,-33.8 142.5,-35.5 143.9,-36.8 145.4,-37.7 146.8,-38.2 148.2,-38.2 149.6,-37.8 151,-36.8 152.4,-35.5 155.2,-31.7 159.5,-23.7 167.9,-5.9 170.8,-0.9 173.6,3.3 176.4,6.5 179.2,8.8 182.1,10.4 184.9,11.4 187.7,12.1 191.9,12.6 215.9,14.2 220.2,14.2 223,14 227.2,13.1 230,11.8 231.4,11 235.7,7.7 239.9,3.3 247,-5.1 251.2,-9.2 254,-10.9 255.4,-11.4 256.8,-11.7 258.3,-11.6 259.7,-11.3 261.1,-10.7 262.5,-9.9 265.3,-7.5 269.5,-2.7 276.6,6.5 280.8,11.2 285.1,14.8 289.3,17.2 292.1,18.3 295,18.9 302,19.8 328.8,21.6 334.5,21.6 338.7,21.3L318.4,26 -20.3,3.7Z"/><path transform="translate(136.52,186.95)" d="M0,-0.7 2.8,-1.3 5.6,-2.5 8.5,-4.6 11.3,-7.6 14.1,-11.7 16.9,-16.8 19.8,-22.9 26.8,-39.2 29.6,-44.8 31,-47.2 32.5,-49.2 33.9,-50.8 35.3,-51.8 36.7,-52.4 38.1,-52.4 39.5,-51.9 40.9,-50.9 42.3,-49.4 45.2,-45 49.4,-36 57.9,-15.5 60.7,-9.8 63.5,-5.1 66.3,-1.4 69.2,1.2 72,3 73.4,3.6 76.2,4.5 79,5 83.3,5.5 101.6,6.7 107.3,6.9 110.1,6.7 112.9,6.3 115.7,5.3 117.1,4.5 120,2.5 121.4,1.1 122.8,-0.5 125.6,-4.4 129.8,-11.7 136.9,-25.5 139.7,-30.2 141.1,-32.2 142.5,-33.9 143.9,-35.1 145.4,-36 146.8,-36.5 148.2,-36.5 149.6,-36 151,-35.1 152.4,-33.8 155.2,-30.1 159.5,-22.5 167.9,-5.3 170.8,-0.4 173.6,3.6 176.4,6.7 179.2,8.9 182.1,10.5 184.9,11.5 187.7,12.1 191.9,12.6 215.9,14.2 220.2,14.2 223,14 227.2,13.1 230,12 231.4,11.2 235.7,8 239.9,3.7 247,-4.3 251.2,-8.2 254,-9.9 255.4,-10.4 256.8,-10.6 258.3,-10.6 259.7,-10.3 261.1,-9.7 262.5,-8.9 265.3,-6.6 269.5,-1.9 276.6,6.9 280.8,11.5 285.1,15 289.3,17.3 292.1,18.3 295,19 302,19.8 328.8,21.6 334.5,21.6 338.7,21.3L318.4,26 -20.3,3.7Z"/><path transform="translate(135.67,187.1)" d="M0,-0.6 2.8,-1.2 5.6,-2.4 8.5,-4.3 11.3,-7.2 14.1,-11.1 16.9,-16 19.8,-21.8 26.8,-37.3 29.6,-42.7 31,-45 32.5,-46.8 33.9,-48.3 35.3,-49.3 36.7,-49.9 38.1,-49.9 39.5,-49.4 40.9,-48.4 42.3,-47 45.2,-42.8 49.4,-34.2 57.9,-14.6 60.7,-9.2 63.5,-4.6 66.3,-1.1 69.2,1.4 72,3.1 76.2,4.5 79,5 83.3,5.5 101.6,6.7 107.3,6.9 110.1,6.8 112.9,6.3 115.7,5.4 117.1,4.7 120,2.7 121.4,1.4 122.8,-0.1 125.6,-3.8 129.8,-10.8 136.9,-23.9 139.7,-28.4 141.1,-30.3 142.5,-31.9 143.9,-33.1 145.4,-33.9 146.8,-34.4 148.2,-34.3 149.6,-33.9 151,-33.1 152.4,-31.8 155.2,-28.3 159.5,-21 167.9,-4.5 170.8,0.1 173.6,3.9 176.4,6.9 179.2,9.1 182.1,10.5 184.9,11.5 187.7,12.1 191.9,12.6 215.9,14.2 220.2,14.2 223,14.1 227.2,13.2 231.4,11.4 235.7,8.4 239.9,4.3 247,-3.4 251.2,-7.1 254,-8.7 255.4,-9.2 256.8,-9.4 258.3,-9.3 261.1,-8.5 262.5,-7.7 265.3,-5.5 269.5,-1 276.6,7.4 280.8,11.8 285.1,15.1 289.3,17.4 292.1,18.3 295,19 302,19.9 328.8,21.6 334.5,21.7 338.7,21.3L318.4,26 -20.3,3.7Z"/><path transform="translate(134.82,187.26)" d="M0,-0.6 2.8,-1.1 5.6,-2.2 8.5,-4.1 11.3,-6.8 14.1,-10.5 16.9,-15.1 19.8,-20.5 26.8,-35.1 29.6,-40.2 31,-42.4 32.5,-44.1 33.9,-45.5 35.3,-46.5 36.7,-47 38.1,-47 39.5,-46.5 40.9,-45.6 42.3,-44.2 45.2,-40.3 49.4,-32.1 57.9,-13.6 60.7,-8.4 63.5,-4.1 66.3,-0.8 69.2,1.6 72,3.2 76.2,4.6 83.3,5.5 101.6,6.7 107.3,6.9 110.1,6.8 112.9,6.4 115.7,5.5 117.1,4.9 120,3 121.4,1.8 122.8,0.3 125.6,-3.2 129.8,-9.7 136.9,-22.1 139.7,-26.3 141.1,-28.1 142.5,-29.6 143.9,-30.7 145.4,-31.5 146.8,-31.9 148.2,-31.9 149.6,-31.5 151,-30.7 152.4,-29.5 155.2,-26.1 159.5,-19.2 167.9,-3.7 170.8,0.7 173.6,4.3 176.4,7.2 179.2,9.2 182.1,10.6 184.9,11.5 187.7,12.1 191.9,12.6 215.9,14.2 220.2,14.2 223,14.1 227.2,13.3 231.4,11.6 235.7,8.8 239.9,4.9 247,-2.3 251.2,-5.8 254,-7.3 255.4,-7.7 258.3,-7.9 261.1,-7 262.5,-6.3 265.3,-4.2 269.5,0 276.6,8 280.8,12.2 285.1,15.3 289.3,17.5 292.1,18.4 295,19 302,19.9 328.8,21.6 334.5,21.7 338.7,21.4L318.4,26 -20.3,3.7Z"/><path transform="translate(133.97,187.41)" d="M0,-0.6 2.8,-1 5.6,-2.1 8.5,-3.8 11.3,-6.3 14.1,-9.7 16.9,-14 19.8,-19.1 26.8,-32.7 29.6,-37.5 31,-39.5 32.5,-41.1 33.9,-42.4 35.3,-43.3 36.7,-43.8 38.1,-43.8 39.5,-43.3 40.9,-42.5 42.3,-41.2 45.2,-37.5 49.4,-29.8 57.9,-12.5 60.7,-7.6 63.5,-3.6 66.3,-0.5 69.2,1.8 72,3.3 76.2,4.6 83.3,5.5 107.3,6.9 110.1,6.8 112.9,6.4 115.7,5.6 117.1,5 120,3.3 121.4,2.2 122.8,0.8 125.6,-2.4 129.8,-8.6 136.9,-20 139.7,-24 141.1,-25.7 143.9,-28.1 145.4,-28.9 146.8,-29.2 148.2,-29.2 149.6,-28.8 151,-28.1 152.4,-26.9 155.2,-23.8 159.5,-17.3 167.9,-2.7 170.8,1.4 173.6,4.8 176.4,7.4 179.2,9.4 182.1,10.7 184.9,11.6 187.7,12.1 191.9,12.6 215.9,14.2 223,14.1 227.2,13.4 231.4,11.8 235.7,9.2 239.9,5.6 247,-1.1 251.2,-4.3 254,-5.7 255.4,-6.1 258.3,-6.2 261.1,-5.5 262.5,-4.8 265.3,-2.8 269.5,1.2 276.6,8.7 280.8,12.6 285.1,15.6 289.3,17.6 292.1,18.4 295,19 302,19.9 328.8,21.6 334.5,21.7 338.7,21.5L318.4,26 -20.3,3.7Z"/><path transform="translate(133.13,187.57)" d="M0,-0.5 2.8,-1 5.6,-1.9 8.5,-3.4 11.3,-5.8 14.1,-8.9 16.9,-12.9 19.8,-17.5 26.8,-30.2 29.6,-34.5 31,-36.4 32.5,-37.9 33.9,-39.1 35.3,-39.9 36.7,-40.3 38.1,-40.3 39.5,-39.9 40.9,-39.1 42.3,-37.9 45.2,-34.5 49.4,-27.3 57.9,-11.3 60.7,-6.8 63.5,-3 66.3,-0.1 69.2,2 72,3.4 76.2,4.6 83.3,5.5 107.3,6.9 110.1,6.8 112.9,6.5 115.7,5.8 117.1,5.2 120,3.7 121.4,2.6 122.8,1.4 125.6,-1.6 129.8,-7.3 136.9,-17.9 139.7,-21.6 141.1,-23.1 143.9,-25.3 145.4,-26 146.8,-26.3 148.2,-26.3 149.6,-25.9 151,-25.2 152.4,-24.2 155.2,-21.3 159.5,-15.2 167.9,-1.7 170.8,2.1 173.6,5.3 176.4,7.8 179.2,9.6 182.1,10.8 184.9,11.6 187.7,12.1 191.9,12.6 215.9,14.2 223,14.2 227.2,13.5 231.4,12.1 235.7,9.7 239.9,6.4 247,0.2 251.2,-2.8 254,-4.1 255.4,-4.4 258.3,-4.5 261.1,-3.8 262.5,-3.1 265.3,-1.3 269.5,2.4 276.6,9.4 280.8,13 285.1,15.8 289.3,17.7 292.1,18.5 295,19.1 302,19.9 328.8,21.6 334.5,21.7 338.7,21.5L318.4,26 -20.3,3.7Z"/><path transform="translate(132.28,187.72)" d="M0,-0.5 2.8,-0.9 5.6,-1.7 8.5,-3.1 11.3,-5.2 14.1,-8.1 16.9,-11.7 19.8,-16 26.8,-27.5 29.6,-31.5 31,-33.1 33.9,-35.6 35.3,-36.4 36.7,-36.7 38.1,-36.7 39.5,-36.3 40.9,-35.6 42.3,-34.5 45.2,-31.3 49.4,-24.8 57.9,-10 60.7,-5.8 63.5,-2.4 66.3,0.2 69.2,2.2 72,3.5 76.2,4.7 83.3,5.5 107.3,6.9 112.9,6.6 117.1,5.4 120,4 121.4,3.1 122.8,1.9 125.6,-0.8 129.8,-5.9 136.9,-15.6 139.7,-19 141.1,-20.4 143.9,-22.4 145.4,-23 146.8,-23.3 148.2,-23.3 149.6,-22.9 151,-22.3 152.4,-21.3 155.2,-18.6 159.5,-13.1 167.9,-0.6 170.8,2.9 173.6,5.8 176.4,8.1 179.2,9.7 182.1,10.9 184.9,11.7 191.9,12.6 215.9,14.2 223,14.2 227.2,13.6 231.4,12.3 235.7,10.2 239.9,7.2 247,1.6 251.2,-1.2 254,-2.3 255.4,-2.6 258.3,-2.7 261.1,-2 262.5,-1.4 265.3,0.3 269.5,3.7 276.6,10.1 280.8,13.5 285.1,16 289.3,17.8 295,19.1 302,19.9 328.8,21.6 334.5,21.7 338.7,21.6L318.4,26 -20.3,3.7Z"/><path transform="translate(131.43,187.87)" d="M0,-0.4 2.8,-0.8 5.6,-1.5 8.5,-2.8 11.3,-4.6 14.1,-7.2 16.9,-10.5 19.8,-14.3 26.8,-24.7 29.6,-28.3 31,-29.8 33.9,-32.1 35.3,-32.7 36.7,-33 38.1,-33 39.5,-32.7 40.9,-32 42.3,-31 45.2,-28.1 49.4,-22.1 57.9,-8.7 60.7,-4.9 63.5,-1.8 66.3,0.6 69.2,2.4 72,3.6 76.2,4.7 83.3,5.5 107.3,6.9 112.9,6.7 117.1,5.7 120,4.4 121.4,3.5 125.6,0.1 129.8,-4.6 136.9,-13.3 141.1,-17.6 143.9,-19.4 145.4,-19.9 146.8,-20.2 148.2,-20.2 149.6,-19.8 151,-19.2 152.4,-18.4 155.2,-15.9 159.5,-10.8 167.9,0.5 170.8,3.7 173.6,6.3 176.4,8.4 179.2,9.9 182.1,11 184.9,11.7 191.9,12.6 215.9,14.2 223,14.3 227.2,13.8 231.4,12.6 235.7,10.7 239.9,8 247,2.9 251.2,0.5 254,-0.5 255.4,-0.8 258.3,-0.8 261.1,-0.2 262.5,0.4 265.3,1.9 269.5,5 276.6,10.9 280.8,14 285.1,16.3 289.3,17.9 295,19.1 302,19.9 328.8,21.6 334.5,21.8 338.7,21.6L318.4,26 -20.3,3.7Z"/><path transform="translate(130.59,188.03)" d="M0,-0.4 2.8,-0.7 5.6,-1.3 8.5,-2.4 11.3,-4.1 14.1,-6.4 16.9,-9.3 19.8,-12.7 26.8,-22 29.6,-25.2 31,-26.5 33.9,-28.5 35.3,-29.1 36.7,-29.3 38.1,-29.3 39.5,-29 40.9,-28.4 42.3,-27.4 45.2,-24.8 49.4,-19.5 57.9,-7.4 60.7,-4 63.5,-1.2 66.3,1 69.2,2.6 72,3.7 76.2,4.7 83.3,5.5 107.3,7 112.9,6.8 117.1,5.9 121.4,4 125.6,0.9 129.8,-3.2 136.9,-11 141.1,-14.8 143.9,-16.4 145.4,-16.9 146.8,-17.1 148.2,-17 149.6,-16.7 151,-16.2 152.4,-15.4 155.2,-13.2 159.5,-8.6 167.9,1.6 170.8,4.5 173.6,6.9 176.4,8.7 179.2,10.1 182.1,11.1 184.9,11.8 191.9,12.6 215.9,14.2 223,14.3 227.2,13.9 231.4,12.9 235.7,11.2 239.9,8.8 247,4.3 251.2,2.2 254,1.3 255.4,1 258.3,1 261.1,1.6 265.3,3.5 269.5,6.3 276.6,11.7 280.8,14.4 285.1,16.6 289.3,18 295,19.2 302,19.9 328.8,21.6 334.5,21.8 338.7,21.7L318.4,26 -20.3,3.7Z"/><path transform="translate(129.74,188.18)" d="M0,-0.3 2.8,-0.6 5.6,-1.1 8.5,-2.1 11.3,-3.5 14.1,-5.6 16.9,-8.1 19.8,-11.1 26.8,-19.2 31,-23.2 33.9,-25 35.3,-25.5 36.7,-25.7 38.1,-25.7 39.5,-25.4 40.9,-24.8 42.3,-24 45.2,-21.7 49.4,-16.9 57.9,-6.1 60.7,-3.1 63.5,-0.6 66.3,1.4 69.2,2.8 72,3.8 76.2,4.8 83.3,5.5 107.3,7 112.9,6.8 117.1,6.1 121.4,4.4 125.6,1.8 129.8,-1.9 136.9,-8.7 141.1,-12 143.9,-13.4 145.4,-13.8 148.2,-14 151,-13.2 152.4,-12.5 155.2,-10.5 159.5,-6.4 167.9,2.7 170.8,5.2 173.6,7.4 176.4,9.1 179.2,10.3 182.1,11.2 184.9,11.8 191.9,12.6 215.9,14.2 223,14.3 227.2,14 231.4,13.2 235.7,11.7 239.9,9.6 247,5.7 251.2,3.8 255.4,2.8 258.3,2.8 261.1,3.4 265.3,5.1 269.5,7.7 276.6,12.4 280.8,14.9 285.1,16.8 289.3,18.1 295,19.2 302,19.9 328.8,21.6 338.7,21.8L318.4,26 -20.3,3.7Z"/><path transform="translate(128.89,188.34)" d="M0,-0.3 2.8,-0.5 5.6,-0.9 8.5,-1.7 11.3,-3 14.1,-4.7 16.9,-7 26.8,-16.6 31,-20.1 33.9,-21.6 35.3,-22 38.1,-22.1 40.9,-21.4 42.3,-20.6 45.2,-18.6 49.4,-14.4 57.9,-4.9 60.7,-2.2 63.5,0 66.3,1.8 69.2,3.1 72,4 76.2,4.8 83.3,5.5 107.3,7 112.9,6.9 117.1,6.3 121.4,4.9 125.6,2.6 129.8,-0.6 136.9,-6.5 141.1,-9.3 143.9,-10.6 145.4,-10.9 148.2,-11 151,-10.3 152.4,-9.7 155.2,-7.9 159.5,-4.3 167.9,3.7 170.8,6 173.6,7.9 176.4,9.4 179.2,10.5 182.1,11.3 184.9,11.9 191.9,12.6 215.9,14.2 223,14.4 227.2,14.1 231.4,13.4 235.7,12.1 239.9,10.4 247,7 251.2,5.4 255.4,4.6 258.3,4.6 261.1,5.1 265.3,6.7 269.5,8.9 276.6,13.1 280.8,15.3 285.1,17.1 289.3,18.3 295,19.2 302,19.9 328.8,21.6 338.7,21.8L318.4,26 -20.3,3.7Z"/><path transform="translate(128.04,188.49)" d="M0,-0.3 5.6,-0.7 8.5,-1.4 11.3,-2.5 14.1,-4 16.9,-5.9 26.8,-14.1 31,-17.1 33.9,-18.3 35.3,-18.7 38.1,-18.8 40.9,-18.1 42.3,-17.4 45.2,-15.6 49.4,-12 57.9,-3.7 60.7,-1.3 63.5,0.6 66.3,2.1 69.2,3.3 72,4.1 76.2,4.8 83.3,5.5 107.3,7 112.9,7 117.1,6.5 121.4,5.3 125.6,3.4 129.8,0.7 136.9,-4.4 141.1,-6.8 143.9,-7.8 145.4,-8.1 148.2,-8.2 151,-7.5 152.4,-7 155.2,-5.4 159.5,-2.3 167.9,4.7 170.8,6.7 173.6,8.4 176.4,9.7 179.2,10.7 184.9,11.9 191.9,12.6 215.9,14.2 223,14.4 227.2,14.2 231.4,13.7 235.7,12.6 239.9,11.1 247,8.3 251.2,6.9 255.4,6.3 258.3,6.3 261.1,6.8 265.3,8.1 280.8,15.8 285.1,17.3 289.3,18.4 295,19.2 302,19.9 328.8,21.6 338.7,21.9L318.4,26 -20.3,3.7Z"/><path transform="translate(127.19,188.64)" d="M0,-0.2 5.6,-0.6 8.5,-1.1 11.3,-2 14.1,-3.2 16.9,-4.8 26.8,-11.8 31,-14.3 33.9,-15.3 35.3,-15.6 38.1,-15.7 40.9,-15 42.3,-14.5 45.2,-12.9 49.4,-9.7 57.9,-2.6 60.7,-0.6 63.5,1.1 66.3,2.5 69.2,3.5 72,4.2 76.2,4.8 83.3,5.5 107.3,7 112.9,7 117.1,6.7 121.4,5.7 125.6,4.1 129.8,1.8 136.9,-2.4 141.1,-4.4 143.9,-5.3 145.4,-5.5 148.2,-5.5 151,-5 155.2,-3.1 159.5,-0.4 167.9,5.7 170.8,7.4 173.6,8.8 176.4,10 179.2,10.8 184.9,11.9 191.9,12.6 215.9,14.2 223,14.5 227.2,14.4 231.4,13.9 235.7,13 247,9.5 251.2,8.3 255.4,7.8 258.3,7.9 261.1,8.3 265.3,9.5 280.8,16.2 285.1,17.5 289.3,18.5 295,19.3 302,19.9 328.8,21.6 338.7,22L318.4,26 -20.3,3.7Z"/><path transform="translate(126.35,188.8)" d="M0,-0.2 5.6,-0.4 8.5,-0.9 11.3,-1.6 14.1,-2.6 16.9,-3.9 26.8,-9.6 31,-11.7 33.9,-12.5 35.3,-12.7 38.1,-12.8 40.9,-12.2 45.2,-10.4 49.4,-7.7 57.9,-1.6 60.7,0.2 63.5,1.6 66.3,2.8 69.2,3.6 72,4.3 76.2,4.9 107.3,7 112.9,7.1 117.1,6.8 121.4,6.1 125.6,4.7 129.8,2.9 136.9,-0.6 141.1,-2.3 145.4,-3.1 148.2,-3.1 151,-2.6 155.2,-1 159.5,1.3 167.9,6.5 173.6,9.2 179.2,11 184.9,12 191.9,12.6 215.9,14.2 223,14.5 227.2,14.4 231.4,14.1 235.7,13.4 247,10.5 251.2,9.6 255.4,9.2 258.3,9.3 261.1,9.7 265.3,10.8 280.8,16.5 285.1,17.7 289.3,18.6 295,19.3 302,19.9 328.8,21.6 338.7,22L318.4,26 -20.3,3.7Z"/><path transform="translate(125.5,188.95)" d="M0,-0.2 5.6,-0.3 11.3,-1.2 16.9,-3 26.8,-7.7 31,-9.3 35.3,-10.2 38.1,-10.2 40.9,-9.7 45.2,-8.1 49.4,-5.8 57.9,-0.7 63.5,2.1 69.2,3.8 76.2,4.9 107.3,7 112.9,7.2 117.1,7 121.4,6.4 125.6,5.3 129.8,3.9 136.9,1.1 141.1,-0.3 145.4,-0.9 148.2,-0.9 151,-0.5 155.2,0.9 159.5,2.9 167.9,7.3 173.6,9.6 179.2,11.1 184.9,12 215.9,14.2 227.2,14.5 231.4,14.3 235.7,13.8 251.2,10.8 255.4,10.5 258.3,10.6 261.1,11 265.3,11.9 280.8,16.9 285.1,17.9 289.3,18.6 295,19.3 302,19.9 328.8,21.6 338.7,22.1L318.4,26 -20.3,3.7Z"/><path transform="translate(124.65,189.1)" d="M0,-0.1 5.6,-0.2 11.3,-0.8 16.9,-2.3 26.8,-5.9 31,-7.2 35.3,-7.9 38.1,-7.8 40.9,-7.4 45.2,-6.1 49.4,-4.1 57.9,0.2 63.5,2.4 69.2,3.9 76.2,4.9 107.3,7 112.9,7.2 117.1,7.1 121.4,6.7 125.6,5.9 136.9,2.5 141.1,1.5 145.4,1 148.2,1.1 151,1.5 155.2,2.6 167.9,8 173.6,9.9 179.2,11.3 184.9,12 215.9,14.2 227.2,14.6 235.7,14.1 251.2,11.9 255.4,11.7 258.3,11.8 261.1,12.1 265.3,12.9 280.8,17.2 289.3,18.7 302,19.9 328.8,21.6 338.7,22.1L318.4,26 -20.3,3.7Z"/><path transform="translate(123.81,189.26)" d="M0,-0.1 5.6,-0.1 11.3,-0.5 16.9,-1.6 26.8,-4.4 31,-5.4 35.3,-5.9 38.1,-5.8 40.9,-5.4 45.2,-4.3 57.9,0.9 63.5,2.8 69.2,4.1 76.2,4.9 107.3,7 117.1,7.2 121.4,6.9 125.6,6.4 136.9,3.8 141.1,3 145.4,2.7 148.2,2.8 151,3.1 155.2,4.1 167.9,8.6 173.6,10.2 179.2,11.4 184.9,12.1 215.9,14.2 227.2,14.7 235.7,14.4 251.2,12.8 258.3,12.8 265.3,13.8 280.8,17.4 289.3,18.8 302,19.9 338.7,22.1L318.4,26 -20.3,3.7Z"/><path transform="translate(122.96,189.41)" d="M0,-0.1 5.6,0 11.3,-0.3 16.9,-1 26.8,-3.1 31,-3.8 35.3,-4.1 38.1,-4 40.9,-3.7 45.2,-2.7 57.9,1.5 63.5,3.1 69.2,4.2 76.2,5 107.3,7 117.1,7.3 121.4,7.2 125.6,6.8 141.1,4.3 145.4,4.1 148.2,4.2 151,4.6 155.2,5.4 167.9,9.1 173.6,10.5 179.2,11.5 184.9,12.1 215.9,14.2 227.2,14.7 235.7,14.6 251.2,13.6 258.3,13.7 265.3,14.6 280.8,17.7 289.3,18.8 302,19.9 338.7,22.2L318.4,26 -20.3,3.7Z"/><path transform="translate(122.11,189.56)" d="M0,-0.1 5.6,0.1 11.3,0 16.9,-0.5 31,-2.5 35.3,-2.7 38.1,-2.6 40.9,-2.3 45.2,-1.5 57.9,2 63.5,3.3 69.2,4.2 76.2,5 107.3,7 117.1,7.4 125.6,7.1 141.1,5.5 148.2,5.5 155.2,6.5 167.9,9.5 173.6,10.7 179.2,11.5 184.9,12.1 215.9,14.2 227.2,14.8 235.7,14.8 251.2,14.3 258.3,14.5 265.3,15.2 280.8,17.8 289.3,18.9 302,19.9 338.7,22.2L318.4,26 -20.3,3.7Z"/><path transform="translate(121.26,189.72)" d="M0,0 11.3,0.2 16.9,-0.1 31,-1.4 38.1,-1.3 45.2,-0.4 57.9,2.5 63.5,3.5 69.2,4.3 76.2,5 107.3,7 117.1,7.5 125.6,7.4 141.1,6.4 148.2,6.5 155.2,7.4 173.6,10.9 184.9,12.1 227.2,14.8 235.7,15 251.2,14.8 258.3,15.1 265.3,15.8 280.8,18 289.3,18.9 338.7,22.2L318.4,26 -20.3,3.7Z"/><path transform="translate(120.41,189.87)" d="M0,0 11.3,0.3 31,-0.5 38.1,-0.3 45.2,0.5 63.5,3.7 76.2,5 107.3,7.1 117.1,7.5 125.6,7.6 141.1,7.1 148.2,7.4 155.2,8.1 173.6,11 184.9,12.1 227.2,14.9 235.7,15.1 251.2,15.3 258.3,15.6 265.3,16.2 280.8,18.1 289.3,19 338.7,22.2L318.4,26 -20.3,3.7Z"/><path transform="translate(119.57,190.03)" d="M0,0 11.3,0.4 31,0.2 38.1,0.4 45.2,1.2 63.5,3.8 76.2,5 117.1,7.6 125.6,7.8 141.1,7.7 148.2,8 155.2,8.7 173.6,11.1 184.9,12.1 227.2,14.9 258.3,16 289.3,19 338.7,22.3L318.4,26 -20.3,3.7Z"/><path transform="translate(118.72,190.18)" d="M0,0 11.3,0.5 31,0.7 38.1,1.1 45.2,1.7 63.5,3.9 76.2,5 117.1,7.6 141.1,8.2 148.2,8.5 155.2,9.2 173.6,11.2 184.9,12.2 227.2,14.9 258.3,16.3 289.3,19 338.7,22.3L318.4,26 -20.3,3.7Z"/><path transform="translate(117.87,190.33)" d="M0,0 11.3,0.6 38.1,1.5 63.5,4 76.2,5 117.1,7.7 148.2,8.9 173.6,11.3 184.9,12.2 227.2,14.9 258.3,16.5 289.3,19 338.7,22.3L318.4,26 -20.3,3.7Z"/><path transform="translate(117.02,190.49)" d="M0,0 38.1,1.9 76.2,5 117.1,7.7 148.2,9.2 184.9,12.2 227.2,14.9 258.3,16.7 289.3,19 338.7,22.3L318.4,26 -20.3,3.7Z"/><path transform="translate(116.18,190.64)" d="M0,0 38.1,2.1 76.2,5 117.1,7.7 148.2,9.4 184.9,12.2 258.3,16.8 338.7,22.3L318.4,26 -20.3,3.7Z"/><path transform="translate(115.33,190.8)" d="M0,0 38.1,2.3 76.2,5 148.2,9.5 184.9,12.2 258.3,16.9 338.7,22.3L318.4,26 -20.3,3.7Z"/><path transform="translate(114.48,190.95)" d="M0,0 38.1,2.4 76.2,5 338.7,22.3L318.4,26 -20.3,3.7Z"/><path transform="translate(113.63,191.1)" d="M0,0 338.7,22.3L318.4,26 -20.3,3.7Z"/><path transform="translate(112.79,191.26)" d="M0,0 338.7,22.3L318.4,26 -20.3,3.7Z"/><path transform="translate(111.94,191.41)" d="M0,0 338.7,22.3L318.4,26 -20.3,3.7Z"/><path transform="translate(111.09,191.56)" d="M0,0 338.7,22.3L319.2,25.8 -19.5,3.5Z"/><path transform="translate(110.24,191.72)" d="M0,0 338.7,22.3L320.1,25.7 -18.6,3.4Z"/><path transform="translate(109.4,191.87)" d="M0,0 338.7,22.3L320.9,25.5 -17.8,3.2Z"/><path transform="translate(108.55,192.03)" d="M0,0 338.7,22.3L321.8,25.4 -16.9,3.1Z"/><path transform="translate(107.7,192.18)" d="M0,0 338.7,22.3L322.6,25.2 -16.1,2.9Z"/><path transform="translate(106.85,192.33)" d="M0,0 338.7,22.3L323.4,25.1 -15.3,2.8Z"/><path transform="translate(106.01,192.49)" d="M0,0 338.7,22.3L324.3,24.9 -14.4,2.6Z"/><path transform="translate(105.16,192.64)" d="M0,0 338.7,22.3L325.1,24.8 -13.6,2.5Z"/><path transform="translate(104.31,192.79)" d="M0,0 338.7,22.3L326,24.6 -12.7,2.3Z"/><path transform="translate(103.46,192.95)" d="M0,0 338.7,22.3L326.8,24.5 -11.9,2.2Z"/><path transform="translate(102.62,193.1)" d="M0,0 338.7,22.3L327.7,24.3 -11,2Z"/><path transform="translate(101.77,193.25)" d="M0,0 338.7,22.3L328.5,24.1 -10.2,1.8Z"/><path transform="translate(100.92,193.41)" d="M0,0 338.7,22.3L329.4,24 -9.3,1.7Z"/><path transform="translate(100.07,193.56)" d="M0,0 338.7,22.3L330.2,23.8 -8.5,1.5Z"/><path transform="translate(99.23,193.72)" d="M0,0 338.7,22.3L331.1,23.7 -7.6,1.4Z"/><path transform="translate(98.38,193.87)" d="M0,0 338.7,22.3L331.9,23.5 -6.8,1.2Z"/><path transform="translate(97.53,194.02)" d="M0,0 38.1,2.4 76.2,5 338.7,22.3L332.8,23.4 -5.9,1.1Z"/><path transform="translate(96.69,194.18)" d="M0,0 38.1,2.3 76.2,5 148.2,9.6 184.9,12.2 338.7,22.3L333.6,23.2 -5.1,0.9Z"/><path transform="translate(95.84,194.33)" d="M0,0 38.1,2.1 76.2,5 117.1,7.7 148.2,9.4 184.9,12.2 258.3,16.8 338.7,22.3L334.5,23.1 -4.2,0.8Z"/><path transform="translate(94.99,194.48)" d="M0,0 38.1,1.9 76.2,5 117.1,7.7 148.2,9.3 184.9,12.2 227.2,14.9 258.3,16.7 289.3,19 338.7,22.3L335.3,22.9 -3.4,0.6Z"/><path transform="translate(94.14,194.64)" d="M0,0 11.3,0.6 38.1,1.7 63.5,4 76.2,5 117.1,7.7 148.2,9.1 184.9,12.2 227.2,14.9 258.3,16.6 289.3,19 338.7,22.3L336.2,22.8 -2.5,0.5Z"/><path transform="translate(93.29,194.79)" d="M0,0 11.3,0.6 31,1 38.1,1.3 45.2,1.9 63.5,4 76.2,5 117.1,7.6 148.2,8.8 173.6,11.3 184.9,12.2 227.2,14.9 258.3,16.4 289.3,19 338.7,22.3L337,22.6 -1.7,0.3Z"/><path transform="translate(92.45,194.95)" d="M0,0 11.3,0.5 31,0.6 38.1,0.9 45.2,1.5 63.5,3.9 76.2,5 117.1,7.6 141.1,8.1 148.2,8.4 155.2,9 173.6,11.2 184.9,12.2 227.2,14.9 258.3,16.2 289.3,19 338.7,22.3L337.9,22.5 -0.8,0.2Z"/><path transform="translate(91.6,195.1)" d="M0,0 11.3,0.4 31,0.1 38.1,0.3 45.2,1.1 63.5,3.8 76.2,5 117.1,7.6 125.6,7.8 141.1,7.6 148.2,7.9 155.2,8.6 173.6,11.1 184.9,12.1 227.2,14.9 251.2,15.6 258.3,15.9 289.3,19 338.7,22.3L338.7,22.3 0,0Z"/></g>
<line x1="91.60" y1="195.10" x2="430.30" y2="217.40" stroke="#262626" stroke-width="0.8"/>
<line x1="633.70" y1="180.50" x2="430.30" y2="217.40" stroke="#262626" stroke-width="0.8"/>
<line x1="91.50" y1="195.10" x2="91.50" y2="76.20" stroke="#262626" stroke-width="1"/>
<line x1="83.00" y1="171.16" x2="91.50" y2="171.16" stroke="#262626" stroke-width="1"/>
<text x="78" y="171.16" text-anchor="end" dominant-baseline="central">0.2</text>
<line x1="83.00" y1="147.22" x2="91.50" y2="147.22" stroke="#262626" stroke-width="1"/>
<text x="78" y="147.22" text-anchor="end" dominant-baseline="central">0.4</text>
<line x1="83.00" y1="123.28" x2="91.50" y2="123.28" stroke="#262626" stroke-width="1"/>
<text x="78" y="123.28" text-anchor="end" dominant-baseline="central">0.6</text>
<line x1="83.00" y1="99.34" x2="91.50" y2="99.34" stroke="#262626" stroke-width="1"/>
<text x="78" y="99.34" text-anchor="end" dominant-baseline="central">0.8</text>
<line x1="91.60" y1="195.10" x2="82.94" y2="196.67" stroke="#262626" stroke-width="1"/>
<text x="78.60" y="208.30" text-anchor="end" dominant-baseline="central">0</text>
<line x1="148.05" y1="198.82" x2="139.39" y2="200.39" stroke="#262626" stroke-width="1"/>
<text x="135.05" y="211.93" text-anchor="end" dominant-baseline="central">0.1</text>
<line x1="204.50" y1="202.53" x2="195.84" y2="204.10" stroke="#262626" stroke-width="1"/>
<text x="191.50" y="215.56" text-anchor="end" dominant-baseline="central">0.2</text>
<line x1="260.95" y1="206.25" x2="252.29" y2="207.82" stroke="#262626" stroke-width="1"/>
<text x="247.95" y="219.19" text-anchor="end" dominant-baseline="central">0.3</text>
<line x1="317.40" y1="209.97" x2="308.74" y2="211.54" stroke="#262626" stroke-width="1"/>
<text x="304.40" y="222.82" text-anchor="end" dominant-baseline="central">0.4</text>
<line x1="373.85" y1="213.68" x2="365.19" y2="215.25" stroke="#262626" stroke-width="1"/>
<text x="360.85" y="226.45" text-anchor="end" dominant-baseline="central">0.5</text>
<line x1="430.30" y1="217.40" x2="421.64" y2="218.97" stroke="#262626" stroke-width="1"/>
<text x="417.30" y="230.08" text-anchor="end" dominant-baseline="central">0.6</text>
<line x1="633.70" y1="180.50" x2="642.48" y2="181.08" stroke="#262626" stroke-width="1"/>
<text x="645.50" y="192.15" text-anchor="start" dominant-baseline="central">0</text>
<line x1="565.90" y1="192.80" x2="574.68" y2="193.38" stroke="#262626" stroke-width="1"/>
<text x="577.76" y="204.32" text-anchor="start" dominant-baseline="central">0.2</text>
<line x1="498.10" y1="205.10" x2="506.88" y2="205.68" stroke="#262626" stroke-width="1"/>
<text x="510.02" y="216.49" text-anchor="start" dominant-baseline="central">0.4</text>
<line x1="430.30" y1="217.40" x2="439.08" y2="217.98" stroke="#262626" stroke-width="1"/>
<text x="442.28" y="228.66" text-anchor="start" dominant-baseline="central">0.6</text>
<circle cx="310.3" cy="45.5" r="4.1" fill="#ff0000" stroke="#5a1030" stroke-width="1.2"/>
<rect x="91.5" y="288.5" width="542.0" height="178.0" fill="none" stroke="#262626" stroke-width="1"/>
<line x1="91.50" y1="464.40" x2="96.50" y2="464.40" stroke="#262626" stroke-width="1"/>
<line x1="628.50" y1="464.40" x2="633.50" y2="464.40" stroke="#262626" stroke-width="1"/>
<text x="85.5" y="464.40" text-anchor="end" dominant-baseline="central">0.9999998</text>
<line x1="91.50" y1="405.30" x2="96.50" y2="405.30" stroke="#262626" stroke-width="1"/>
<line x1="628.50" y1="405.30" x2="633.50" y2="405.30" stroke="#262626" stroke-width="1"/>
<text x="85.5" y="405.30" text-anchor="end" dominant-baseline="central">0.99999982</text>
<line x1="91.50" y1="346.50" x2="96.50" y2="346.50" stroke="#262626" stroke-width="1"/>
<line x1="628.50" y1="346.50" x2="633.50" y2="346.50" stroke="#262626" stroke-width="1"/>
<text x="85.5" y="346.50" text-anchor="end" dominant-baseline="central">0.99999984</text>
<line x1="91.50" y1="288.50" x2="96.50" y2="288.50" stroke="#262626" stroke-width="1"/>
<line x1="628.50" y1="288.50" x2="633.50" y2="288.50" stroke="#262626" stroke-width="1"/>
<text x="85.5" y="288.50" text-anchor="end" dominant-baseline="central">0.99999986</text>
<line x1="91.50" y1="466.50" x2="91.50" y2="461.50" stroke="#262626" stroke-width="1"/>
<line x1="91.50" y1="288.50" x2="91.50" y2="293.50" stroke="#262626" stroke-width="1"/>
<text x="91.50" y="482.8" text-anchor="middle" dominant-baseline="central">0</text>
<line x1="145.70" y1="466.50" x2="145.70" y2="461.50" stroke="#262626" stroke-width="1"/>
<line x1="145.70" y1="288.50" x2="145.70" y2="293.50" stroke="#262626" stroke-width="1"/>
<text x="145.70" y="482.8" text-anchor="middle" dominant-baseline="central">5</text>
<line x1="199.90" y1="466.50" x2="199.90" y2="461.50" stroke="#262626" stroke-width="1"/>
<line x1="199.90" y1="288.50" x2="199.90" y2="293.50" stroke="#262626" stroke-width="1"/>
<text x="199.90" y="482.8" text-anchor="middle" dominant-baseline="central">10</text>
<line x1="254.10" y1="466.50" x2="254.10" y2="461.50" stroke="#262626" stroke-width="1"/>
<line x1="254.10" y1="288.50" x2="254.10" y2="293.50" stroke="#262626" stroke-width="1"/>
<text x="254.10" y="482.8" text-anchor="middle" dominant-baseline="central">15</text>
<line x1="308.30" y1="466.50" x2="308.30" y2="461.50" stroke="#262626" stroke-width="1"/>
<line x1="308.30" y1="288.50" x2="308.30" y2="293.50" stroke="#262626" stroke-width="1"/>
<text x="308.30" y="482.8" text-anchor="middle" dominant-baseline="central">20</text>
<line x1="362.50" y1="466.50" x2="362.50" y2="461.50" stroke="#262626" stroke-width="1"/>
<line x1="362.50" y1="288.50" x2="362.50" y2="293.50" stroke="#262626" stroke-width="1"/>
<text x="362.50" y="482.8" text-anchor="middle" dominant-baseline="central">25</text>
<line x1="416.70" y1="466.50" x2="416.70" y2="461.50" stroke="#262626" stroke-width="1"/>
<line x1="416.70" y1="288.50" x2="416.70" y2="293.50" stroke="#262626" stroke-width="1"/>
<text x="416.70" y="482.8" text-anchor="middle" dominant-baseline="central">30</text>
<line x1="470.90" y1="466.50" x2="470.90" y2="461.50" stroke="#262626" stroke-width="1"/>
<line x1="470.90" y1="288.50" x2="470.90" y2="293.50" stroke="#262626" stroke-width="1"/>
<text x="470.90" y="482.8" text-anchor="middle" dominant-baseline="central">35</text>
<line x1="525.10" y1="466.50" x2="525.10" y2="461.50" stroke="#262626" stroke-width="1"/>
<line x1="525.10" y1="288.50" x2="525.10" y2="293.50" stroke="#262626" stroke-width="1"/>
<text x="525.10" y="482.8" text-anchor="middle" dominant-baseline="central">40</text>
<line x1="579.30" y1="466.50" x2="579.30" y2="461.50" stroke="#262626" stroke-width="1"/>
<line x1="579.30" y1="288.50" x2="579.30" y2="293.50" stroke="#262626" stroke-width="1"/>
<text x="579.30" y="482.8" text-anchor="middle" dominant-baseline="central">45</text>
<line x1="633.50" y1="466.50" x2="633.50" y2="461.50" stroke="#262626" stroke-width="1"/>
<line x1="633.50" y1="288.50" x2="633.50" y2="293.50" stroke="#262626" stroke-width="1"/>
<text x="633.50" y="482.8" text-anchor="middle" dominant-baseline="central">50</text>
<polyline points="102.3,320.2 113.2,327.3 124.0,320.2 134.9,377.6 145.7,349.0 156.5,320.2 167.4,347.2 178.2,321.3 189.1,332.0 199.9,347.8 210.7,410.2 221.6,321.5 232.4,378.1 243.3,345.2 254.1,372.5 264.9,320.1 275.8,320.1 286.6,372.9 297.5,376.2 308.3,320.5 319.1,347.7 330.0,343.5 340.8,324.7 351.7,323.6 362.5,324.7 373.3,320.5 384.2,321.9 395.0,465.7 405.9,320.1 416.7,326.8 427.5,336.2 438.4,341.9 449.2,383.4 460.1,334.1 470.9,355.7 481.7,325.7 492.6,387.1 503.4,320.5 514.3,399.7 525.1,326.8 535.9,340.0 546.8,329.9 557.6,322.2 568.5,401.5 579.3,326.7 590.1,352.5 601.0,324.6 611.8,365.2 622.7,322.3 633.5,329.2" fill="none" stroke="#0072bd" stroke-width="1"/>
</svg>
</body></html>
